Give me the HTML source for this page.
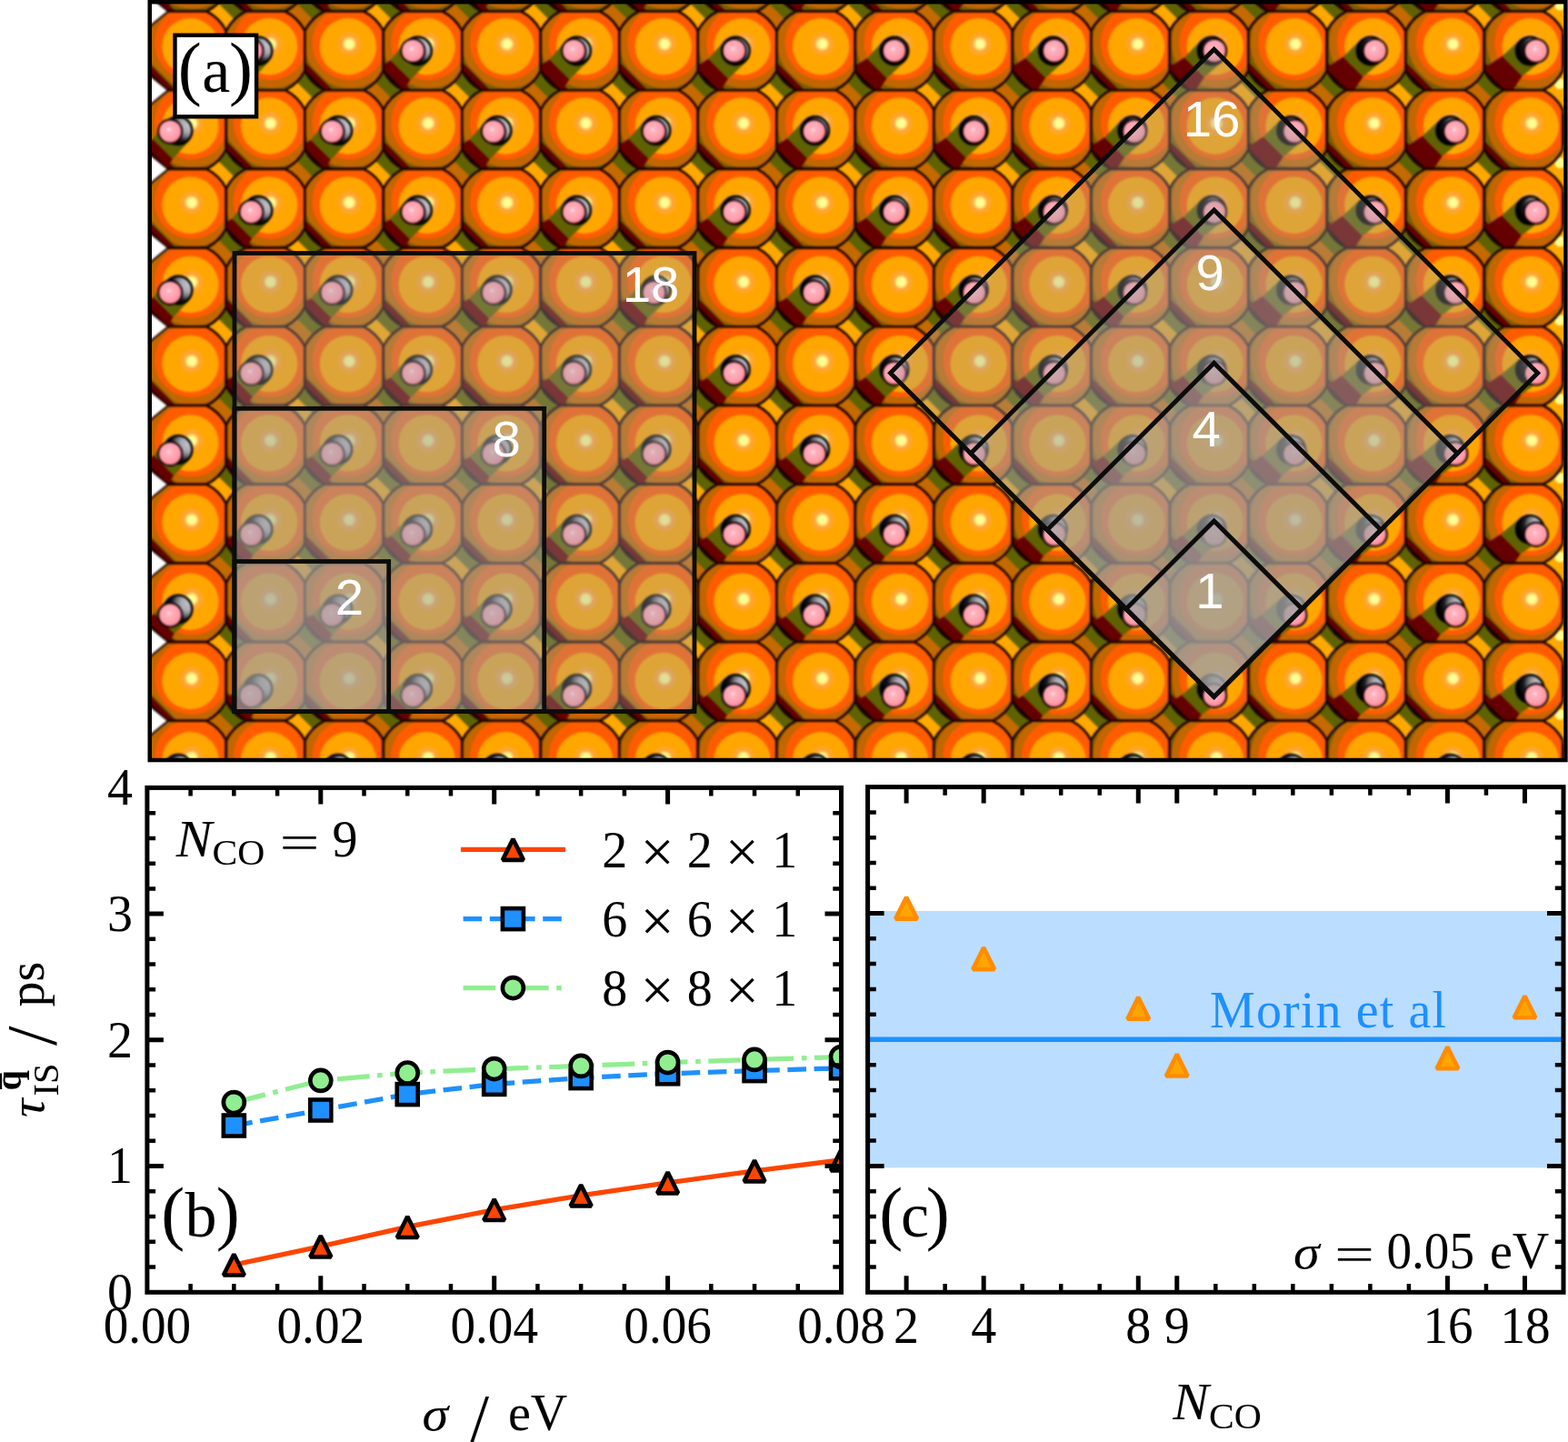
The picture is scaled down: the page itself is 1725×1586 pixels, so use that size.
<!DOCTYPE html>
<html lang="en"><head><meta charset="utf-8"><title>Figure</title>
<style>
html,body{margin:0;padding:0;background:#fff;}
body{width:1725px;height:1586px;overflow:hidden;}
svg{display:block;}
.se{font-family:"Liberation Serif","DejaVu Serif",serif;}
.sa{font-family:"Liberation Sans","DejaVu Sans",sans-serif;}
</style></head><body>
<svg width="1725" height="1586" viewBox="0 0 1725 1586">
<defs>
<path id="cs" d="M-43.25,-21.95L-43.25,21.95A48.5,48.5 0 0 0 -21.75,43.35L21.75,43.35A48.5,48.5 0 0 0 43.25,21.95L43.25,-21.95A48.5,48.5 0 0 0 21.75,-43.35L-21.75,-43.35A48.5,48.5 0 0 0 -43.25,-21.95Z"/>
<clipPath id="cc"><use href="#cs"/></clipPath>
<clipPath id="sh"><ellipse cx="26" cy="0" rx="40" ry="17"/></clipPath>
<clipPath id="pa"><rect x="167" y="4.4" width="1553" height="829.4"/></clipPath>
<clipPath id="pb"><rect x="161.9" y="866.4" width="763.6" height="554.9"/></clipPath>
<radialGradient id="gO" cx="0.45" cy="0.42" r="0.62"><stop offset="0" stop-color="#fff"/><stop offset="0.14" stop-color="#ffb4c0"/><stop offset="0.7" stop-color="#ff9aa8"/><stop offset="1" stop-color="#e8607a"/></radialGradient>
<radialGradient id="gC" cx="0.85" cy="0.3" r="0.78"><stop offset="0" stop-color="#c2c2ca"/><stop offset="0.35" stop-color="#a8a8b0"/><stop offset="0.55" stop-color="#707076"/><stop offset="0.74" stop-color="#1a1a1e"/><stop offset="1" stop-color="#000"/></radialGradient>
<radialGradient id="gH"><stop offset="0" stop-color="#ffffa0"/><stop offset="0.5" stop-color="#ffff8c"/><stop offset="0.75" stop-color="#ffd070"/><stop offset="1" stop-color="#ffb050" stop-opacity="0"/></radialGradient>
<filter id="bl" x="0" y="0" width="100%" height="100%" filterUnits="userSpaceOnUse" color-interpolation-filters="sRGB"><feGaussianBlur stdDeviation="1.0"/></filter>
</defs>
<rect width="1725" height="1586" fill="#fff"/>
<g clip-path="url(#pa)">
<g filter="url(#bl)">
<rect x="160" y="0" width="1565" height="840" fill="#1c0a00"/>
<g>
<rect x="136.3" y="-13.5" width="52" height="52" fill="#fff"/>
<rect x="136.3" y="73.2" width="52" height="52" fill="#fff"/>
<rect x="136.3" y="159.9" width="52" height="52" fill="#fff"/>
<rect x="136.3" y="246.6" width="52" height="52" fill="#fff"/>
<rect x="136.3" y="333.3" width="52" height="52" fill="#fff"/>
<rect x="136.3" y="420" width="52" height="52" fill="#fff"/>
<rect x="136.3" y="506.7" width="52" height="52" fill="#fff"/>
<rect x="136.3" y="593.4" width="52" height="52" fill="#fff"/>
<rect x="136.3" y="680.1" width="52" height="52" fill="#fff"/>
<rect x="136.3" y="766.8" width="52" height="52" fill="#fff"/>
<g transform="translate(248.8,12.5)"><rect x="-26" y="-26" width="52" height="52" fill="#ffa800"/><path d="M-25.7,-26L26,-26L26,25.7Z" fill="#5f6200"/></g>
<g transform="translate(248.8,99.2)"><rect x="-26" y="-26" width="52" height="52" fill="#c46a00"/><path d="M-25.7,-26L26,-26L26,25.7Z" fill="#5f6200"/></g>
<g transform="translate(248.8,185.9)"><rect x="-26" y="-26" width="52" height="52" fill="#ffa800"/><path d="M-25.7,-26L26,-26L26,25.7Z" fill="#5f6200"/></g>
<g transform="translate(248.8,272.6)"><rect x="-26" y="-26" width="52" height="52" fill="#c46a00"/><path d="M-25.7,-26L26,-26L26,25.7Z" fill="#5f6200"/></g>
<g transform="translate(248.8,359.3)"><rect x="-26" y="-26" width="52" height="52" fill="#ffa800"/><path d="M-25.7,-26L26,-26L26,25.7Z" fill="#5f6200"/></g>
<g transform="translate(248.8,446)"><rect x="-26" y="-26" width="52" height="52" fill="#c46a00"/><path d="M-25.7,-26L26,-26L26,25.7Z" fill="#5f6200"/></g>
<g transform="translate(248.8,532.7)"><rect x="-26" y="-26" width="52" height="52" fill="#ffa800"/><path d="M-25.7,-26L26,-26L26,25.7Z" fill="#5f6200"/></g>
<g transform="translate(248.8,619.4)"><rect x="-26" y="-26" width="52" height="52" fill="#c46a00"/><path d="M-25.7,-26L26,-26L26,25.7Z" fill="#5f6200"/></g>
<g transform="translate(248.8,706.1)"><rect x="-26" y="-26" width="52" height="52" fill="#ffa800"/><path d="M-25.7,-26L26,-26L26,25.7Z" fill="#5f6200"/></g>
<g transform="translate(248.8,792.8)"><rect x="-26" y="-26" width="52" height="52" fill="#c46a00"/><path d="M-25.7,-26L26,-26L26,25.7Z" fill="#5f6200"/></g>
<g transform="translate(335.3,12.5)"><rect x="-26" y="-26" width="52" height="52" fill="#c46a00"/><path d="M-25.7,-26L26,-26L26,25.7Z" fill="#5f6200"/></g>
<g transform="translate(335.3,99.2)"><rect x="-26" y="-26" width="52" height="52" fill="#ffa800"/><path d="M-25.7,-26L26,-26L26,25.7Z" fill="#5f6200"/></g>
<g transform="translate(335.3,185.9)"><rect x="-26" y="-26" width="52" height="52" fill="#c46a00"/><path d="M-25.7,-26L26,-26L26,25.7Z" fill="#5f6200"/></g>
<g transform="translate(335.3,272.6)"><rect x="-26" y="-26" width="52" height="52" fill="#ffa800"/><path d="M-25.7,-26L26,-26L26,25.7Z" fill="#5f6200"/></g>
<g transform="translate(335.3,359.3)"><rect x="-26" y="-26" width="52" height="52" fill="#c46a00"/><path d="M-25.7,-26L26,-26L26,25.7Z" fill="#5f6200"/></g>
<g transform="translate(335.3,446)"><rect x="-26" y="-26" width="52" height="52" fill="#ffa800"/><path d="M-25.7,-26L26,-26L26,25.7Z" fill="#5f6200"/></g>
<g transform="translate(335.3,532.7)"><rect x="-26" y="-26" width="52" height="52" fill="#c46a00"/><path d="M-25.7,-26L26,-26L26,25.7Z" fill="#5f6200"/></g>
<g transform="translate(335.3,619.4)"><rect x="-26" y="-26" width="52" height="52" fill="#ffa800"/><path d="M-25.7,-26L26,-26L26,25.7Z" fill="#5f6200"/></g>
<g transform="translate(335.3,706.1)"><rect x="-26" y="-26" width="52" height="52" fill="#c46a00"/><path d="M-25.7,-26L26,-26L26,25.7Z" fill="#5f6200"/></g>
<g transform="translate(335.3,792.8)"><rect x="-26" y="-26" width="52" height="52" fill="#ffa800"/><path d="M-25.7,-26L26,-26L26,25.7Z" fill="#5f6200"/></g>
<g transform="translate(421.8,12.5)"><rect x="-26" y="-26" width="52" height="52" fill="#ffa800"/><path d="M-25.7,-26L26,-26L26,25.7Z" fill="#5f6200"/></g>
<g transform="translate(421.8,99.2)"><rect x="-26" y="-26" width="52" height="52" fill="#c46a00"/><path d="M-25.7,-26L26,-26L26,25.7Z" fill="#5f6200"/></g>
<g transform="translate(421.8,185.9)"><rect x="-26" y="-26" width="52" height="52" fill="#ffa800"/><path d="M-25.7,-26L26,-26L26,25.7Z" fill="#5f6200"/></g>
<g transform="translate(421.8,272.6)"><rect x="-26" y="-26" width="52" height="52" fill="#c46a00"/><path d="M-25.7,-26L26,-26L26,25.7Z" fill="#5f6200"/></g>
<g transform="translate(421.8,359.3)"><rect x="-26" y="-26" width="52" height="52" fill="#ffa800"/><path d="M-25.7,-26L26,-26L26,25.7Z" fill="#5f6200"/></g>
<g transform="translate(421.8,446)"><rect x="-26" y="-26" width="52" height="52" fill="#c46a00"/><path d="M-25.7,-26L26,-26L26,25.7Z" fill="#5f6200"/></g>
<g transform="translate(421.8,532.7)"><rect x="-26" y="-26" width="52" height="52" fill="#ffa800"/><path d="M-25.7,-26L26,-26L26,25.7Z" fill="#5f6200"/></g>
<g transform="translate(421.8,619.4)"><rect x="-26" y="-26" width="52" height="52" fill="#c46a00"/><path d="M-25.7,-26L26,-26L26,25.7Z" fill="#5f6200"/></g>
<g transform="translate(421.8,706.1)"><rect x="-26" y="-26" width="52" height="52" fill="#ffa800"/><path d="M-25.7,-26L26,-26L26,25.7Z" fill="#5f6200"/></g>
<g transform="translate(421.8,792.8)"><rect x="-26" y="-26" width="52" height="52" fill="#c46a00"/><path d="M-25.7,-26L26,-26L26,25.7Z" fill="#5f6200"/></g>
<g transform="translate(508.3,12.5)"><rect x="-26" y="-26" width="52" height="52" fill="#c46a00"/><path d="M-25.7,-26L26,-26L26,25.7Z" fill="#5f6200"/></g>
<g transform="translate(508.3,99.2)"><rect x="-26" y="-26" width="52" height="52" fill="#ffa800"/><path d="M-25.7,-26L26,-26L26,25.7Z" fill="#5f6200"/></g>
<g transform="translate(508.3,185.9)"><rect x="-26" y="-26" width="52" height="52" fill="#c46a00"/><path d="M-25.7,-26L26,-26L26,25.7Z" fill="#5f6200"/></g>
<g transform="translate(508.3,272.6)"><rect x="-26" y="-26" width="52" height="52" fill="#ffa800"/><path d="M-25.7,-26L26,-26L26,25.7Z" fill="#5f6200"/></g>
<g transform="translate(508.3,359.3)"><rect x="-26" y="-26" width="52" height="52" fill="#c46a00"/><path d="M-25.7,-26L26,-26L26,25.7Z" fill="#5f6200"/></g>
<g transform="translate(508.3,446)"><rect x="-26" y="-26" width="52" height="52" fill="#ffa800"/><path d="M-25.7,-26L26,-26L26,25.7Z" fill="#5f6200"/></g>
<g transform="translate(508.3,532.7)"><rect x="-26" y="-26" width="52" height="52" fill="#c46a00"/><path d="M-25.7,-26L26,-26L26,25.7Z" fill="#5f6200"/></g>
<g transform="translate(508.3,619.4)"><rect x="-26" y="-26" width="52" height="52" fill="#ffa800"/><path d="M-25.7,-26L26,-26L26,25.7Z" fill="#5f6200"/></g>
<g transform="translate(508.3,706.1)"><rect x="-26" y="-26" width="52" height="52" fill="#c46a00"/><path d="M-25.7,-26L26,-26L26,25.7Z" fill="#5f6200"/></g>
<g transform="translate(508.3,792.8)"><rect x="-26" y="-26" width="52" height="52" fill="#ffa800"/><path d="M-25.7,-26L26,-26L26,25.7Z" fill="#5f6200"/></g>
<g transform="translate(594.8,12.5)"><rect x="-26" y="-26" width="52" height="52" fill="#ffa800"/><path d="M-25.7,-26L26,-26L26,25.7Z" fill="#5f6200"/></g>
<g transform="translate(594.8,99.2)"><rect x="-26" y="-26" width="52" height="52" fill="#c46a00"/><path d="M-25.7,-26L26,-26L26,25.7Z" fill="#5f6200"/></g>
<g transform="translate(594.8,185.9)"><rect x="-26" y="-26" width="52" height="52" fill="#ffa800"/><path d="M-25.7,-26L26,-26L26,25.7Z" fill="#5f6200"/></g>
<g transform="translate(594.8,272.6)"><rect x="-26" y="-26" width="52" height="52" fill="#c46a00"/><path d="M-25.7,-26L26,-26L26,25.7Z" fill="#5f6200"/></g>
<g transform="translate(594.8,359.3)"><rect x="-26" y="-26" width="52" height="52" fill="#ffa800"/><path d="M-25.7,-26L26,-26L26,25.7Z" fill="#5f6200"/></g>
<g transform="translate(594.8,446)"><rect x="-26" y="-26" width="52" height="52" fill="#c46a00"/><path d="M-25.7,-26L26,-26L26,25.7Z" fill="#5f6200"/></g>
<g transform="translate(594.8,532.7)"><rect x="-26" y="-26" width="52" height="52" fill="#ffa800"/><path d="M-25.7,-26L26,-26L26,25.7Z" fill="#5f6200"/></g>
<g transform="translate(594.8,619.4)"><rect x="-26" y="-26" width="52" height="52" fill="#c46a00"/><path d="M-25.7,-26L26,-26L26,25.7Z" fill="#5f6200"/></g>
<g transform="translate(594.8,706.1)"><rect x="-26" y="-26" width="52" height="52" fill="#ffa800"/><path d="M-25.7,-26L26,-26L26,25.7Z" fill="#5f6200"/></g>
<g transform="translate(594.8,792.8)"><rect x="-26" y="-26" width="52" height="52" fill="#c46a00"/><path d="M-25.7,-26L26,-26L26,25.7Z" fill="#5f6200"/></g>
<g transform="translate(681.3,12.5)"><rect x="-26" y="-26" width="52" height="52" fill="#c46a00"/><path d="M-25.7,-26L26,-26L26,25.7Z" fill="#5f6200"/></g>
<g transform="translate(681.3,99.2)"><rect x="-26" y="-26" width="52" height="52" fill="#ffa800"/><path d="M-25.7,-26L26,-26L26,25.7Z" fill="#5f6200"/></g>
<g transform="translate(681.3,185.9)"><rect x="-26" y="-26" width="52" height="52" fill="#c46a00"/><path d="M-25.7,-26L26,-26L26,25.7Z" fill="#5f6200"/></g>
<g transform="translate(681.3,272.6)"><rect x="-26" y="-26" width="52" height="52" fill="#ffa800"/><path d="M-25.7,-26L26,-26L26,25.7Z" fill="#5f6200"/></g>
<g transform="translate(681.3,359.3)"><rect x="-26" y="-26" width="52" height="52" fill="#c46a00"/><path d="M-25.7,-26L26,-26L26,25.7Z" fill="#5f6200"/></g>
<g transform="translate(681.3,446)"><rect x="-26" y="-26" width="52" height="52" fill="#ffa800"/><path d="M-25.7,-26L26,-26L26,25.7Z" fill="#5f6200"/></g>
<g transform="translate(681.3,532.7)"><rect x="-26" y="-26" width="52" height="52" fill="#c46a00"/><path d="M-25.7,-26L26,-26L26,25.7Z" fill="#5f6200"/></g>
<g transform="translate(681.3,619.4)"><rect x="-26" y="-26" width="52" height="52" fill="#ffa800"/><path d="M-25.7,-26L26,-26L26,25.7Z" fill="#5f6200"/></g>
<g transform="translate(681.3,706.1)"><rect x="-26" y="-26" width="52" height="52" fill="#c46a00"/><path d="M-25.7,-26L26,-26L26,25.7Z" fill="#5f6200"/></g>
<g transform="translate(681.3,792.8)"><rect x="-26" y="-26" width="52" height="52" fill="#ffa800"/><path d="M-25.7,-26L26,-26L26,25.7Z" fill="#5f6200"/></g>
<g transform="translate(767.8,12.5)"><rect x="-26" y="-26" width="52" height="52" fill="#ffa800"/><path d="M-25.7,-26L26,-26L26,25.7Z" fill="#5f6200"/></g>
<g transform="translate(767.8,99.2)"><rect x="-26" y="-26" width="52" height="52" fill="#c46a00"/><path d="M-25.7,-26L26,-26L26,25.7Z" fill="#5f6200"/></g>
<g transform="translate(767.8,185.9)"><rect x="-26" y="-26" width="52" height="52" fill="#ffa800"/><path d="M-25.7,-26L26,-26L26,25.7Z" fill="#5f6200"/></g>
<g transform="translate(767.8,272.6)"><rect x="-26" y="-26" width="52" height="52" fill="#c46a00"/><path d="M-25.7,-26L26,-26L26,25.7Z" fill="#5f6200"/></g>
<g transform="translate(767.8,359.3)"><rect x="-26" y="-26" width="52" height="52" fill="#ffa800"/><path d="M-25.7,-26L26,-26L26,25.7Z" fill="#5f6200"/></g>
<g transform="translate(767.8,446)"><rect x="-26" y="-26" width="52" height="52" fill="#c46a00"/><path d="M-25.7,-26L26,-26L26,25.7Z" fill="#5f6200"/></g>
<g transform="translate(767.8,532.7)"><rect x="-26" y="-26" width="52" height="52" fill="#ffa800"/><path d="M-25.7,-26L26,-26L26,25.7Z" fill="#5f6200"/></g>
<g transform="translate(767.8,619.4)"><rect x="-26" y="-26" width="52" height="52" fill="#c46a00"/><path d="M-25.7,-26L26,-26L26,25.7Z" fill="#5f6200"/></g>
<g transform="translate(767.8,706.1)"><rect x="-26" y="-26" width="52" height="52" fill="#ffa800"/><path d="M-25.7,-26L26,-26L26,25.7Z" fill="#5f6200"/></g>
<g transform="translate(767.8,792.8)"><rect x="-26" y="-26" width="52" height="52" fill="#c46a00"/><path d="M-25.7,-26L26,-26L26,25.7Z" fill="#5f6200"/></g>
<g transform="translate(854.3,12.5)"><rect x="-26" y="-26" width="52" height="52" fill="#c46a00"/><path d="M-25.7,-26L26,-26L26,25.7Z" fill="#5f6200"/></g>
<g transform="translate(854.3,99.2)"><rect x="-26" y="-26" width="52" height="52" fill="#ffa800"/><path d="M-25.7,-26L26,-26L26,25.7Z" fill="#5f6200"/></g>
<g transform="translate(854.3,185.9)"><rect x="-26" y="-26" width="52" height="52" fill="#c46a00"/><path d="M-25.7,-26L26,-26L26,25.7Z" fill="#5f6200"/></g>
<g transform="translate(854.3,272.6)"><rect x="-26" y="-26" width="52" height="52" fill="#ffa800"/><path d="M-25.7,-26L26,-26L26,25.7Z" fill="#5f6200"/></g>
<g transform="translate(854.3,359.3)"><rect x="-26" y="-26" width="52" height="52" fill="#c46a00"/><path d="M-25.7,-26L26,-26L26,25.7Z" fill="#5f6200"/></g>
<g transform="translate(854.3,446)"><rect x="-26" y="-26" width="52" height="52" fill="#ffa800"/><path d="M-25.7,-26L26,-26L26,25.7Z" fill="#5f6200"/></g>
<g transform="translate(854.3,532.7)"><rect x="-26" y="-26" width="52" height="52" fill="#c46a00"/><path d="M-25.7,-26L26,-26L26,25.7Z" fill="#5f6200"/></g>
<g transform="translate(854.3,619.4)"><rect x="-26" y="-26" width="52" height="52" fill="#ffa800"/><path d="M-25.7,-26L26,-26L26,25.7Z" fill="#5f6200"/></g>
<g transform="translate(854.3,706.1)"><rect x="-26" y="-26" width="52" height="52" fill="#c46a00"/><path d="M-25.7,-26L26,-26L26,25.7Z" fill="#5f6200"/></g>
<g transform="translate(854.3,792.8)"><rect x="-26" y="-26" width="52" height="52" fill="#ffa800"/><path d="M-25.7,-26L26,-26L26,25.7Z" fill="#5f6200"/></g>
<g transform="translate(940.8,12.5)"><rect x="-26" y="-26" width="52" height="52" fill="#ffa800"/><path d="M-25.7,-26L26,-26L26,25.7Z" fill="#5f6200"/></g>
<g transform="translate(940.8,99.2)"><rect x="-26" y="-26" width="52" height="52" fill="#c46a00"/><path d="M-25.7,-26L26,-26L26,25.7Z" fill="#5f6200"/></g>
<g transform="translate(940.8,185.9)"><rect x="-26" y="-26" width="52" height="52" fill="#ffa800"/><path d="M-25.7,-26L26,-26L26,25.7Z" fill="#5f6200"/></g>
<g transform="translate(940.8,272.6)"><rect x="-26" y="-26" width="52" height="52" fill="#c46a00"/><path d="M-25.7,-26L26,-26L26,25.7Z" fill="#5f6200"/></g>
<g transform="translate(940.8,359.3)"><rect x="-26" y="-26" width="52" height="52" fill="#ffa800"/><path d="M-25.7,-26L26,-26L26,25.7Z" fill="#5f6200"/></g>
<g transform="translate(940.8,446)"><rect x="-26" y="-26" width="52" height="52" fill="#c46a00"/><path d="M-25.7,-26L26,-26L26,25.7Z" fill="#5f6200"/></g>
<g transform="translate(940.8,532.7)"><rect x="-26" y="-26" width="52" height="52" fill="#ffa800"/><path d="M-25.7,-26L26,-26L26,25.7Z" fill="#5f6200"/></g>
<g transform="translate(940.8,619.4)"><rect x="-26" y="-26" width="52" height="52" fill="#c46a00"/><path d="M-25.7,-26L26,-26L26,25.7Z" fill="#5f6200"/></g>
<g transform="translate(940.8,706.1)"><rect x="-26" y="-26" width="52" height="52" fill="#ffa800"/><path d="M-25.7,-26L26,-26L26,25.7Z" fill="#5f6200"/></g>
<g transform="translate(940.8,792.8)"><rect x="-26" y="-26" width="52" height="52" fill="#c46a00"/><path d="M-25.7,-26L26,-26L26,25.7Z" fill="#5f6200"/></g>
<g transform="translate(1027.3,12.5)"><rect x="-26" y="-26" width="52" height="52" fill="#c46a00"/><path d="M-25.7,-26L26,-26L26,25.7Z" fill="#5f6200"/></g>
<g transform="translate(1027.3,99.2)"><rect x="-26" y="-26" width="52" height="52" fill="#ffa800"/><path d="M-25.7,-26L26,-26L26,25.7Z" fill="#5f6200"/></g>
<g transform="translate(1027.3,185.9)"><rect x="-26" y="-26" width="52" height="52" fill="#c46a00"/><path d="M-25.7,-26L26,-26L26,25.7Z" fill="#5f6200"/></g>
<g transform="translate(1027.3,272.6)"><rect x="-26" y="-26" width="52" height="52" fill="#ffa800"/><path d="M-25.7,-26L26,-26L26,25.7Z" fill="#5f6200"/></g>
<g transform="translate(1027.3,359.3)"><rect x="-26" y="-26" width="52" height="52" fill="#c46a00"/><path d="M-25.7,-26L26,-26L26,25.7Z" fill="#5f6200"/></g>
<g transform="translate(1027.3,446)"><rect x="-26" y="-26" width="52" height="52" fill="#ffa800"/><path d="M-25.7,-26L26,-26L26,25.7Z" fill="#5f6200"/></g>
<g transform="translate(1027.3,532.7)"><rect x="-26" y="-26" width="52" height="52" fill="#c46a00"/><path d="M-25.7,-26L26,-26L26,25.7Z" fill="#5f6200"/></g>
<g transform="translate(1027.3,619.4)"><rect x="-26" y="-26" width="52" height="52" fill="#ffa800"/><path d="M-25.7,-26L26,-26L26,25.7Z" fill="#5f6200"/></g>
<g transform="translate(1027.3,706.1)"><rect x="-26" y="-26" width="52" height="52" fill="#c46a00"/><path d="M-25.7,-26L26,-26L26,25.7Z" fill="#5f6200"/></g>
<g transform="translate(1027.3,792.8)"><rect x="-26" y="-26" width="52" height="52" fill="#ffa800"/><path d="M-25.7,-26L26,-26L26,25.7Z" fill="#5f6200"/></g>
<g transform="translate(1113.8,12.5)"><rect x="-26" y="-26" width="52" height="52" fill="#ffa800"/><path d="M-25.7,-26L26,-26L26,25.7Z" fill="#5f6200"/></g>
<g transform="translate(1113.8,99.2)"><rect x="-26" y="-26" width="52" height="52" fill="#c46a00"/><path d="M-25.7,-26L26,-26L26,25.7Z" fill="#5f6200"/></g>
<g transform="translate(1113.8,185.9)"><rect x="-26" y="-26" width="52" height="52" fill="#ffa800"/><path d="M-25.7,-26L26,-26L26,25.7Z" fill="#5f6200"/></g>
<g transform="translate(1113.8,272.6)"><rect x="-26" y="-26" width="52" height="52" fill="#c46a00"/><path d="M-25.7,-26L26,-26L26,25.7Z" fill="#5f6200"/></g>
<g transform="translate(1113.8,359.3)"><rect x="-26" y="-26" width="52" height="52" fill="#ffa800"/><path d="M-25.7,-26L26,-26L26,25.7Z" fill="#5f6200"/></g>
<g transform="translate(1113.8,446)"><rect x="-26" y="-26" width="52" height="52" fill="#c46a00"/><path d="M-25.7,-26L26,-26L26,25.7Z" fill="#5f6200"/></g>
<g transform="translate(1113.8,532.7)"><rect x="-26" y="-26" width="52" height="52" fill="#ffa800"/><path d="M-25.7,-26L26,-26L26,25.7Z" fill="#5f6200"/></g>
<g transform="translate(1113.8,619.4)"><rect x="-26" y="-26" width="52" height="52" fill="#c46a00"/><path d="M-25.7,-26L26,-26L26,25.7Z" fill="#5f6200"/></g>
<g transform="translate(1113.8,706.1)"><rect x="-26" y="-26" width="52" height="52" fill="#ffa800"/><path d="M-25.7,-26L26,-26L26,25.7Z" fill="#5f6200"/></g>
<g transform="translate(1113.8,792.8)"><rect x="-26" y="-26" width="52" height="52" fill="#c46a00"/><path d="M-25.7,-26L26,-26L26,25.7Z" fill="#5f6200"/></g>
<g transform="translate(1200.3,12.5)"><rect x="-26" y="-26" width="52" height="52" fill="#c46a00"/><path d="M-25.7,-26L26,-26L26,25.7Z" fill="#5f6200"/></g>
<g transform="translate(1200.3,99.2)"><rect x="-26" y="-26" width="52" height="52" fill="#ffa800"/><path d="M-25.7,-26L26,-26L26,25.7Z" fill="#5f6200"/></g>
<g transform="translate(1200.3,185.9)"><rect x="-26" y="-26" width="52" height="52" fill="#c46a00"/><path d="M-25.7,-26L26,-26L26,25.7Z" fill="#5f6200"/></g>
<g transform="translate(1200.3,272.6)"><rect x="-26" y="-26" width="52" height="52" fill="#ffa800"/><path d="M-25.7,-26L26,-26L26,25.7Z" fill="#5f6200"/></g>
<g transform="translate(1200.3,359.3)"><rect x="-26" y="-26" width="52" height="52" fill="#c46a00"/><path d="M-25.7,-26L26,-26L26,25.7Z" fill="#5f6200"/></g>
<g transform="translate(1200.3,446)"><rect x="-26" y="-26" width="52" height="52" fill="#ffa800"/><path d="M-25.7,-26L26,-26L26,25.7Z" fill="#5f6200"/></g>
<g transform="translate(1200.3,532.7)"><rect x="-26" y="-26" width="52" height="52" fill="#c46a00"/><path d="M-25.7,-26L26,-26L26,25.7Z" fill="#5f6200"/></g>
<g transform="translate(1200.3,619.4)"><rect x="-26" y="-26" width="52" height="52" fill="#ffa800"/><path d="M-25.7,-26L26,-26L26,25.7Z" fill="#5f6200"/></g>
<g transform="translate(1200.3,706.1)"><rect x="-26" y="-26" width="52" height="52" fill="#c46a00"/><path d="M-25.7,-26L26,-26L26,25.7Z" fill="#5f6200"/></g>
<g transform="translate(1200.3,792.8)"><rect x="-26" y="-26" width="52" height="52" fill="#ffa800"/><path d="M-25.7,-26L26,-26L26,25.7Z" fill="#5f6200"/></g>
<g transform="translate(1286.8,12.5)"><rect x="-26" y="-26" width="52" height="52" fill="#ffa800"/><path d="M-25.7,-26L26,-26L26,25.7Z" fill="#5f6200"/></g>
<g transform="translate(1286.8,99.2)"><rect x="-26" y="-26" width="52" height="52" fill="#c46a00"/><path d="M-25.7,-26L26,-26L26,25.7Z" fill="#5f6200"/></g>
<g transform="translate(1286.8,185.9)"><rect x="-26" y="-26" width="52" height="52" fill="#ffa800"/><path d="M-25.7,-26L26,-26L26,25.7Z" fill="#5f6200"/></g>
<g transform="translate(1286.8,272.6)"><rect x="-26" y="-26" width="52" height="52" fill="#c46a00"/><path d="M-25.7,-26L26,-26L26,25.7Z" fill="#5f6200"/></g>
<g transform="translate(1286.8,359.3)"><rect x="-26" y="-26" width="52" height="52" fill="#ffa800"/><path d="M-25.7,-26L26,-26L26,25.7Z" fill="#5f6200"/></g>
<g transform="translate(1286.8,446)"><rect x="-26" y="-26" width="52" height="52" fill="#c46a00"/><path d="M-25.7,-26L26,-26L26,25.7Z" fill="#5f6200"/></g>
<g transform="translate(1286.8,532.7)"><rect x="-26" y="-26" width="52" height="52" fill="#ffa800"/><path d="M-25.7,-26L26,-26L26,25.7Z" fill="#5f6200"/></g>
<g transform="translate(1286.8,619.4)"><rect x="-26" y="-26" width="52" height="52" fill="#c46a00"/><path d="M-25.7,-26L26,-26L26,25.7Z" fill="#5f6200"/></g>
<g transform="translate(1286.8,706.1)"><rect x="-26" y="-26" width="52" height="52" fill="#ffa800"/><path d="M-25.7,-26L26,-26L26,25.7Z" fill="#5f6200"/></g>
<g transform="translate(1286.8,792.8)"><rect x="-26" y="-26" width="52" height="52" fill="#c46a00"/><path d="M-25.7,-26L26,-26L26,25.7Z" fill="#5f6200"/></g>
<g transform="translate(1373.3,12.5)"><rect x="-26" y="-26" width="52" height="52" fill="#c46a00"/><path d="M-25.7,-26L26,-26L26,25.7Z" fill="#5f6200"/></g>
<g transform="translate(1373.3,99.2)"><rect x="-26" y="-26" width="52" height="52" fill="#ffa800"/><path d="M-25.7,-26L26,-26L26,25.7Z" fill="#5f6200"/></g>
<g transform="translate(1373.3,185.9)"><rect x="-26" y="-26" width="52" height="52" fill="#c46a00"/><path d="M-25.7,-26L26,-26L26,25.7Z" fill="#5f6200"/></g>
<g transform="translate(1373.3,272.6)"><rect x="-26" y="-26" width="52" height="52" fill="#ffa800"/><path d="M-25.7,-26L26,-26L26,25.7Z" fill="#5f6200"/></g>
<g transform="translate(1373.3,359.3)"><rect x="-26" y="-26" width="52" height="52" fill="#c46a00"/><path d="M-25.7,-26L26,-26L26,25.7Z" fill="#5f6200"/></g>
<g transform="translate(1373.3,446)"><rect x="-26" y="-26" width="52" height="52" fill="#ffa800"/><path d="M-25.7,-26L26,-26L26,25.7Z" fill="#5f6200"/></g>
<g transform="translate(1373.3,532.7)"><rect x="-26" y="-26" width="52" height="52" fill="#c46a00"/><path d="M-25.7,-26L26,-26L26,25.7Z" fill="#5f6200"/></g>
<g transform="translate(1373.3,619.4)"><rect x="-26" y="-26" width="52" height="52" fill="#ffa800"/><path d="M-25.7,-26L26,-26L26,25.7Z" fill="#5f6200"/></g>
<g transform="translate(1373.3,706.1)"><rect x="-26" y="-26" width="52" height="52" fill="#c46a00"/><path d="M-25.7,-26L26,-26L26,25.7Z" fill="#5f6200"/></g>
<g transform="translate(1373.3,792.8)"><rect x="-26" y="-26" width="52" height="52" fill="#ffa800"/><path d="M-25.7,-26L26,-26L26,25.7Z" fill="#5f6200"/></g>
<g transform="translate(1459.8,12.5)"><rect x="-26" y="-26" width="52" height="52" fill="#ffa800"/><path d="M-25.7,-26L26,-26L26,25.7Z" fill="#5f6200"/></g>
<g transform="translate(1459.8,99.2)"><rect x="-26" y="-26" width="52" height="52" fill="#c46a00"/><path d="M-25.7,-26L26,-26L26,25.7Z" fill="#5f6200"/></g>
<g transform="translate(1459.8,185.9)"><rect x="-26" y="-26" width="52" height="52" fill="#ffa800"/><path d="M-25.7,-26L26,-26L26,25.7Z" fill="#5f6200"/></g>
<g transform="translate(1459.8,272.6)"><rect x="-26" y="-26" width="52" height="52" fill="#c46a00"/><path d="M-25.7,-26L26,-26L26,25.7Z" fill="#5f6200"/></g>
<g transform="translate(1459.8,359.3)"><rect x="-26" y="-26" width="52" height="52" fill="#ffa800"/><path d="M-25.7,-26L26,-26L26,25.7Z" fill="#5f6200"/></g>
<g transform="translate(1459.8,446)"><rect x="-26" y="-26" width="52" height="52" fill="#c46a00"/><path d="M-25.7,-26L26,-26L26,25.7Z" fill="#5f6200"/></g>
<g transform="translate(1459.8,532.7)"><rect x="-26" y="-26" width="52" height="52" fill="#ffa800"/><path d="M-25.7,-26L26,-26L26,25.7Z" fill="#5f6200"/></g>
<g transform="translate(1459.8,619.4)"><rect x="-26" y="-26" width="52" height="52" fill="#c46a00"/><path d="M-25.7,-26L26,-26L26,25.7Z" fill="#5f6200"/></g>
<g transform="translate(1459.8,706.1)"><rect x="-26" y="-26" width="52" height="52" fill="#ffa800"/><path d="M-25.7,-26L26,-26L26,25.7Z" fill="#5f6200"/></g>
<g transform="translate(1459.8,792.8)"><rect x="-26" y="-26" width="52" height="52" fill="#c46a00"/><path d="M-25.7,-26L26,-26L26,25.7Z" fill="#5f6200"/></g>
<g transform="translate(1546.3,12.5)"><rect x="-26" y="-26" width="52" height="52" fill="#c46a00"/><path d="M-25.7,-26L26,-26L26,25.7Z" fill="#5f6200"/></g>
<g transform="translate(1546.3,99.2)"><rect x="-26" y="-26" width="52" height="52" fill="#ffa800"/><path d="M-25.7,-26L26,-26L26,25.7Z" fill="#5f6200"/></g>
<g transform="translate(1546.3,185.9)"><rect x="-26" y="-26" width="52" height="52" fill="#c46a00"/><path d="M-25.7,-26L26,-26L26,25.7Z" fill="#5f6200"/></g>
<g transform="translate(1546.3,272.6)"><rect x="-26" y="-26" width="52" height="52" fill="#ffa800"/><path d="M-25.7,-26L26,-26L26,25.7Z" fill="#5f6200"/></g>
<g transform="translate(1546.3,359.3)"><rect x="-26" y="-26" width="52" height="52" fill="#c46a00"/><path d="M-25.7,-26L26,-26L26,25.7Z" fill="#5f6200"/></g>
<g transform="translate(1546.3,446)"><rect x="-26" y="-26" width="52" height="52" fill="#ffa800"/><path d="M-25.7,-26L26,-26L26,25.7Z" fill="#5f6200"/></g>
<g transform="translate(1546.3,532.7)"><rect x="-26" y="-26" width="52" height="52" fill="#c46a00"/><path d="M-25.7,-26L26,-26L26,25.7Z" fill="#5f6200"/></g>
<g transform="translate(1546.3,619.4)"><rect x="-26" y="-26" width="52" height="52" fill="#ffa800"/><path d="M-25.7,-26L26,-26L26,25.7Z" fill="#5f6200"/></g>
<g transform="translate(1546.3,706.1)"><rect x="-26" y="-26" width="52" height="52" fill="#c46a00"/><path d="M-25.7,-26L26,-26L26,25.7Z" fill="#5f6200"/></g>
<g transform="translate(1546.3,792.8)"><rect x="-26" y="-26" width="52" height="52" fill="#ffa800"/><path d="M-25.7,-26L26,-26L26,25.7Z" fill="#5f6200"/></g>
<g transform="translate(1632.8,12.5)"><rect x="-26" y="-26" width="52" height="52" fill="#ffa800"/><path d="M-25.7,-26L26,-26L26,25.7Z" fill="#5f6200"/></g>
<g transform="translate(1632.8,99.2)"><rect x="-26" y="-26" width="52" height="52" fill="#c46a00"/><path d="M-25.7,-26L26,-26L26,25.7Z" fill="#5f6200"/></g>
<g transform="translate(1632.8,185.9)"><rect x="-26" y="-26" width="52" height="52" fill="#ffa800"/><path d="M-25.7,-26L26,-26L26,25.7Z" fill="#5f6200"/></g>
<g transform="translate(1632.8,272.6)"><rect x="-26" y="-26" width="52" height="52" fill="#c46a00"/><path d="M-25.7,-26L26,-26L26,25.7Z" fill="#5f6200"/></g>
<g transform="translate(1632.8,359.3)"><rect x="-26" y="-26" width="52" height="52" fill="#ffa800"/><path d="M-25.7,-26L26,-26L26,25.7Z" fill="#5f6200"/></g>
<g transform="translate(1632.8,446)"><rect x="-26" y="-26" width="52" height="52" fill="#c46a00"/><path d="M-25.7,-26L26,-26L26,25.7Z" fill="#5f6200"/></g>
<g transform="translate(1632.8,532.7)"><rect x="-26" y="-26" width="52" height="52" fill="#ffa800"/><path d="M-25.7,-26L26,-26L26,25.7Z" fill="#5f6200"/></g>
<g transform="translate(1632.8,619.4)"><rect x="-26" y="-26" width="52" height="52" fill="#c46a00"/><path d="M-25.7,-26L26,-26L26,25.7Z" fill="#5f6200"/></g>
<g transform="translate(1632.8,706.1)"><rect x="-26" y="-26" width="52" height="52" fill="#ffa800"/><path d="M-25.7,-26L26,-26L26,25.7Z" fill="#5f6200"/></g>
<g transform="translate(1632.8,792.8)"><rect x="-26" y="-26" width="52" height="52" fill="#c46a00"/><path d="M-25.7,-26L26,-26L26,25.7Z" fill="#5f6200"/></g>
<g transform="translate(1719.3,12.5)"><rect x="-26" y="-26" width="52" height="52" fill="#ffa800"/><circle cx="-3" cy="-7" r="6" fill="#ffff8c"/></g>
<g transform="translate(1719.3,99.2)"><rect x="-26" y="-26" width="52" height="52" fill="#ffa800"/><circle cx="-3" cy="-7" r="6" fill="#ffff8c"/></g>
<g transform="translate(1719.3,185.9)"><rect x="-26" y="-26" width="52" height="52" fill="#ffa800"/><circle cx="-3" cy="-7" r="6" fill="#ffff8c"/></g>
<g transform="translate(1719.3,272.6)"><rect x="-26" y="-26" width="52" height="52" fill="#ffa800"/><circle cx="-3" cy="-7" r="6" fill="#ffff8c"/></g>
<g transform="translate(1719.3,359.3)"><rect x="-26" y="-26" width="52" height="52" fill="#ffa800"/><circle cx="-3" cy="-7" r="6" fill="#ffff8c"/></g>
<g transform="translate(1719.3,446)"><rect x="-26" y="-26" width="52" height="52" fill="#ffa800"/><circle cx="-3" cy="-7" r="6" fill="#ffff8c"/></g>
<g transform="translate(1719.3,532.7)"><rect x="-26" y="-26" width="52" height="52" fill="#ffa800"/><circle cx="-3" cy="-7" r="6" fill="#ffff8c"/></g>
<g transform="translate(1719.3,619.4)"><rect x="-26" y="-26" width="52" height="52" fill="#ffa800"/><circle cx="-3" cy="-7" r="6" fill="#ffff8c"/></g>
<g transform="translate(1719.3,706.1)"><rect x="-26" y="-26" width="52" height="52" fill="#ffa800"/><circle cx="-3" cy="-7" r="6" fill="#ffff8c"/></g>
<g transform="translate(1719.3,792.8)"><rect x="-26" y="-26" width="52" height="52" fill="#ffa800"/><circle cx="-3" cy="-7" r="6" fill="#ffff8c"/></g>
</g>
<g transform="translate(205.55,-30.85)"><g clip-path="url(#cc)"><use href="#cs" fill="#c26600"/><circle cx="5.5" cy="-9.17" r="41" fill="#ff5c00"/><circle cx="3.9" cy="-5.12" r="31.2" fill="#ffa600"/><circle cx="5.3" cy="-8.02" r="12.7" fill="#ffa454" opacity="0.55"/><circle cx="5.3" cy="-8.02" r="8.6" fill="url(#gH)"/><circle cx="6" cy="-9.67" r="53.2" stroke="#7a5e00" stroke-width="6" fill="none"/><rect x="37.6" y="-40" width="30" height="80" fill="#6e6200" transform="rotate(135)"/><g transform="rotate(135)"><path d="M6.04,-9.19L34,-11.05L34,19.95L6.04,24.01Z" fill="#5f6200"/><path d="M34,-11.05L76,-19.55L76,28.45L34,19.95Z" fill="#640000"/></g><g transform="rotate(135)"><rect x="39.4" y="-40" width="30" height="80" fill="#640000"/><rect x="45.2" y="-40" width="30" height="80" fill="#140200"/></g></g><use href="#cs" fill="none" stroke="#1a0300" stroke-width="2.6"/></g>
<g transform="translate(292.05,-30.85)"><g clip-path="url(#cc)"><use href="#cs" fill="#c26600"/><circle cx="5.73" cy="-9.17" r="41" fill="#ff5c00"/><circle cx="4.13" cy="-5.12" r="31.2" fill="#ffa600"/><circle cx="5.53" cy="-8.02" r="12.7" fill="#ffa454" opacity="0.55"/><circle cx="5.53" cy="-8.02" r="8.6" fill="url(#gH)"/><circle cx="6.23" cy="-9.67" r="53.2" stroke="#7a5e00" stroke-width="6" fill="none"/><rect x="37.6" y="-40" width="30" height="80" fill="#6e6200" transform="rotate(135)"/><g transform="rotate(135)"><rect x="39.4" y="-40" width="30" height="80" fill="#640000"/><rect x="45.2" y="-40" width="30" height="80" fill="#140200"/></g></g><use href="#cs" fill="none" stroke="#1a0300" stroke-width="2.6"/></g>
<g transform="translate(378.55,-30.85)"><g clip-path="url(#cc)"><use href="#cs" fill="#c26600"/><circle cx="5.95" cy="-9.17" r="41" fill="#ff5c00"/><circle cx="4.35" cy="-5.12" r="31.2" fill="#ffa600"/><circle cx="5.75" cy="-8.02" r="12.7" fill="#ffa454" opacity="0.55"/><circle cx="5.75" cy="-8.02" r="8.6" fill="url(#gH)"/><circle cx="6.45" cy="-9.67" r="53.2" stroke="#7a5e00" stroke-width="6" fill="none"/><rect x="37.6" y="-40" width="30" height="80" fill="#6e6200" transform="rotate(135)"/><g transform="rotate(135)"><path d="M4.11,-11.12L32.65,-12.21L32.65,18.79L4.11,22.08Z" fill="#5f6200"/><path d="M32.65,-12.21L74.65,-20.71L74.65,27.29L32.65,18.79Z" fill="#640000"/></g><g transform="rotate(135)"><rect x="39.4" y="-40" width="30" height="80" fill="#640000"/><rect x="45.2" y="-40" width="30" height="80" fill="#140200"/></g></g><use href="#cs" fill="none" stroke="#1a0300" stroke-width="2.6"/></g>
<g transform="translate(465.05,-30.85)"><g clip-path="url(#cc)"><use href="#cs" fill="#c26600"/><circle cx="6.18" cy="-9.17" r="41" fill="#ff5c00"/><circle cx="4.58" cy="-5.12" r="31.2" fill="#ffa600"/><circle cx="5.98" cy="-8.02" r="12.7" fill="#ffa454" opacity="0.55"/><circle cx="5.98" cy="-8.02" r="8.6" fill="url(#gH)"/><circle cx="6.68" cy="-9.67" r="53.2" stroke="#7a5e00" stroke-width="6" fill="none"/><rect x="37.6" y="-40" width="30" height="80" fill="#6e6200" transform="rotate(135)"/><g transform="rotate(135)"><rect x="39.4" y="-40" width="30" height="80" fill="#640000"/><rect x="45.2" y="-40" width="30" height="80" fill="#140200"/></g></g><use href="#cs" fill="none" stroke="#1a0300" stroke-width="2.6"/></g>
<g transform="translate(551.55,-30.85)"><g clip-path="url(#cc)"><use href="#cs" fill="#c26600"/><circle cx="6.4" cy="-9.17" r="41" fill="#ff5c00"/><circle cx="4.8" cy="-5.12" r="31.2" fill="#ffa600"/><circle cx="6.2" cy="-8.02" r="12.7" fill="#ffa454" opacity="0.55"/><circle cx="6.2" cy="-8.02" r="8.6" fill="url(#gH)"/><circle cx="6.9" cy="-9.67" r="53.2" stroke="#7a5e00" stroke-width="6" fill="none"/><rect x="37.6" y="-40" width="30" height="80" fill="#6e6200" transform="rotate(135)"/><g transform="rotate(135)"><path d="M2.51,-12.72L30.56,-13.17L30.56,17.83L2.51,20.48Z" fill="#5f6200"/><path d="M30.56,-13.17L72.56,-21.67L72.56,26.33L30.56,17.83Z" fill="#640000"/></g><g transform="rotate(135)"><rect x="39.4" y="-40" width="30" height="80" fill="#640000"/><rect x="45.2" y="-40" width="30" height="80" fill="#140200"/></g></g><use href="#cs" fill="none" stroke="#1a0300" stroke-width="2.6"/></g>
<g transform="translate(638.05,-30.85)"><g clip-path="url(#cc)"><use href="#cs" fill="#c26600"/><circle cx="6.63" cy="-9.17" r="41" fill="#ff5c00"/><circle cx="5.03" cy="-5.12" r="31.2" fill="#ffa600"/><circle cx="6.43" cy="-8.02" r="12.7" fill="#ffa454" opacity="0.55"/><circle cx="6.43" cy="-8.02" r="8.6" fill="url(#gH)"/><circle cx="7.13" cy="-9.67" r="53.2" stroke="#7a5e00" stroke-width="6" fill="none"/><rect x="37.6" y="-40" width="30" height="80" fill="#6e6200" transform="rotate(135)"/><g transform="rotate(135)"><rect x="39.4" y="-40" width="30" height="80" fill="#640000"/><rect x="45.2" y="-40" width="30" height="80" fill="#140200"/></g></g><use href="#cs" fill="none" stroke="#1a0300" stroke-width="2.6"/></g>
<g transform="translate(724.55,-30.85)"><g clip-path="url(#cc)"><use href="#cs" fill="#c26600"/><circle cx="6.85" cy="-9.17" r="41" fill="#ff5c00"/><circle cx="5.25" cy="-5.12" r="31.2" fill="#ffa600"/><circle cx="6.65" cy="-8.02" r="12.7" fill="#ffa454" opacity="0.55"/><circle cx="6.65" cy="-8.02" r="8.6" fill="url(#gH)"/><circle cx="7.35" cy="-9.67" r="53.2" stroke="#7a5e00" stroke-width="6" fill="none"/><rect x="37.6" y="-40" width="30" height="80" fill="#6e6200" transform="rotate(135)"/><g transform="rotate(135)"><path d="M1.15,-14.08L28.8,-13.99L28.8,17.01L1.15,19.12Z" fill="#5f6200"/><path d="M28.8,-13.99L70.8,-22.49L70.8,25.51L28.8,17.01Z" fill="#640000"/></g><g transform="rotate(135)"><rect x="39.4" y="-40" width="30" height="80" fill="#640000"/><rect x="45.2" y="-40" width="30" height="80" fill="#140200"/></g></g><use href="#cs" fill="none" stroke="#1a0300" stroke-width="2.6"/></g>
<g transform="translate(811.05,-30.85)"><g clip-path="url(#cc)"><use href="#cs" fill="#c26600"/><circle cx="7.08" cy="-9.17" r="41" fill="#ff5c00"/><circle cx="5.48" cy="-5.12" r="31.2" fill="#ffa600"/><circle cx="6.88" cy="-8.02" r="12.7" fill="#ffa454" opacity="0.55"/><circle cx="6.88" cy="-8.02" r="8.6" fill="url(#gH)"/><circle cx="7.58" cy="-9.67" r="53.2" stroke="#7a5e00" stroke-width="6" fill="none"/><rect x="37.6" y="-40" width="30" height="80" fill="#6e6200" transform="rotate(135)"/><g transform="rotate(135)"><rect x="39.4" y="-40" width="30" height="80" fill="#640000"/><rect x="45.2" y="-40" width="30" height="80" fill="#140200"/></g></g><use href="#cs" fill="none" stroke="#1a0300" stroke-width="2.6"/></g>
<g transform="translate(897.55,-30.85)"><g clip-path="url(#cc)"><use href="#cs" fill="#c26600"/><circle cx="7.3" cy="-9.17" r="41" fill="#ff5c00"/><circle cx="5.7" cy="-5.12" r="31.2" fill="#ffa600"/><circle cx="7.1" cy="-8.02" r="12.7" fill="#ffa454" opacity="0.55"/><circle cx="7.1" cy="-8.02" r="8.6" fill="url(#gH)"/><circle cx="7.8" cy="-9.67" r="53.2" stroke="#7a5e00" stroke-width="6" fill="none"/><rect x="37.6" y="-40" width="30" height="80" fill="#6e6200" transform="rotate(135)"/><g transform="rotate(135)"><path d="M-0.05,-15.28L27.23,-14.71L27.23,16.29L-0.05,17.92Z" fill="#5f6200"/><path d="M27.23,-14.71L69.23,-23.21L69.23,24.79L27.23,16.29Z" fill="#640000"/></g><g transform="rotate(135)"><rect x="39.4" y="-40" width="30" height="80" fill="#640000"/><rect x="45.2" y="-40" width="30" height="80" fill="#140200"/></g></g><use href="#cs" fill="none" stroke="#1a0300" stroke-width="2.6"/></g>
<g transform="translate(984.05,-30.85)"><g clip-path="url(#cc)"><use href="#cs" fill="#c26600"/><circle cx="7.53" cy="-9.17" r="41" fill="#ff5c00"/><circle cx="5.93" cy="-5.12" r="31.2" fill="#ffa600"/><circle cx="7.33" cy="-8.02" r="12.7" fill="#ffa454" opacity="0.55"/><circle cx="7.33" cy="-8.02" r="8.6" fill="url(#gH)"/><circle cx="8.03" cy="-9.67" r="53.2" stroke="#7a5e00" stroke-width="6" fill="none"/><rect x="37.6" y="-40" width="30" height="80" fill="#6e6200" transform="rotate(135)"/><g transform="rotate(135)"><rect x="39.4" y="-40" width="30" height="80" fill="#640000"/><rect x="45.2" y="-40" width="30" height="80" fill="#140200"/></g></g><use href="#cs" fill="none" stroke="#1a0300" stroke-width="2.6"/></g>
<g transform="translate(1070.55,-30.85)"><g clip-path="url(#cc)"><use href="#cs" fill="#c26600"/><circle cx="7.75" cy="-9.17" r="41" fill="#ff5c00"/><circle cx="6.15" cy="-5.12" r="31.2" fill="#ffa600"/><circle cx="7.55" cy="-8.02" r="12.7" fill="#ffa454" opacity="0.55"/><circle cx="7.55" cy="-8.02" r="8.6" fill="url(#gH)"/><circle cx="8.25" cy="-9.67" r="53.2" stroke="#7a5e00" stroke-width="6" fill="none"/><rect x="37.6" y="-40" width="30" height="80" fill="#6e6200" transform="rotate(135)"/><g transform="rotate(135)"><path d="M-1.18,-16.41L25.77,-15.39L25.77,15.61L-1.18,16.79Z" fill="#5f6200"/><path d="M25.77,-15.39L67.77,-23.89L67.77,24.11L25.77,15.61Z" fill="#640000"/></g><g transform="rotate(135)"><rect x="39.4" y="-40" width="30" height="80" fill="#640000"/><rect x="45.2" y="-40" width="30" height="80" fill="#140200"/></g></g><use href="#cs" fill="none" stroke="#1a0300" stroke-width="2.6"/></g>
<g transform="translate(1157.05,-30.85)"><g clip-path="url(#cc)"><use href="#cs" fill="#c26600"/><circle cx="7.98" cy="-9.17" r="41" fill="#ff5c00"/><circle cx="6.38" cy="-5.12" r="31.2" fill="#ffa600"/><circle cx="7.78" cy="-8.02" r="12.7" fill="#ffa454" opacity="0.55"/><circle cx="7.78" cy="-8.02" r="8.6" fill="url(#gH)"/><circle cx="8.48" cy="-9.67" r="53.2" stroke="#7a5e00" stroke-width="6" fill="none"/><rect x="37.6" y="-40" width="30" height="80" fill="#6e6200" transform="rotate(135)"/><g transform="rotate(135)"><rect x="39.4" y="-40" width="30" height="80" fill="#640000"/><rect x="45.2" y="-40" width="30" height="80" fill="#140200"/></g></g><use href="#cs" fill="none" stroke="#1a0300" stroke-width="2.6"/></g>
<g transform="translate(1243.55,-30.85)"><g clip-path="url(#cc)"><use href="#cs" fill="#c26600"/><circle cx="8.2" cy="-9.17" r="41" fill="#ff5c00"/><circle cx="6.6" cy="-5.12" r="31.2" fill="#ffa600"/><circle cx="8" cy="-8.02" r="12.7" fill="#ffa454" opacity="0.55"/><circle cx="8" cy="-8.02" r="8.6" fill="url(#gH)"/><circle cx="8.7" cy="-9.67" r="53.2" stroke="#7a5e00" stroke-width="6" fill="none"/><rect x="37.6" y="-40" width="30" height="80" fill="#6e6200" transform="rotate(135)"/><g transform="rotate(135)"><path d="M-2.32,-17.55L24.28,-16.07L24.28,14.93L-2.32,15.65Z" fill="#5f6200"/><path d="M24.28,-16.07L66.28,-24.57L66.28,23.43L24.28,14.93Z" fill="#640000"/></g><g transform="rotate(135)"><rect x="39.4" y="-40" width="30" height="80" fill="#640000"/><rect x="45.2" y="-40" width="30" height="80" fill="#140200"/></g></g><use href="#cs" fill="none" stroke="#1a0300" stroke-width="2.6"/></g>
<g transform="translate(1330.05,-30.85)"><g clip-path="url(#cc)"><use href="#cs" fill="#c26600"/><circle cx="8.43" cy="-9.17" r="41" fill="#ff5c00"/><circle cx="6.83" cy="-5.12" r="31.2" fill="#ffa600"/><circle cx="8.23" cy="-8.02" r="12.7" fill="#ffa454" opacity="0.55"/><circle cx="8.23" cy="-8.02" r="8.6" fill="url(#gH)"/><circle cx="8.93" cy="-9.67" r="53.2" stroke="#7a5e00" stroke-width="6" fill="none"/><rect x="37.6" y="-40" width="30" height="80" fill="#6e6200" transform="rotate(135)"/><g transform="rotate(135)"><rect x="39.4" y="-40" width="30" height="80" fill="#640000"/><rect x="45.2" y="-40" width="30" height="80" fill="#140200"/></g></g><use href="#cs" fill="none" stroke="#1a0300" stroke-width="2.6"/></g>
<g transform="translate(1416.55,-30.85)"><g clip-path="url(#cc)"><use href="#cs" fill="#c26600"/><circle cx="8.65" cy="-9.17" r="41" fill="#ff5c00"/><circle cx="7.05" cy="-5.12" r="31.2" fill="#ffa600"/><circle cx="8.45" cy="-8.02" r="12.7" fill="#ffa454" opacity="0.55"/><circle cx="8.45" cy="-8.02" r="8.6" fill="url(#gH)"/><circle cx="9.15" cy="-9.67" r="53.2" stroke="#7a5e00" stroke-width="6" fill="none"/><rect x="37.6" y="-40" width="30" height="80" fill="#6e6200" transform="rotate(135)"/><g transform="rotate(135)"><path d="M-3.56,-18.79L22.67,-16.81L22.67,14.19L-3.56,14.41Z" fill="#5f6200"/><path d="M22.67,-16.81L64.67,-25.31L64.67,22.69L22.67,14.19Z" fill="#640000"/></g><g transform="rotate(135)"><rect x="39.4" y="-40" width="30" height="80" fill="#640000"/><rect x="45.2" y="-40" width="30" height="80" fill="#140200"/></g></g><use href="#cs" fill="none" stroke="#1a0300" stroke-width="2.6"/></g>
<g transform="translate(1503.05,-30.85)"><g clip-path="url(#cc)"><use href="#cs" fill="#c26600"/><circle cx="8.88" cy="-9.17" r="41" fill="#ff5c00"/><circle cx="7.28" cy="-5.12" r="31.2" fill="#ffa600"/><circle cx="8.68" cy="-8.02" r="12.7" fill="#ffa454" opacity="0.55"/><circle cx="8.68" cy="-8.02" r="8.6" fill="url(#gH)"/><circle cx="9.38" cy="-9.67" r="53.2" stroke="#7a5e00" stroke-width="6" fill="none"/><rect x="37.6" y="-40" width="30" height="80" fill="#6e6200" transform="rotate(135)"/><g transform="rotate(135)"><rect x="39.4" y="-40" width="30" height="80" fill="#640000"/><rect x="45.2" y="-40" width="30" height="80" fill="#140200"/></g></g><use href="#cs" fill="none" stroke="#1a0300" stroke-width="2.6"/></g>
<g transform="translate(1589.55,-30.85)"><g clip-path="url(#cc)"><use href="#cs" fill="#c26600"/><circle cx="9.1" cy="-9.17" r="41" fill="#ff5c00"/><circle cx="7.5" cy="-5.12" r="31.2" fill="#ffa600"/><circle cx="8.9" cy="-8.02" r="12.7" fill="#ffa454" opacity="0.55"/><circle cx="8.9" cy="-8.02" r="8.6" fill="url(#gH)"/><circle cx="9.6" cy="-9.67" r="53.2" stroke="#7a5e00" stroke-width="6" fill="none"/><rect x="37.6" y="-40" width="30" height="80" fill="#6e6200" transform="rotate(135)"/><g transform="rotate(135)"><path d="M-4.99,-20.22L20.82,-17.67L20.82,13.33L-4.99,12.98Z" fill="#5f6200"/><path d="M20.82,-17.67L62.82,-26.17L62.82,21.83L20.82,13.33Z" fill="#640000"/></g><g transform="rotate(135)"><rect x="39.4" y="-40" width="30" height="80" fill="#640000"/><rect x="45.2" y="-40" width="30" height="80" fill="#140200"/></g></g><use href="#cs" fill="none" stroke="#1a0300" stroke-width="2.6"/></g>
<g transform="translate(1676.05,-30.85)"><g clip-path="url(#cc)"><use href="#cs" fill="#c26600"/><circle cx="9.33" cy="-9.17" r="41" fill="#ff5c00"/><circle cx="7.73" cy="-5.12" r="31.2" fill="#ffa600"/><circle cx="9.13" cy="-8.02" r="12.7" fill="#ffa454" opacity="0.55"/><circle cx="9.13" cy="-8.02" r="8.6" fill="url(#gH)"/><circle cx="9.83" cy="-9.67" r="53.2" stroke="#7a5e00" stroke-width="6" fill="none"/><rect x="37.6" y="-40" width="30" height="80" fill="#6e6200" transform="rotate(135)"/><g transform="rotate(135)"><rect x="39.4" y="-40" width="30" height="80" fill="#640000"/><rect x="45.2" y="-40" width="30" height="80" fill="#140200"/></g></g><use href="#cs" fill="none" stroke="#1a0300" stroke-width="2.6"/></g>
<g transform="translate(205.55,55.85)"><g clip-path="url(#cc)"><use href="#cs" fill="#c26600"/><circle cx="5.5" cy="-8.65" r="41" fill="#ff5c00"/><circle cx="3.9" cy="-4.6" r="31.2" fill="#ffa600"/><circle cx="5.3" cy="-7.5" r="12.7" fill="#ffa454" opacity="0.55"/><circle cx="5.3" cy="-7.5" r="8.6" fill="url(#gH)"/><circle cx="6" cy="-9.15" r="53.2" stroke="#7a5e00" stroke-width="6" fill="none"/><rect x="37.6" y="-40" width="30" height="80" fill="#6e6200" transform="rotate(135)"/><g transform="rotate(135)"><rect x="39.4" y="-40" width="30" height="80" fill="#640000"/><rect x="45.2" y="-40" width="30" height="80" fill="#140200"/></g></g><use href="#cs" fill="none" stroke="#1a0300" stroke-width="2.6"/></g>
<g transform="translate(292.05,55.85)"><g clip-path="url(#cc)"><use href="#cs" fill="#c26600"/><circle cx="5.73" cy="-8.65" r="41" fill="#ff5c00"/><circle cx="4.13" cy="-4.6" r="31.2" fill="#ffa600"/><circle cx="5.53" cy="-7.5" r="12.7" fill="#ffa454" opacity="0.55"/><circle cx="5.53" cy="-7.5" r="8.6" fill="url(#gH)"/><circle cx="6.23" cy="-9.15" r="53.2" stroke="#7a5e00" stroke-width="6" fill="none"/><rect x="37.6" y="-40" width="30" height="80" fill="#6e6200" transform="rotate(135)"/><g transform="rotate(135)"><path d="M5.75,-10.91L34,-12.09L34,18.91L5.75,22.29Z" fill="#5f6200"/><path d="M34,-12.09L76,-20.59L76,27.41L34,18.91Z" fill="#640000"/></g><g transform="rotate(135)"><rect x="39.4" y="-40" width="30" height="80" fill="#640000"/><rect x="45.2" y="-40" width="30" height="80" fill="#140200"/></g></g><use href="#cs" fill="none" stroke="#1a0300" stroke-width="2.6"/></g>
<g transform="translate(378.55,55.85)"><g clip-path="url(#cc)"><use href="#cs" fill="#c26600"/><circle cx="5.95" cy="-8.65" r="41" fill="#ff5c00"/><circle cx="4.35" cy="-4.6" r="31.2" fill="#ffa600"/><circle cx="5.75" cy="-7.5" r="12.7" fill="#ffa454" opacity="0.55"/><circle cx="5.75" cy="-7.5" r="8.6" fill="url(#gH)"/><circle cx="6.45" cy="-9.15" r="53.2" stroke="#7a5e00" stroke-width="6" fill="none"/><rect x="37.6" y="-40" width="30" height="80" fill="#6e6200" transform="rotate(135)"/><g transform="rotate(135)"><rect x="39.4" y="-40" width="30" height="80" fill="#640000"/><rect x="45.2" y="-40" width="30" height="80" fill="#140200"/></g></g><use href="#cs" fill="none" stroke="#1a0300" stroke-width="2.6"/></g>
<g transform="translate(465.05,55.85)"><g clip-path="url(#cc)"><use href="#cs" fill="#c26600"/><circle cx="6.18" cy="-8.65" r="41" fill="#ff5c00"/><circle cx="4.58" cy="-4.6" r="31.2" fill="#ffa600"/><circle cx="5.98" cy="-7.5" r="12.7" fill="#ffa454" opacity="0.55"/><circle cx="5.98" cy="-7.5" r="8.6" fill="url(#gH)"/><circle cx="6.68" cy="-9.15" r="53.2" stroke="#7a5e00" stroke-width="6" fill="none"/><rect x="37.6" y="-40" width="30" height="80" fill="#6e6200" transform="rotate(135)"/><g transform="rotate(135)"><path d="M3.99,-12.67L32.49,-13.14L32.49,17.86L3.99,20.53Z" fill="#5f6200"/><path d="M32.49,-13.14L74.49,-21.64L74.49,26.36L32.49,17.86Z" fill="#640000"/></g><g transform="rotate(135)"><rect x="39.4" y="-40" width="30" height="80" fill="#640000"/><rect x="45.2" y="-40" width="30" height="80" fill="#140200"/></g></g><use href="#cs" fill="none" stroke="#1a0300" stroke-width="2.6"/></g>
<g transform="translate(551.55,55.85)"><g clip-path="url(#cc)"><use href="#cs" fill="#c26600"/><circle cx="6.4" cy="-8.65" r="41" fill="#ff5c00"/><circle cx="4.8" cy="-4.6" r="31.2" fill="#ffa600"/><circle cx="6.2" cy="-7.5" r="12.7" fill="#ffa454" opacity="0.55"/><circle cx="6.2" cy="-7.5" r="8.6" fill="url(#gH)"/><circle cx="6.9" cy="-9.15" r="53.2" stroke="#7a5e00" stroke-width="6" fill="none"/><rect x="37.6" y="-40" width="30" height="80" fill="#6e6200" transform="rotate(135)"/><g transform="rotate(135)"><rect x="39.4" y="-40" width="30" height="80" fill="#640000"/><rect x="45.2" y="-40" width="30" height="80" fill="#140200"/></g></g><use href="#cs" fill="none" stroke="#1a0300" stroke-width="2.6"/></g>
<g transform="translate(638.05,55.85)"><g clip-path="url(#cc)"><use href="#cs" fill="#c26600"/><circle cx="6.63" cy="-8.65" r="41" fill="#ff5c00"/><circle cx="5.03" cy="-4.6" r="31.2" fill="#ffa600"/><circle cx="6.43" cy="-7.5" r="12.7" fill="#ffa454" opacity="0.55"/><circle cx="6.43" cy="-7.5" r="8.6" fill="url(#gH)"/><circle cx="7.13" cy="-9.15" r="53.2" stroke="#7a5e00" stroke-width="6" fill="none"/><rect x="37.6" y="-40" width="30" height="80" fill="#6e6200" transform="rotate(135)"/><g transform="rotate(135)"><path d="M2.52,-14.14L30.58,-14.02L30.58,16.98L2.52,19.06Z" fill="#5f6200"/><path d="M30.58,-14.02L72.58,-22.52L72.58,25.48L30.58,16.98Z" fill="#640000"/></g><g transform="rotate(135)"><rect x="39.4" y="-40" width="30" height="80" fill="#640000"/><rect x="45.2" y="-40" width="30" height="80" fill="#140200"/></g></g><use href="#cs" fill="none" stroke="#1a0300" stroke-width="2.6"/></g>
<g transform="translate(724.55,55.85)"><g clip-path="url(#cc)"><use href="#cs" fill="#c26600"/><circle cx="6.85" cy="-8.65" r="41" fill="#ff5c00"/><circle cx="5.25" cy="-4.6" r="31.2" fill="#ffa600"/><circle cx="6.65" cy="-7.5" r="12.7" fill="#ffa454" opacity="0.55"/><circle cx="6.65" cy="-7.5" r="8.6" fill="url(#gH)"/><circle cx="7.35" cy="-9.15" r="53.2" stroke="#7a5e00" stroke-width="6" fill="none"/><rect x="37.6" y="-40" width="30" height="80" fill="#6e6200" transform="rotate(135)"/><g transform="rotate(135)"><rect x="39.4" y="-40" width="30" height="80" fill="#640000"/><rect x="45.2" y="-40" width="30" height="80" fill="#140200"/></g></g><use href="#cs" fill="none" stroke="#1a0300" stroke-width="2.6"/></g>
<g transform="translate(811.05,55.85)"><g clip-path="url(#cc)"><use href="#cs" fill="#c26600"/><circle cx="7.08" cy="-8.65" r="41" fill="#ff5c00"/><circle cx="5.48" cy="-4.6" r="31.2" fill="#ffa600"/><circle cx="6.88" cy="-7.5" r="12.7" fill="#ffa454" opacity="0.55"/><circle cx="6.88" cy="-7.5" r="8.6" fill="url(#gH)"/><circle cx="7.58" cy="-9.15" r="53.2" stroke="#7a5e00" stroke-width="6" fill="none"/><rect x="37.6" y="-40" width="30" height="80" fill="#6e6200" transform="rotate(135)"/><g transform="rotate(135)"><path d="M1.25,-15.41L28.93,-14.79L28.93,16.21L1.25,17.79Z" fill="#5f6200"/><path d="M28.93,-14.79L70.93,-23.29L70.93,24.71L28.93,16.21Z" fill="#640000"/></g><g transform="rotate(135)"><rect x="39.4" y="-40" width="30" height="80" fill="#640000"/><rect x="45.2" y="-40" width="30" height="80" fill="#140200"/></g></g><use href="#cs" fill="none" stroke="#1a0300" stroke-width="2.6"/></g>
<g transform="translate(897.55,55.85)"><g clip-path="url(#cc)"><use href="#cs" fill="#c26600"/><circle cx="7.3" cy="-8.65" r="41" fill="#ff5c00"/><circle cx="5.7" cy="-4.6" r="31.2" fill="#ffa600"/><circle cx="7.1" cy="-7.5" r="12.7" fill="#ffa454" opacity="0.55"/><circle cx="7.1" cy="-7.5" r="8.6" fill="url(#gH)"/><circle cx="7.8" cy="-9.15" r="53.2" stroke="#7a5e00" stroke-width="6" fill="none"/><rect x="37.6" y="-40" width="30" height="80" fill="#6e6200" transform="rotate(135)"/><g transform="rotate(135)"><rect x="39.4" y="-40" width="30" height="80" fill="#640000"/><rect x="45.2" y="-40" width="30" height="80" fill="#140200"/></g></g><use href="#cs" fill="none" stroke="#1a0300" stroke-width="2.6"/></g>
<g transform="translate(984.05,55.85)"><g clip-path="url(#cc)"><use href="#cs" fill="#c26600"/><circle cx="7.53" cy="-8.65" r="41" fill="#ff5c00"/><circle cx="5.93" cy="-4.6" r="31.2" fill="#ffa600"/><circle cx="7.33" cy="-7.5" r="12.7" fill="#ffa454" opacity="0.55"/><circle cx="7.33" cy="-7.5" r="8.6" fill="url(#gH)"/><circle cx="8.03" cy="-9.15" r="53.2" stroke="#7a5e00" stroke-width="6" fill="none"/><rect x="37.6" y="-40" width="30" height="80" fill="#6e6200" transform="rotate(135)"/><g transform="rotate(135)"><path d="M0.1,-16.57L27.43,-15.48L27.43,15.52L0.1,16.63Z" fill="#5f6200"/><path d="M27.43,-15.48L69.43,-23.98L69.43,24.02L27.43,15.52Z" fill="#640000"/></g><g transform="rotate(135)"><rect x="39.4" y="-40" width="30" height="80" fill="#640000"/><rect x="45.2" y="-40" width="30" height="80" fill="#140200"/></g></g><use href="#cs" fill="none" stroke="#1a0300" stroke-width="2.6"/></g>
<g transform="translate(1070.55,55.85)"><g clip-path="url(#cc)"><use href="#cs" fill="#c26600"/><circle cx="7.75" cy="-8.65" r="41" fill="#ff5c00"/><circle cx="6.15" cy="-4.6" r="31.2" fill="#ffa600"/><circle cx="7.55" cy="-7.5" r="12.7" fill="#ffa454" opacity="0.55"/><circle cx="7.55" cy="-7.5" r="8.6" fill="url(#gH)"/><circle cx="8.25" cy="-9.15" r="53.2" stroke="#7a5e00" stroke-width="6" fill="none"/><rect x="37.6" y="-40" width="30" height="80" fill="#6e6200" transform="rotate(135)"/><g transform="rotate(135)"><rect x="39.4" y="-40" width="30" height="80" fill="#640000"/><rect x="45.2" y="-40" width="30" height="80" fill="#140200"/></g></g><use href="#cs" fill="none" stroke="#1a0300" stroke-width="2.6"/></g>
<g transform="translate(1157.05,55.85)"><g clip-path="url(#cc)"><use href="#cs" fill="#c26600"/><circle cx="7.98" cy="-8.65" r="41" fill="#ff5c00"/><circle cx="6.38" cy="-4.6" r="31.2" fill="#ffa600"/><circle cx="7.78" cy="-7.5" r="12.7" fill="#ffa454" opacity="0.55"/><circle cx="7.78" cy="-7.5" r="8.6" fill="url(#gH)"/><circle cx="8.48" cy="-9.15" r="53.2" stroke="#7a5e00" stroke-width="6" fill="none"/><rect x="37.6" y="-40" width="30" height="80" fill="#6e6200" transform="rotate(135)"/><g transform="rotate(135)"><path d="M-1.03,-17.69L25.97,-16.15L25.97,14.85L-1.03,15.51Z" fill="#5f6200"/><path d="M25.97,-16.15L67.97,-24.65L67.97,23.35L25.97,14.85Z" fill="#640000"/></g><g transform="rotate(135)"><rect x="39.4" y="-40" width="30" height="80" fill="#640000"/><rect x="45.2" y="-40" width="30" height="80" fill="#140200"/></g></g><use href="#cs" fill="none" stroke="#1a0300" stroke-width="2.6"/></g>
<g transform="translate(1243.55,55.85)"><g clip-path="url(#cc)"><use href="#cs" fill="#c26600"/><circle cx="8.2" cy="-8.65" r="41" fill="#ff5c00"/><circle cx="6.6" cy="-4.6" r="31.2" fill="#ffa600"/><circle cx="8" cy="-7.5" r="12.7" fill="#ffa454" opacity="0.55"/><circle cx="8" cy="-7.5" r="8.6" fill="url(#gH)"/><circle cx="8.7" cy="-9.15" r="53.2" stroke="#7a5e00" stroke-width="6" fill="none"/><rect x="37.6" y="-40" width="30" height="80" fill="#6e6200" transform="rotate(135)"/><g transform="rotate(135)"><rect x="39.4" y="-40" width="30" height="80" fill="#640000"/><rect x="45.2" y="-40" width="30" height="80" fill="#140200"/></g></g><use href="#cs" fill="none" stroke="#1a0300" stroke-width="2.6"/></g>
<g transform="translate(1330.05,55.85)"><g clip-path="url(#cc)"><use href="#cs" fill="#c26600"/><circle cx="8.43" cy="-8.65" r="41" fill="#ff5c00"/><circle cx="6.83" cy="-4.6" r="31.2" fill="#ffa600"/><circle cx="8.23" cy="-7.5" r="12.7" fill="#ffa454" opacity="0.55"/><circle cx="8.23" cy="-7.5" r="8.6" fill="url(#gH)"/><circle cx="8.93" cy="-9.15" r="53.2" stroke="#7a5e00" stroke-width="6" fill="none"/><rect x="37.6" y="-40" width="30" height="80" fill="#6e6200" transform="rotate(135)"/><g transform="rotate(135)"><path d="M-2.21,-18.87L24.43,-16.86L24.43,14.14L-2.21,14.33Z" fill="#5f6200"/><path d="M24.43,-16.86L66.43,-25.36L66.43,22.64L24.43,14.14Z" fill="#640000"/></g><g transform="rotate(135)"><rect x="39.4" y="-40" width="30" height="80" fill="#640000"/><rect x="45.2" y="-40" width="30" height="80" fill="#140200"/></g></g><use href="#cs" fill="none" stroke="#1a0300" stroke-width="2.6"/></g>
<g transform="translate(1416.55,55.85)"><g clip-path="url(#cc)"><use href="#cs" fill="#c26600"/><circle cx="8.65" cy="-8.65" r="41" fill="#ff5c00"/><circle cx="7.05" cy="-4.6" r="31.2" fill="#ffa600"/><circle cx="8.45" cy="-7.5" r="12.7" fill="#ffa454" opacity="0.55"/><circle cx="8.45" cy="-7.5" r="8.6" fill="url(#gH)"/><circle cx="9.15" cy="-9.15" r="53.2" stroke="#7a5e00" stroke-width="6" fill="none"/><rect x="37.6" y="-40" width="30" height="80" fill="#6e6200" transform="rotate(135)"/><g transform="rotate(135)"><rect x="39.4" y="-40" width="30" height="80" fill="#640000"/><rect x="45.2" y="-40" width="30" height="80" fill="#140200"/></g></g><use href="#cs" fill="none" stroke="#1a0300" stroke-width="2.6"/></g>
<g transform="translate(1503.05,55.85)"><g clip-path="url(#cc)"><use href="#cs" fill="#c26600"/><circle cx="8.88" cy="-8.65" r="41" fill="#ff5c00"/><circle cx="7.28" cy="-4.6" r="31.2" fill="#ffa600"/><circle cx="8.68" cy="-7.5" r="12.7" fill="#ffa454" opacity="0.55"/><circle cx="8.68" cy="-7.5" r="8.6" fill="url(#gH)"/><circle cx="9.38" cy="-9.15" r="53.2" stroke="#7a5e00" stroke-width="6" fill="none"/><rect x="37.6" y="-40" width="30" height="80" fill="#6e6200" transform="rotate(135)"/><g transform="rotate(135)"><path d="M-3.53,-20.19L22.71,-17.66L22.71,13.34L-3.53,13.01Z" fill="#5f6200"/><path d="M22.71,-17.66L64.71,-26.16L64.71,21.84L22.71,13.34Z" fill="#640000"/></g><g transform="rotate(135)"><rect x="39.4" y="-40" width="30" height="80" fill="#640000"/><rect x="45.2" y="-40" width="30" height="80" fill="#140200"/></g></g><use href="#cs" fill="none" stroke="#1a0300" stroke-width="2.6"/></g>
<g transform="translate(1589.55,55.85)"><g clip-path="url(#cc)"><use href="#cs" fill="#c26600"/><circle cx="9.1" cy="-8.65" r="41" fill="#ff5c00"/><circle cx="7.5" cy="-4.6" r="31.2" fill="#ffa600"/><circle cx="8.9" cy="-7.5" r="12.7" fill="#ffa454" opacity="0.55"/><circle cx="8.9" cy="-7.5" r="8.6" fill="url(#gH)"/><circle cx="9.6" cy="-9.15" r="53.2" stroke="#7a5e00" stroke-width="6" fill="none"/><rect x="37.6" y="-40" width="30" height="80" fill="#6e6200" transform="rotate(135)"/><g transform="rotate(135)"><rect x="39.4" y="-40" width="30" height="80" fill="#640000"/><rect x="45.2" y="-40" width="30" height="80" fill="#140200"/></g></g><use href="#cs" fill="none" stroke="#1a0300" stroke-width="2.6"/></g>
<g transform="translate(1676.05,55.85)"><g clip-path="url(#cc)"><use href="#cs" fill="#c26600"/><circle cx="9.33" cy="-8.65" r="41" fill="#ff5c00"/><circle cx="7.73" cy="-4.6" r="31.2" fill="#ffa600"/><circle cx="9.13" cy="-7.5" r="12.7" fill="#ffa454" opacity="0.55"/><circle cx="9.13" cy="-7.5" r="8.6" fill="url(#gH)"/><circle cx="9.83" cy="-9.15" r="53.2" stroke="#7a5e00" stroke-width="6" fill="none"/><rect x="37.6" y="-40" width="30" height="80" fill="#6e6200" transform="rotate(135)"/><g transform="rotate(135)"><path d="M-5.08,-21.74L20.7,-18.58L20.7,12.42L-5.08,11.46Z" fill="#5f6200"/><path d="M20.7,-18.58L62.7,-27.08L62.7,20.92L20.7,12.42Z" fill="#640000"/></g><g transform="rotate(135)"><rect x="39.4" y="-40" width="30" height="80" fill="#640000"/><rect x="45.2" y="-40" width="30" height="80" fill="#140200"/></g></g><use href="#cs" fill="none" stroke="#1a0300" stroke-width="2.6"/></g>
<g transform="translate(205.55,142.55)"><g clip-path="url(#cc)"><use href="#cs" fill="#c26600"/><circle cx="5.5" cy="-8.13" r="41" fill="#ff5c00"/><circle cx="3.9" cy="-4.08" r="31.2" fill="#ffa600"/><circle cx="5.3" cy="-6.98" r="12.7" fill="#ffa454" opacity="0.55"/><circle cx="5.3" cy="-6.98" r="8.6" fill="url(#gH)"/><circle cx="6" cy="-8.63" r="53.2" stroke="#7a5e00" stroke-width="6" fill="none"/><rect x="37.6" y="-40" width="30" height="80" fill="#6e6200" transform="rotate(135)"/><g transform="rotate(135)"><path d="M7.48,-10.62L34,-11.91L34,19.09L7.48,22.58Z" fill="#5f6200"/><path d="M34,-11.91L76,-20.41L76,27.59L34,19.09Z" fill="#640000"/></g><g transform="rotate(135)"><rect x="39.4" y="-40" width="30" height="80" fill="#640000"/><rect x="45.2" y="-40" width="30" height="80" fill="#140200"/></g></g><use href="#cs" fill="none" stroke="#1a0300" stroke-width="2.6"/></g>
<g transform="translate(292.05,142.55)"><g clip-path="url(#cc)"><use href="#cs" fill="#c26600"/><circle cx="5.73" cy="-8.13" r="41" fill="#ff5c00"/><circle cx="4.13" cy="-4.08" r="31.2" fill="#ffa600"/><circle cx="5.53" cy="-6.98" r="12.7" fill="#ffa454" opacity="0.55"/><circle cx="5.53" cy="-6.98" r="8.6" fill="url(#gH)"/><circle cx="6.23" cy="-8.63" r="53.2" stroke="#7a5e00" stroke-width="6" fill="none"/><rect x="37.6" y="-40" width="30" height="80" fill="#6e6200" transform="rotate(135)"/><g transform="rotate(135)"><rect x="39.4" y="-40" width="30" height="80" fill="#640000"/><rect x="45.2" y="-40" width="30" height="80" fill="#140200"/></g></g><use href="#cs" fill="none" stroke="#1a0300" stroke-width="2.6"/></g>
<g transform="translate(378.55,142.55)"><g clip-path="url(#cc)"><use href="#cs" fill="#c26600"/><circle cx="5.95" cy="-8.13" r="41" fill="#ff5c00"/><circle cx="4.35" cy="-4.08" r="31.2" fill="#ffa600"/><circle cx="5.75" cy="-6.98" r="12.7" fill="#ffa454" opacity="0.55"/><circle cx="5.75" cy="-6.98" r="8.6" fill="url(#gH)"/><circle cx="6.45" cy="-8.63" r="53.2" stroke="#7a5e00" stroke-width="6" fill="none"/><rect x="37.6" y="-40" width="30" height="80" fill="#6e6200" transform="rotate(135)"/><g transform="rotate(135)"><path d="M5.55,-12.55L34,-13.07L34,17.93L5.55,20.65Z" fill="#5f6200"/><path d="M34,-13.07L76,-21.57L76,26.43L34,17.93Z" fill="#640000"/></g><g transform="rotate(135)"><rect x="39.4" y="-40" width="30" height="80" fill="#640000"/><rect x="45.2" y="-40" width="30" height="80" fill="#140200"/></g></g><use href="#cs" fill="none" stroke="#1a0300" stroke-width="2.6"/></g>
<g transform="translate(465.05,142.55)"><g clip-path="url(#cc)"><use href="#cs" fill="#c26600"/><circle cx="6.18" cy="-8.13" r="41" fill="#ff5c00"/><circle cx="4.58" cy="-4.08" r="31.2" fill="#ffa600"/><circle cx="5.98" cy="-6.98" r="12.7" fill="#ffa454" opacity="0.55"/><circle cx="5.98" cy="-6.98" r="8.6" fill="url(#gH)"/><circle cx="6.68" cy="-8.63" r="53.2" stroke="#7a5e00" stroke-width="6" fill="none"/><rect x="37.6" y="-40" width="30" height="80" fill="#6e6200" transform="rotate(135)"/><g transform="rotate(135)"><rect x="39.4" y="-40" width="30" height="80" fill="#640000"/><rect x="45.2" y="-40" width="30" height="80" fill="#140200"/></g></g><use href="#cs" fill="none" stroke="#1a0300" stroke-width="2.6"/></g>
<g transform="translate(551.55,142.55)"><g clip-path="url(#cc)"><use href="#cs" fill="#c26600"/><circle cx="6.4" cy="-8.13" r="41" fill="#ff5c00"/><circle cx="4.8" cy="-4.08" r="31.2" fill="#ffa600"/><circle cx="6.2" cy="-6.98" r="12.7" fill="#ffa454" opacity="0.55"/><circle cx="6.2" cy="-6.98" r="8.6" fill="url(#gH)"/><circle cx="6.9" cy="-8.63" r="53.2" stroke="#7a5e00" stroke-width="6" fill="none"/><rect x="37.6" y="-40" width="30" height="80" fill="#6e6200" transform="rotate(135)"/><g transform="rotate(135)"><path d="M3.94,-14.15L32.43,-14.03L32.43,16.97L3.94,19.05Z" fill="#5f6200"/><path d="M32.43,-14.03L74.43,-22.53L74.43,25.47L32.43,16.97Z" fill="#640000"/></g><g transform="rotate(135)"><rect x="39.4" y="-40" width="30" height="80" fill="#640000"/><rect x="45.2" y="-40" width="30" height="80" fill="#140200"/></g></g><use href="#cs" fill="none" stroke="#1a0300" stroke-width="2.6"/></g>
<g transform="translate(638.05,142.55)"><g clip-path="url(#cc)"><use href="#cs" fill="#c26600"/><circle cx="6.63" cy="-8.13" r="41" fill="#ff5c00"/><circle cx="5.03" cy="-4.08" r="31.2" fill="#ffa600"/><circle cx="6.43" cy="-6.98" r="12.7" fill="#ffa454" opacity="0.55"/><circle cx="6.43" cy="-6.98" r="8.6" fill="url(#gH)"/><circle cx="7.13" cy="-8.63" r="53.2" stroke="#7a5e00" stroke-width="6" fill="none"/><rect x="37.6" y="-40" width="30" height="80" fill="#6e6200" transform="rotate(135)"/><g transform="rotate(135)"><rect x="39.4" y="-40" width="30" height="80" fill="#640000"/><rect x="45.2" y="-40" width="30" height="80" fill="#140200"/></g></g><use href="#cs" fill="none" stroke="#1a0300" stroke-width="2.6"/></g>
<g transform="translate(724.55,142.55)"><g clip-path="url(#cc)"><use href="#cs" fill="#c26600"/><circle cx="6.85" cy="-8.13" r="41" fill="#ff5c00"/><circle cx="5.25" cy="-4.08" r="31.2" fill="#ffa600"/><circle cx="6.65" cy="-6.98" r="12.7" fill="#ffa454" opacity="0.55"/><circle cx="6.65" cy="-6.98" r="8.6" fill="url(#gH)"/><circle cx="7.35" cy="-8.63" r="53.2" stroke="#7a5e00" stroke-width="6" fill="none"/><rect x="37.6" y="-40" width="30" height="80" fill="#6e6200" transform="rotate(135)"/><g transform="rotate(135)"><path d="M2.59,-15.51L30.66,-14.85L30.66,16.15L2.59,17.69Z" fill="#5f6200"/><path d="M30.66,-14.85L72.66,-23.35L72.66,24.65L30.66,16.15Z" fill="#640000"/></g><g transform="rotate(135)"><rect x="39.4" y="-40" width="30" height="80" fill="#640000"/><rect x="45.2" y="-40" width="30" height="80" fill="#140200"/></g></g><use href="#cs" fill="none" stroke="#1a0300" stroke-width="2.6"/></g>
<g transform="translate(811.05,142.55)"><g clip-path="url(#cc)"><use href="#cs" fill="#c26600"/><circle cx="7.08" cy="-8.13" r="41" fill="#ff5c00"/><circle cx="5.48" cy="-4.08" r="31.2" fill="#ffa600"/><circle cx="6.88" cy="-6.98" r="12.7" fill="#ffa454" opacity="0.55"/><circle cx="6.88" cy="-6.98" r="8.6" fill="url(#gH)"/><circle cx="7.58" cy="-8.63" r="53.2" stroke="#7a5e00" stroke-width="6" fill="none"/><rect x="37.6" y="-40" width="30" height="80" fill="#6e6200" transform="rotate(135)"/><g transform="rotate(135)"><rect x="39.4" y="-40" width="30" height="80" fill="#640000"/><rect x="45.2" y="-40" width="30" height="80" fill="#140200"/></g></g><use href="#cs" fill="none" stroke="#1a0300" stroke-width="2.6"/></g>
<g transform="translate(897.55,142.55)"><g clip-path="url(#cc)"><use href="#cs" fill="#c26600"/><circle cx="7.3" cy="-8.13" r="41" fill="#ff5c00"/><circle cx="5.7" cy="-4.08" r="31.2" fill="#ffa600"/><circle cx="7.1" cy="-6.98" r="12.7" fill="#ffa454" opacity="0.55"/><circle cx="7.1" cy="-6.98" r="8.6" fill="url(#gH)"/><circle cx="7.8" cy="-8.63" r="53.2" stroke="#7a5e00" stroke-width="6" fill="none"/><rect x="37.6" y="-40" width="30" height="80" fill="#6e6200" transform="rotate(135)"/><g transform="rotate(135)"><path d="M1.38,-16.71L29.1,-15.57L29.1,15.43L1.38,16.49Z" fill="#5f6200"/><path d="M29.1,-15.57L71.1,-24.07L71.1,23.93L29.1,15.43Z" fill="#640000"/></g><g transform="rotate(135)"><rect x="39.4" y="-40" width="30" height="80" fill="#640000"/><rect x="45.2" y="-40" width="30" height="80" fill="#140200"/></g></g><use href="#cs" fill="none" stroke="#1a0300" stroke-width="2.6"/></g>
<g transform="translate(984.05,142.55)"><g clip-path="url(#cc)"><use href="#cs" fill="#c26600"/><circle cx="7.53" cy="-8.13" r="41" fill="#ff5c00"/><circle cx="5.93" cy="-4.08" r="31.2" fill="#ffa600"/><circle cx="7.33" cy="-6.98" r="12.7" fill="#ffa454" opacity="0.55"/><circle cx="7.33" cy="-6.98" r="8.6" fill="url(#gH)"/><circle cx="8.03" cy="-8.63" r="53.2" stroke="#7a5e00" stroke-width="6" fill="none"/><rect x="37.6" y="-40" width="30" height="80" fill="#6e6200" transform="rotate(135)"/><g transform="rotate(135)"><rect x="39.4" y="-40" width="30" height="80" fill="#640000"/><rect x="45.2" y="-40" width="30" height="80" fill="#140200"/></g></g><use href="#cs" fill="none" stroke="#1a0300" stroke-width="2.6"/></g>
<g transform="translate(1070.55,142.55)"><g clip-path="url(#cc)"><use href="#cs" fill="#c26600"/><circle cx="7.75" cy="-8.13" r="41" fill="#ff5c00"/><circle cx="6.15" cy="-4.08" r="31.2" fill="#ffa600"/><circle cx="7.55" cy="-6.98" r="12.7" fill="#ffa454" opacity="0.55"/><circle cx="7.55" cy="-6.98" r="8.6" fill="url(#gH)"/><circle cx="8.25" cy="-8.63" r="53.2" stroke="#7a5e00" stroke-width="6" fill="none"/><rect x="37.6" y="-40" width="30" height="80" fill="#6e6200" transform="rotate(135)"/><g transform="rotate(135)"><path d="M0.26,-17.84L27.63,-16.25L27.63,14.75L0.26,15.36Z" fill="#5f6200"/><path d="M27.63,-16.25L69.63,-24.75L69.63,23.25L27.63,14.75Z" fill="#640000"/></g><g transform="rotate(135)"><rect x="39.4" y="-40" width="30" height="80" fill="#640000"/><rect x="45.2" y="-40" width="30" height="80" fill="#140200"/></g></g><use href="#cs" fill="none" stroke="#1a0300" stroke-width="2.6"/></g>
<g transform="translate(1157.05,142.55)"><g clip-path="url(#cc)"><use href="#cs" fill="#c26600"/><circle cx="7.98" cy="-8.13" r="41" fill="#ff5c00"/><circle cx="6.38" cy="-4.08" r="31.2" fill="#ffa600"/><circle cx="7.78" cy="-6.98" r="12.7" fill="#ffa454" opacity="0.55"/><circle cx="7.78" cy="-6.98" r="8.6" fill="url(#gH)"/><circle cx="8.48" cy="-8.63" r="53.2" stroke="#7a5e00" stroke-width="6" fill="none"/><rect x="37.6" y="-40" width="30" height="80" fill="#6e6200" transform="rotate(135)"/><g transform="rotate(135)"><rect x="39.4" y="-40" width="30" height="80" fill="#640000"/><rect x="45.2" y="-40" width="30" height="80" fill="#140200"/></g></g><use href="#cs" fill="none" stroke="#1a0300" stroke-width="2.6"/></g>
<g transform="translate(1243.55,142.55)"><g clip-path="url(#cc)"><use href="#cs" fill="#c26600"/><circle cx="8.2" cy="-8.13" r="41" fill="#ff5c00"/><circle cx="6.6" cy="-4.08" r="31.2" fill="#ffa600"/><circle cx="8" cy="-6.98" r="12.7" fill="#ffa454" opacity="0.55"/><circle cx="8" cy="-6.98" r="8.6" fill="url(#gH)"/><circle cx="8.7" cy="-8.63" r="53.2" stroke="#7a5e00" stroke-width="6" fill="none"/><rect x="37.6" y="-40" width="30" height="80" fill="#6e6200" transform="rotate(135)"/><g transform="rotate(135)"><path d="M-0.89,-18.98L26.15,-16.93L26.15,14.07L-0.89,14.22Z" fill="#5f6200"/><path d="M26.15,-16.93L68.15,-25.43L68.15,22.57L26.15,14.07Z" fill="#640000"/></g><g transform="rotate(135)"><rect x="39.4" y="-40" width="30" height="80" fill="#640000"/><rect x="45.2" y="-40" width="30" height="80" fill="#140200"/></g></g><use href="#cs" fill="none" stroke="#1a0300" stroke-width="2.6"/></g>
<g transform="translate(1330.05,142.55)"><g clip-path="url(#cc)"><use href="#cs" fill="#c26600"/><circle cx="8.43" cy="-8.13" r="41" fill="#ff5c00"/><circle cx="6.83" cy="-4.08" r="31.2" fill="#ffa600"/><circle cx="8.23" cy="-6.98" r="12.7" fill="#ffa454" opacity="0.55"/><circle cx="8.23" cy="-6.98" r="8.6" fill="url(#gH)"/><circle cx="8.93" cy="-8.63" r="53.2" stroke="#7a5e00" stroke-width="6" fill="none"/><rect x="37.6" y="-40" width="30" height="80" fill="#6e6200" transform="rotate(135)"/><g transform="rotate(135)"><rect x="39.4" y="-40" width="30" height="80" fill="#640000"/><rect x="45.2" y="-40" width="30" height="80" fill="#140200"/></g></g><use href="#cs" fill="none" stroke="#1a0300" stroke-width="2.6"/></g>
<g transform="translate(1416.55,142.55)"><g clip-path="url(#cc)"><use href="#cs" fill="#c26600"/><circle cx="8.65" cy="-8.13" r="41" fill="#ff5c00"/><circle cx="7.05" cy="-4.08" r="31.2" fill="#ffa600"/><circle cx="8.45" cy="-6.98" r="12.7" fill="#ffa454" opacity="0.55"/><circle cx="8.45" cy="-6.98" r="8.6" fill="url(#gH)"/><circle cx="9.15" cy="-8.63" r="53.2" stroke="#7a5e00" stroke-width="6" fill="none"/><rect x="37.6" y="-40" width="30" height="80" fill="#6e6200" transform="rotate(135)"/><g transform="rotate(135)"><path d="M-2.13,-20.23L24.53,-17.68L24.53,13.32L-2.13,12.97Z" fill="#5f6200"/><path d="M24.53,-17.68L66.53,-26.18L66.53,21.82L24.53,13.32Z" fill="#640000"/></g><g transform="rotate(135)"><rect x="39.4" y="-40" width="30" height="80" fill="#640000"/><rect x="45.2" y="-40" width="30" height="80" fill="#140200"/></g></g><use href="#cs" fill="none" stroke="#1a0300" stroke-width="2.6"/></g>
<g transform="translate(1503.05,142.55)"><g clip-path="url(#cc)"><use href="#cs" fill="#c26600"/><circle cx="8.88" cy="-8.13" r="41" fill="#ff5c00"/><circle cx="7.28" cy="-4.08" r="31.2" fill="#ffa600"/><circle cx="8.68" cy="-6.98" r="12.7" fill="#ffa454" opacity="0.55"/><circle cx="8.68" cy="-6.98" r="8.6" fill="url(#gH)"/><circle cx="9.38" cy="-8.63" r="53.2" stroke="#7a5e00" stroke-width="6" fill="none"/><rect x="37.6" y="-40" width="30" height="80" fill="#6e6200" transform="rotate(135)"/><g transform="rotate(135)"><rect x="39.4" y="-40" width="30" height="80" fill="#640000"/><rect x="45.2" y="-40" width="30" height="80" fill="#140200"/></g></g><use href="#cs" fill="none" stroke="#1a0300" stroke-width="2.6"/></g>
<g transform="translate(1589.55,142.55)"><g clip-path="url(#cc)"><use href="#cs" fill="#c26600"/><circle cx="9.1" cy="-8.13" r="41" fill="#ff5c00"/><circle cx="7.5" cy="-4.08" r="31.2" fill="#ffa600"/><circle cx="8.9" cy="-6.98" r="12.7" fill="#ffa454" opacity="0.55"/><circle cx="8.9" cy="-6.98" r="8.6" fill="url(#gH)"/><circle cx="9.6" cy="-8.63" r="53.2" stroke="#7a5e00" stroke-width="6" fill="none"/><rect x="37.6" y="-40" width="30" height="80" fill="#6e6200" transform="rotate(135)"/><g transform="rotate(135)"><path d="M-3.55,-21.65L22.68,-18.53L22.68,12.47L-3.55,11.55Z" fill="#5f6200"/><path d="M22.68,-18.53L64.68,-27.03L64.68,20.97L22.68,12.47Z" fill="#640000"/></g><g transform="rotate(135)"><rect x="39.4" y="-40" width="30" height="80" fill="#640000"/><rect x="45.2" y="-40" width="30" height="80" fill="#140200"/></g></g><use href="#cs" fill="none" stroke="#1a0300" stroke-width="2.6"/></g>
<g transform="translate(1676.05,142.55)"><g clip-path="url(#cc)"><use href="#cs" fill="#c26600"/><circle cx="9.33" cy="-8.13" r="41" fill="#ff5c00"/><circle cx="7.73" cy="-4.08" r="31.2" fill="#ffa600"/><circle cx="9.13" cy="-6.98" r="12.7" fill="#ffa454" opacity="0.55"/><circle cx="9.13" cy="-6.98" r="8.6" fill="url(#gH)"/><circle cx="9.83" cy="-8.63" r="53.2" stroke="#7a5e00" stroke-width="6" fill="none"/><rect x="37.6" y="-40" width="30" height="80" fill="#6e6200" transform="rotate(135)"/><g transform="rotate(135)"><rect x="39.4" y="-40" width="30" height="80" fill="#640000"/><rect x="45.2" y="-40" width="30" height="80" fill="#140200"/></g></g><use href="#cs" fill="none" stroke="#1a0300" stroke-width="2.6"/></g>
<g transform="translate(205.55,229.25)"><g clip-path="url(#cc)"><use href="#cs" fill="#c26600"/><circle cx="5.5" cy="-7.61" r="41" fill="#ff5c00"/><circle cx="3.9" cy="-3.56" r="31.2" fill="#ffa600"/><circle cx="5.3" cy="-6.46" r="12.7" fill="#ffa454" opacity="0.55"/><circle cx="5.3" cy="-6.46" r="8.6" fill="url(#gH)"/><circle cx="6" cy="-8.11" r="53.2" stroke="#7a5e00" stroke-width="6" fill="none"/><rect x="37.6" y="-40" width="30" height="80" fill="#6e6200" transform="rotate(135)"/><g transform="rotate(135)"><rect x="39.4" y="-40" width="30" height="80" fill="#640000"/><rect x="45.2" y="-40" width="30" height="80" fill="#140200"/></g></g><use href="#cs" fill="none" stroke="#1a0300" stroke-width="2.6"/></g>
<g transform="translate(292.05,229.25)"><g clip-path="url(#cc)"><use href="#cs" fill="#c26600"/><circle cx="5.73" cy="-7.61" r="41" fill="#ff5c00"/><circle cx="4.13" cy="-3.56" r="31.2" fill="#ffa600"/><circle cx="5.53" cy="-6.46" r="12.7" fill="#ffa454" opacity="0.55"/><circle cx="5.53" cy="-6.46" r="8.6" fill="url(#gH)"/><circle cx="6.23" cy="-8.11" r="53.2" stroke="#7a5e00" stroke-width="6" fill="none"/><rect x="37.6" y="-40" width="30" height="80" fill="#6e6200" transform="rotate(135)"/><g transform="rotate(135)"><path d="M7.18,-12.35L34,-12.95L34,18.05L7.18,20.85Z" fill="#5f6200"/><path d="M34,-12.95L76,-21.45L76,26.55L34,18.05Z" fill="#640000"/></g><g transform="rotate(135)"><rect x="39.4" y="-40" width="30" height="80" fill="#640000"/><rect x="45.2" y="-40" width="30" height="80" fill="#140200"/></g></g><use href="#cs" fill="none" stroke="#1a0300" stroke-width="2.6"/></g>
<g transform="translate(378.55,229.25)"><g clip-path="url(#cc)"><use href="#cs" fill="#c26600"/><circle cx="5.95" cy="-7.61" r="41" fill="#ff5c00"/><circle cx="4.35" cy="-3.56" r="31.2" fill="#ffa600"/><circle cx="5.75" cy="-6.46" r="12.7" fill="#ffa454" opacity="0.55"/><circle cx="5.75" cy="-6.46" r="8.6" fill="url(#gH)"/><circle cx="6.45" cy="-8.11" r="53.2" stroke="#7a5e00" stroke-width="6" fill="none"/><rect x="37.6" y="-40" width="30" height="80" fill="#6e6200" transform="rotate(135)"/><g transform="rotate(135)"><rect x="39.4" y="-40" width="30" height="80" fill="#640000"/><rect x="45.2" y="-40" width="30" height="80" fill="#140200"/></g></g><use href="#cs" fill="none" stroke="#1a0300" stroke-width="2.6"/></g>
<g transform="translate(465.05,229.25)"><g clip-path="url(#cc)"><use href="#cs" fill="#c26600"/><circle cx="6.18" cy="-7.61" r="41" fill="#ff5c00"/><circle cx="4.58" cy="-3.56" r="31.2" fill="#ffa600"/><circle cx="5.98" cy="-6.46" r="12.7" fill="#ffa454" opacity="0.55"/><circle cx="5.98" cy="-6.46" r="8.6" fill="url(#gH)"/><circle cx="6.68" cy="-8.11" r="53.2" stroke="#7a5e00" stroke-width="6" fill="none"/><rect x="37.6" y="-40" width="30" height="80" fill="#6e6200" transform="rotate(135)"/><g transform="rotate(135)"><path d="M5.43,-14.11L34,-14L34,17L5.43,19.09Z" fill="#5f6200"/><path d="M34,-14L76,-22.5L76,25.5L34,17Z" fill="#640000"/></g><g transform="rotate(135)"><rect x="39.4" y="-40" width="30" height="80" fill="#640000"/><rect x="45.2" y="-40" width="30" height="80" fill="#140200"/></g></g><use href="#cs" fill="none" stroke="#1a0300" stroke-width="2.6"/></g>
<g transform="translate(551.55,229.25)"><g clip-path="url(#cc)"><use href="#cs" fill="#c26600"/><circle cx="6.4" cy="-7.61" r="41" fill="#ff5c00"/><circle cx="4.8" cy="-3.56" r="31.2" fill="#ffa600"/><circle cx="6.2" cy="-6.46" r="12.7" fill="#ffa454" opacity="0.55"/><circle cx="6.2" cy="-6.46" r="8.6" fill="url(#gH)"/><circle cx="6.9" cy="-8.11" r="53.2" stroke="#7a5e00" stroke-width="6" fill="none"/><rect x="37.6" y="-40" width="30" height="80" fill="#6e6200" transform="rotate(135)"/><g transform="rotate(135)"><rect x="39.4" y="-40" width="30" height="80" fill="#640000"/><rect x="45.2" y="-40" width="30" height="80" fill="#140200"/></g></g><use href="#cs" fill="none" stroke="#1a0300" stroke-width="2.6"/></g>
<g transform="translate(638.05,229.25)"><g clip-path="url(#cc)"><use href="#cs" fill="#c26600"/><circle cx="6.63" cy="-7.61" r="41" fill="#ff5c00"/><circle cx="5.03" cy="-3.56" r="31.2" fill="#ffa600"/><circle cx="6.43" cy="-6.46" r="12.7" fill="#ffa454" opacity="0.55"/><circle cx="6.43" cy="-6.46" r="8.6" fill="url(#gH)"/><circle cx="7.13" cy="-8.11" r="53.2" stroke="#7a5e00" stroke-width="6" fill="none"/><rect x="37.6" y="-40" width="30" height="80" fill="#6e6200" transform="rotate(135)"/><g transform="rotate(135)"><path d="M3.96,-15.58L32.44,-14.89L32.44,16.11L3.96,17.62Z" fill="#5f6200"/><path d="M32.44,-14.89L74.44,-23.39L74.44,24.61L32.44,16.11Z" fill="#640000"/></g><g transform="rotate(135)"><rect x="39.4" y="-40" width="30" height="80" fill="#640000"/><rect x="45.2" y="-40" width="30" height="80" fill="#140200"/></g></g><use href="#cs" fill="none" stroke="#1a0300" stroke-width="2.6"/></g>
<g transform="translate(724.55,229.25)"><g clip-path="url(#cc)"><use href="#cs" fill="#c26600"/><circle cx="6.85" cy="-7.61" r="41" fill="#ff5c00"/><circle cx="5.25" cy="-3.56" r="31.2" fill="#ffa600"/><circle cx="6.65" cy="-6.46" r="12.7" fill="#ffa454" opacity="0.55"/><circle cx="6.65" cy="-6.46" r="8.6" fill="url(#gH)"/><circle cx="7.35" cy="-8.11" r="53.2" stroke="#7a5e00" stroke-width="6" fill="none"/><rect x="37.6" y="-40" width="30" height="80" fill="#6e6200" transform="rotate(135)"/><g transform="rotate(135)"><rect x="39.4" y="-40" width="30" height="80" fill="#640000"/><rect x="45.2" y="-40" width="30" height="80" fill="#140200"/></g></g><use href="#cs" fill="none" stroke="#1a0300" stroke-width="2.6"/></g>
<g transform="translate(811.05,229.25)"><g clip-path="url(#cc)"><use href="#cs" fill="#c26600"/><circle cx="7.08" cy="-7.61" r="41" fill="#ff5c00"/><circle cx="5.48" cy="-3.56" r="31.2" fill="#ffa600"/><circle cx="6.88" cy="-6.46" r="12.7" fill="#ffa454" opacity="0.55"/><circle cx="6.88" cy="-6.46" r="8.6" fill="url(#gH)"/><circle cx="7.58" cy="-8.11" r="53.2" stroke="#7a5e00" stroke-width="6" fill="none"/><rect x="37.6" y="-40" width="30" height="80" fill="#6e6200" transform="rotate(135)"/><g transform="rotate(135)"><path d="M2.69,-16.85L30.79,-15.65L30.79,15.35L2.69,16.35Z" fill="#5f6200"/><path d="M30.79,-15.65L72.79,-24.15L72.79,23.85L30.79,15.35Z" fill="#640000"/></g><g transform="rotate(135)"><rect x="39.4" y="-40" width="30" height="80" fill="#640000"/><rect x="45.2" y="-40" width="30" height="80" fill="#140200"/></g></g><use href="#cs" fill="none" stroke="#1a0300" stroke-width="2.6"/></g>
<g transform="translate(897.55,229.25)"><g clip-path="url(#cc)"><use href="#cs" fill="#c26600"/><circle cx="7.3" cy="-7.61" r="41" fill="#ff5c00"/><circle cx="5.7" cy="-3.56" r="31.2" fill="#ffa600"/><circle cx="7.1" cy="-6.46" r="12.7" fill="#ffa454" opacity="0.55"/><circle cx="7.1" cy="-6.46" r="8.6" fill="url(#gH)"/><circle cx="7.8" cy="-8.11" r="53.2" stroke="#7a5e00" stroke-width="6" fill="none"/><rect x="37.6" y="-40" width="30" height="80" fill="#6e6200" transform="rotate(135)"/><g transform="rotate(135)"><rect x="39.4" y="-40" width="30" height="80" fill="#640000"/><rect x="45.2" y="-40" width="30" height="80" fill="#140200"/></g></g><use href="#cs" fill="none" stroke="#1a0300" stroke-width="2.6"/></g>
<g transform="translate(984.05,229.25)"><g clip-path="url(#cc)"><use href="#cs" fill="#c26600"/><circle cx="7.53" cy="-7.61" r="41" fill="#ff5c00"/><circle cx="5.93" cy="-3.56" r="31.2" fill="#ffa600"/><circle cx="7.33" cy="-6.46" r="12.7" fill="#ffa454" opacity="0.55"/><circle cx="7.33" cy="-6.46" r="8.6" fill="url(#gH)"/><circle cx="8.03" cy="-8.11" r="53.2" stroke="#7a5e00" stroke-width="6" fill="none"/><rect x="37.6" y="-40" width="30" height="80" fill="#6e6200" transform="rotate(135)"/><g transform="rotate(135)"><path d="M1.53,-18L29.29,-16.34L29.29,14.66L1.53,15.2Z" fill="#5f6200"/><path d="M29.29,-16.34L71.29,-24.84L71.29,23.16L29.29,14.66Z" fill="#640000"/></g><g transform="rotate(135)"><rect x="39.4" y="-40" width="30" height="80" fill="#640000"/><rect x="45.2" y="-40" width="30" height="80" fill="#140200"/></g></g><use href="#cs" fill="none" stroke="#1a0300" stroke-width="2.6"/></g>
<g transform="translate(1070.55,229.25)"><g clip-path="url(#cc)"><use href="#cs" fill="#c26600"/><circle cx="7.75" cy="-7.61" r="41" fill="#ff5c00"/><circle cx="6.15" cy="-3.56" r="31.2" fill="#ffa600"/><circle cx="7.55" cy="-6.46" r="12.7" fill="#ffa454" opacity="0.55"/><circle cx="7.55" cy="-6.46" r="8.6" fill="url(#gH)"/><circle cx="8.25" cy="-8.11" r="53.2" stroke="#7a5e00" stroke-width="6" fill="none"/><rect x="37.6" y="-40" width="30" height="80" fill="#6e6200" transform="rotate(135)"/><g transform="rotate(135)"><rect x="39.4" y="-40" width="30" height="80" fill="#640000"/><rect x="45.2" y="-40" width="30" height="80" fill="#140200"/></g></g><use href="#cs" fill="none" stroke="#1a0300" stroke-width="2.6"/></g>
<g transform="translate(1157.05,229.25)"><g clip-path="url(#cc)"><use href="#cs" fill="#c26600"/><circle cx="7.98" cy="-7.61" r="41" fill="#ff5c00"/><circle cx="6.38" cy="-3.56" r="31.2" fill="#ffa600"/><circle cx="7.78" cy="-6.46" r="12.7" fill="#ffa454" opacity="0.55"/><circle cx="7.78" cy="-6.46" r="8.6" fill="url(#gH)"/><circle cx="8.48" cy="-8.11" r="53.2" stroke="#7a5e00" stroke-width="6" fill="none"/><rect x="37.6" y="-40" width="30" height="80" fill="#6e6200" transform="rotate(135)"/><g transform="rotate(135)"><path d="M0.41,-19.12L27.83,-17.01L27.83,13.99L0.41,14.08Z" fill="#5f6200"/><path d="M27.83,-17.01L69.83,-25.51L69.83,22.49L27.83,13.99Z" fill="#640000"/></g><g transform="rotate(135)"><rect x="39.4" y="-40" width="30" height="80" fill="#640000"/><rect x="45.2" y="-40" width="30" height="80" fill="#140200"/></g></g><use href="#cs" fill="none" stroke="#1a0300" stroke-width="2.6"/></g>
<g transform="translate(1243.55,229.25)"><g clip-path="url(#cc)"><use href="#cs" fill="#c26600"/><circle cx="8.2" cy="-7.61" r="41" fill="#ff5c00"/><circle cx="6.6" cy="-3.56" r="31.2" fill="#ffa600"/><circle cx="8" cy="-6.46" r="12.7" fill="#ffa454" opacity="0.55"/><circle cx="8" cy="-6.46" r="8.6" fill="url(#gH)"/><circle cx="8.7" cy="-8.11" r="53.2" stroke="#7a5e00" stroke-width="6" fill="none"/><rect x="37.6" y="-40" width="30" height="80" fill="#6e6200" transform="rotate(135)"/><g transform="rotate(135)"><rect x="39.4" y="-40" width="30" height="80" fill="#640000"/><rect x="45.2" y="-40" width="30" height="80" fill="#140200"/></g></g><use href="#cs" fill="none" stroke="#1a0300" stroke-width="2.6"/></g>
<g transform="translate(1330.05,229.25)"><g clip-path="url(#cc)"><use href="#cs" fill="#c26600"/><circle cx="8.43" cy="-7.61" r="41" fill="#ff5c00"/><circle cx="6.83" cy="-3.56" r="31.2" fill="#ffa600"/><circle cx="8.23" cy="-6.46" r="12.7" fill="#ffa454" opacity="0.55"/><circle cx="8.23" cy="-6.46" r="8.6" fill="url(#gH)"/><circle cx="8.93" cy="-8.11" r="53.2" stroke="#7a5e00" stroke-width="6" fill="none"/><rect x="37.6" y="-40" width="30" height="80" fill="#6e6200" transform="rotate(135)"/><g transform="rotate(135)"><path d="M-0.77,-20.3L26.3,-17.72L26.3,13.28L-0.77,12.9Z" fill="#5f6200"/><path d="M26.3,-17.72L68.3,-26.22L68.3,21.78L26.3,13.28Z" fill="#640000"/></g><g transform="rotate(135)"><rect x="39.4" y="-40" width="30" height="80" fill="#640000"/><rect x="45.2" y="-40" width="30" height="80" fill="#140200"/></g></g><use href="#cs" fill="none" stroke="#1a0300" stroke-width="2.6"/></g>
<g transform="translate(1416.55,229.25)"><g clip-path="url(#cc)"><use href="#cs" fill="#c26600"/><circle cx="8.65" cy="-7.61" r="41" fill="#ff5c00"/><circle cx="7.05" cy="-3.56" r="31.2" fill="#ffa600"/><circle cx="8.45" cy="-6.46" r="12.7" fill="#ffa454" opacity="0.55"/><circle cx="8.45" cy="-6.46" r="8.6" fill="url(#gH)"/><circle cx="9.15" cy="-8.11" r="53.2" stroke="#7a5e00" stroke-width="6" fill="none"/><rect x="37.6" y="-40" width="30" height="80" fill="#6e6200" transform="rotate(135)"/><g transform="rotate(135)"><rect x="39.4" y="-40" width="30" height="80" fill="#640000"/><rect x="45.2" y="-40" width="30" height="80" fill="#140200"/></g></g><use href="#cs" fill="none" stroke="#1a0300" stroke-width="2.6"/></g>
<g transform="translate(1503.05,229.25)"><g clip-path="url(#cc)"><use href="#cs" fill="#c26600"/><circle cx="8.88" cy="-7.61" r="41" fill="#ff5c00"/><circle cx="7.28" cy="-3.56" r="31.2" fill="#ffa600"/><circle cx="8.68" cy="-6.46" r="12.7" fill="#ffa454" opacity="0.55"/><circle cx="8.68" cy="-6.46" r="8.6" fill="url(#gH)"/><circle cx="9.38" cy="-8.11" r="53.2" stroke="#7a5e00" stroke-width="6" fill="none"/><rect x="37.6" y="-40" width="30" height="80" fill="#6e6200" transform="rotate(135)"/><g transform="rotate(135)"><path d="M-2.09,-21.63L24.58,-18.52L24.58,12.48L-2.09,11.57Z" fill="#5f6200"/><path d="M24.58,-18.52L66.58,-27.02L66.58,20.98L24.58,12.48Z" fill="#640000"/></g><g transform="rotate(135)"><rect x="39.4" y="-40" width="30" height="80" fill="#640000"/><rect x="45.2" y="-40" width="30" height="80" fill="#140200"/></g></g><use href="#cs" fill="none" stroke="#1a0300" stroke-width="2.6"/></g>
<g transform="translate(1589.55,229.25)"><g clip-path="url(#cc)"><use href="#cs" fill="#c26600"/><circle cx="9.1" cy="-7.61" r="41" fill="#ff5c00"/><circle cx="7.5" cy="-3.56" r="31.2" fill="#ffa600"/><circle cx="8.9" cy="-6.46" r="12.7" fill="#ffa454" opacity="0.55"/><circle cx="8.9" cy="-6.46" r="8.6" fill="url(#gH)"/><circle cx="9.6" cy="-8.11" r="53.2" stroke="#7a5e00" stroke-width="6" fill="none"/><rect x="37.6" y="-40" width="30" height="80" fill="#6e6200" transform="rotate(135)"/><g transform="rotate(135)"><rect x="39.4" y="-40" width="30" height="80" fill="#640000"/><rect x="45.2" y="-40" width="30" height="80" fill="#140200"/></g></g><use href="#cs" fill="none" stroke="#1a0300" stroke-width="2.6"/></g>
<g transform="translate(1676.05,229.25)"><g clip-path="url(#cc)"><use href="#cs" fill="#c26600"/><circle cx="9.33" cy="-7.61" r="41" fill="#ff5c00"/><circle cx="7.73" cy="-3.56" r="31.2" fill="#ffa600"/><circle cx="9.13" cy="-6.46" r="12.7" fill="#ffa454" opacity="0.55"/><circle cx="9.13" cy="-6.46" r="8.6" fill="url(#gH)"/><circle cx="9.83" cy="-8.11" r="53.2" stroke="#7a5e00" stroke-width="6" fill="none"/><rect x="37.6" y="-40" width="30" height="80" fill="#6e6200" transform="rotate(135)"/><g transform="rotate(135)"><path d="M-3.64,-23.18L22.56,-19.45L22.56,11.55L-3.64,10.02Z" fill="#5f6200"/><path d="M22.56,-19.45L64.56,-27.95L64.56,20.05L22.56,11.55Z" fill="#640000"/></g><g transform="rotate(135)"><rect x="39.4" y="-40" width="30" height="80" fill="#640000"/><rect x="45.2" y="-40" width="30" height="80" fill="#140200"/></g></g><use href="#cs" fill="none" stroke="#1a0300" stroke-width="2.6"/></g>
<g transform="translate(205.55,315.95)"><g clip-path="url(#cc)"><use href="#cs" fill="#c26600"/><circle cx="5.5" cy="-7.09" r="41" fill="#ff5c00"/><circle cx="3.9" cy="-3.04" r="31.2" fill="#ffa600"/><circle cx="5.3" cy="-5.94" r="12.7" fill="#ffa454" opacity="0.55"/><circle cx="5.3" cy="-5.94" r="8.6" fill="url(#gH)"/><circle cx="6" cy="-7.59" r="53.2" stroke="#7a5e00" stroke-width="6" fill="none"/><rect x="37.6" y="-40" width="30" height="80" fill="#6e6200" transform="rotate(135)"/><g transform="rotate(135)"><path d="M8.91,-12.05L34,-12.77L34,18.23L8.91,21.15Z" fill="#5f6200"/><path d="M34,-12.77L76,-21.27L76,26.73L34,18.23Z" fill="#640000"/></g><g transform="rotate(135)"><rect x="39.4" y="-40" width="30" height="80" fill="#640000"/><rect x="45.2" y="-40" width="30" height="80" fill="#140200"/></g></g><use href="#cs" fill="none" stroke="#1a0300" stroke-width="2.6"/></g>
<g transform="translate(292.05,315.95)"><g clip-path="url(#cc)"><use href="#cs" fill="#c26600"/><circle cx="5.73" cy="-7.09" r="41" fill="#ff5c00"/><circle cx="4.13" cy="-3.04" r="31.2" fill="#ffa600"/><circle cx="5.53" cy="-5.94" r="12.7" fill="#ffa454" opacity="0.55"/><circle cx="5.53" cy="-5.94" r="8.6" fill="url(#gH)"/><circle cx="6.23" cy="-7.59" r="53.2" stroke="#7a5e00" stroke-width="6" fill="none"/><rect x="37.6" y="-40" width="30" height="80" fill="#6e6200" transform="rotate(135)"/><g transform="rotate(135)"><rect x="39.4" y="-40" width="30" height="80" fill="#640000"/><rect x="45.2" y="-40" width="30" height="80" fill="#140200"/></g></g><use href="#cs" fill="none" stroke="#1a0300" stroke-width="2.6"/></g>
<g transform="translate(378.55,315.95)"><g clip-path="url(#cc)"><use href="#cs" fill="#c26600"/><circle cx="5.95" cy="-7.09" r="41" fill="#ff5c00"/><circle cx="4.35" cy="-3.04" r="31.2" fill="#ffa600"/><circle cx="5.75" cy="-5.94" r="12.7" fill="#ffa454" opacity="0.55"/><circle cx="5.75" cy="-5.94" r="8.6" fill="url(#gH)"/><circle cx="6.45" cy="-7.59" r="53.2" stroke="#7a5e00" stroke-width="6" fill="none"/><rect x="37.6" y="-40" width="30" height="80" fill="#6e6200" transform="rotate(135)"/><g transform="rotate(135)"><path d="M6.98,-13.99L34,-13.93L34,17.07L6.98,19.21Z" fill="#5f6200"/><path d="M34,-13.93L76,-22.43L76,25.57L34,17.07Z" fill="#640000"/></g><g transform="rotate(135)"><rect x="39.4" y="-40" width="30" height="80" fill="#640000"/><rect x="45.2" y="-40" width="30" height="80" fill="#140200"/></g></g><use href="#cs" fill="none" stroke="#1a0300" stroke-width="2.6"/></g>
<g transform="translate(465.05,315.95)"><g clip-path="url(#cc)"><use href="#cs" fill="#c26600"/><circle cx="6.18" cy="-7.09" r="41" fill="#ff5c00"/><circle cx="4.58" cy="-3.04" r="31.2" fill="#ffa600"/><circle cx="5.98" cy="-5.94" r="12.7" fill="#ffa454" opacity="0.55"/><circle cx="5.98" cy="-5.94" r="8.6" fill="url(#gH)"/><circle cx="6.68" cy="-7.59" r="53.2" stroke="#7a5e00" stroke-width="6" fill="none"/><rect x="37.6" y="-40" width="30" height="80" fill="#6e6200" transform="rotate(135)"/><g transform="rotate(135)"><rect x="39.4" y="-40" width="30" height="80" fill="#640000"/><rect x="45.2" y="-40" width="30" height="80" fill="#140200"/></g></g><use href="#cs" fill="none" stroke="#1a0300" stroke-width="2.6"/></g>
<g transform="translate(551.55,315.95)"><g clip-path="url(#cc)"><use href="#cs" fill="#c26600"/><circle cx="6.4" cy="-7.09" r="41" fill="#ff5c00"/><circle cx="4.8" cy="-3.04" r="31.2" fill="#ffa600"/><circle cx="6.2" cy="-5.94" r="12.7" fill="#ffa454" opacity="0.55"/><circle cx="6.2" cy="-5.94" r="8.6" fill="url(#gH)"/><circle cx="6.9" cy="-7.59" r="53.2" stroke="#7a5e00" stroke-width="6" fill="none"/><rect x="37.6" y="-40" width="30" height="80" fill="#6e6200" transform="rotate(135)"/><g transform="rotate(135)"><path d="M5.38,-15.59L34,-14.89L34,16.11L5.38,17.61Z" fill="#5f6200"/><path d="M34,-14.89L76,-23.39L76,24.61L34,16.11Z" fill="#640000"/></g><g transform="rotate(135)"><rect x="39.4" y="-40" width="30" height="80" fill="#640000"/><rect x="45.2" y="-40" width="30" height="80" fill="#140200"/></g></g><use href="#cs" fill="none" stroke="#1a0300" stroke-width="2.6"/></g>
<g transform="translate(638.05,315.95)"><g clip-path="url(#cc)"><use href="#cs" fill="#c26600"/><circle cx="6.63" cy="-7.09" r="41" fill="#ff5c00"/><circle cx="5.03" cy="-3.04" r="31.2" fill="#ffa600"/><circle cx="6.43" cy="-5.94" r="12.7" fill="#ffa454" opacity="0.55"/><circle cx="6.43" cy="-5.94" r="8.6" fill="url(#gH)"/><circle cx="7.13" cy="-7.59" r="53.2" stroke="#7a5e00" stroke-width="6" fill="none"/><rect x="37.6" y="-40" width="30" height="80" fill="#6e6200" transform="rotate(135)"/><g transform="rotate(135)"><rect x="39.4" y="-40" width="30" height="80" fill="#640000"/><rect x="45.2" y="-40" width="30" height="80" fill="#140200"/></g></g><use href="#cs" fill="none" stroke="#1a0300" stroke-width="2.6"/></g>
<g transform="translate(724.55,315.95)"><g clip-path="url(#cc)"><use href="#cs" fill="#c26600"/><circle cx="6.85" cy="-7.09" r="41" fill="#ff5c00"/><circle cx="5.25" cy="-3.04" r="31.2" fill="#ffa600"/><circle cx="6.65" cy="-5.94" r="12.7" fill="#ffa454" opacity="0.55"/><circle cx="6.65" cy="-5.94" r="8.6" fill="url(#gH)"/><circle cx="7.35" cy="-7.59" r="53.2" stroke="#7a5e00" stroke-width="6" fill="none"/><rect x="37.6" y="-40" width="30" height="80" fill="#6e6200" transform="rotate(135)"/><g transform="rotate(135)"><path d="M4.02,-16.95L32.53,-15.71L32.53,15.29L4.02,16.25Z" fill="#5f6200"/><path d="M32.53,-15.71L74.53,-24.21L74.53,23.79L32.53,15.29Z" fill="#640000"/></g><g transform="rotate(135)"><rect x="39.4" y="-40" width="30" height="80" fill="#640000"/><rect x="45.2" y="-40" width="30" height="80" fill="#140200"/></g></g><use href="#cs" fill="none" stroke="#1a0300" stroke-width="2.6"/></g>
<g transform="translate(811.05,315.95)"><g clip-path="url(#cc)"><use href="#cs" fill="#c26600"/><circle cx="7.08" cy="-7.09" r="41" fill="#ff5c00"/><circle cx="5.48" cy="-3.04" r="31.2" fill="#ffa600"/><circle cx="6.88" cy="-5.94" r="12.7" fill="#ffa454" opacity="0.55"/><circle cx="6.88" cy="-5.94" r="8.6" fill="url(#gH)"/><circle cx="7.58" cy="-7.59" r="53.2" stroke="#7a5e00" stroke-width="6" fill="none"/><rect x="37.6" y="-40" width="30" height="80" fill="#6e6200" transform="rotate(135)"/><g transform="rotate(135)"><rect x="39.4" y="-40" width="30" height="80" fill="#640000"/><rect x="45.2" y="-40" width="30" height="80" fill="#140200"/></g></g><use href="#cs" fill="none" stroke="#1a0300" stroke-width="2.6"/></g>
<g transform="translate(897.55,315.95)"><g clip-path="url(#cc)"><use href="#cs" fill="#c26600"/><circle cx="7.3" cy="-7.09" r="41" fill="#ff5c00"/><circle cx="5.7" cy="-3.04" r="31.2" fill="#ffa600"/><circle cx="7.1" cy="-5.94" r="12.7" fill="#ffa454" opacity="0.55"/><circle cx="7.1" cy="-5.94" r="8.6" fill="url(#gH)"/><circle cx="7.8" cy="-7.59" r="53.2" stroke="#7a5e00" stroke-width="6" fill="none"/><rect x="37.6" y="-40" width="30" height="80" fill="#6e6200" transform="rotate(135)"/><g transform="rotate(135)"><path d="M2.82,-18.15L30.96,-16.43L30.96,14.57L2.82,15.05Z" fill="#5f6200"/><path d="M30.96,-16.43L72.96,-24.93L72.96,23.07L30.96,14.57Z" fill="#640000"/></g><g transform="rotate(135)"><rect x="39.4" y="-40" width="30" height="80" fill="#640000"/><rect x="45.2" y="-40" width="30" height="80" fill="#140200"/></g></g><use href="#cs" fill="none" stroke="#1a0300" stroke-width="2.6"/></g>
<g transform="translate(984.05,315.95)"><g clip-path="url(#cc)"><use href="#cs" fill="#c26600"/><circle cx="7.53" cy="-7.09" r="41" fill="#ff5c00"/><circle cx="5.93" cy="-3.04" r="31.2" fill="#ffa600"/><circle cx="7.33" cy="-5.94" r="12.7" fill="#ffa454" opacity="0.55"/><circle cx="7.33" cy="-5.94" r="8.6" fill="url(#gH)"/><circle cx="8.03" cy="-7.59" r="53.2" stroke="#7a5e00" stroke-width="6" fill="none"/><rect x="37.6" y="-40" width="30" height="80" fill="#6e6200" transform="rotate(135)"/><g transform="rotate(135)"><rect x="39.4" y="-40" width="30" height="80" fill="#640000"/><rect x="45.2" y="-40" width="30" height="80" fill="#140200"/></g></g><use href="#cs" fill="none" stroke="#1a0300" stroke-width="2.6"/></g>
<g transform="translate(1070.55,315.95)"><g clip-path="url(#cc)"><use href="#cs" fill="#c26600"/><circle cx="7.75" cy="-7.09" r="41" fill="#ff5c00"/><circle cx="6.15" cy="-3.04" r="31.2" fill="#ffa600"/><circle cx="7.55" cy="-5.94" r="12.7" fill="#ffa454" opacity="0.55"/><circle cx="7.55" cy="-5.94" r="8.6" fill="url(#gH)"/><circle cx="8.25" cy="-7.59" r="53.2" stroke="#7a5e00" stroke-width="6" fill="none"/><rect x="37.6" y="-40" width="30" height="80" fill="#6e6200" transform="rotate(135)"/><g transform="rotate(135)"><path d="M1.69,-19.28L29.5,-17.11L29.5,13.89L1.69,13.92Z" fill="#5f6200"/><path d="M29.5,-17.11L71.5,-25.61L71.5,22.39L29.5,13.89Z" fill="#640000"/></g><g transform="rotate(135)"><rect x="39.4" y="-40" width="30" height="80" fill="#640000"/><rect x="45.2" y="-40" width="30" height="80" fill="#140200"/></g></g><use href="#cs" fill="none" stroke="#1a0300" stroke-width="2.6"/></g>
<g transform="translate(1157.05,315.95)"><g clip-path="url(#cc)"><use href="#cs" fill="#c26600"/><circle cx="7.98" cy="-7.09" r="41" fill="#ff5c00"/><circle cx="6.38" cy="-3.04" r="31.2" fill="#ffa600"/><circle cx="7.78" cy="-5.94" r="12.7" fill="#ffa454" opacity="0.55"/><circle cx="7.78" cy="-5.94" r="8.6" fill="url(#gH)"/><circle cx="8.48" cy="-7.59" r="53.2" stroke="#7a5e00" stroke-width="6" fill="none"/><rect x="37.6" y="-40" width="30" height="80" fill="#6e6200" transform="rotate(135)"/><g transform="rotate(135)"><rect x="39.4" y="-40" width="30" height="80" fill="#640000"/><rect x="45.2" y="-40" width="30" height="80" fill="#140200"/></g></g><use href="#cs" fill="none" stroke="#1a0300" stroke-width="2.6"/></g>
<g transform="translate(1243.55,315.95)"><g clip-path="url(#cc)"><use href="#cs" fill="#c26600"/><circle cx="8.2" cy="-7.09" r="41" fill="#ff5c00"/><circle cx="6.6" cy="-3.04" r="31.2" fill="#ffa600"/><circle cx="8" cy="-5.94" r="12.7" fill="#ffa454" opacity="0.55"/><circle cx="8" cy="-5.94" r="8.6" fill="url(#gH)"/><circle cx="8.7" cy="-7.59" r="53.2" stroke="#7a5e00" stroke-width="6" fill="none"/><rect x="37.6" y="-40" width="30" height="80" fill="#6e6200" transform="rotate(135)"/><g transform="rotate(135)"><path d="M0.55,-20.42L28.01,-17.79L28.01,13.21L0.55,12.78Z" fill="#5f6200"/><path d="M28.01,-17.79L70.01,-26.29L70.01,21.71L28.01,13.21Z" fill="#640000"/></g><g transform="rotate(135)"><rect x="39.4" y="-40" width="30" height="80" fill="#640000"/><rect x="45.2" y="-40" width="30" height="80" fill="#140200"/></g></g><use href="#cs" fill="none" stroke="#1a0300" stroke-width="2.6"/></g>
<g transform="translate(1330.05,315.95)"><g clip-path="url(#cc)"><use href="#cs" fill="#c26600"/><circle cx="8.43" cy="-7.09" r="41" fill="#ff5c00"/><circle cx="6.83" cy="-3.04" r="31.2" fill="#ffa600"/><circle cx="8.23" cy="-5.94" r="12.7" fill="#ffa454" opacity="0.55"/><circle cx="8.23" cy="-5.94" r="8.6" fill="url(#gH)"/><circle cx="8.93" cy="-7.59" r="53.2" stroke="#7a5e00" stroke-width="6" fill="none"/><rect x="37.6" y="-40" width="30" height="80" fill="#6e6200" transform="rotate(135)"/><g transform="rotate(135)"><rect x="39.4" y="-40" width="30" height="80" fill="#640000"/><rect x="45.2" y="-40" width="30" height="80" fill="#140200"/></g></g><use href="#cs" fill="none" stroke="#1a0300" stroke-width="2.6"/></g>
<g transform="translate(1416.55,315.95)"><g clip-path="url(#cc)"><use href="#cs" fill="#c26600"/><circle cx="8.65" cy="-7.09" r="41" fill="#ff5c00"/><circle cx="7.05" cy="-3.04" r="31.2" fill="#ffa600"/><circle cx="8.45" cy="-5.94" r="12.7" fill="#ffa454" opacity="0.55"/><circle cx="8.45" cy="-5.94" r="8.6" fill="url(#gH)"/><circle cx="9.15" cy="-7.59" r="53.2" stroke="#7a5e00" stroke-width="6" fill="none"/><rect x="37.6" y="-40" width="30" height="80" fill="#6e6200" transform="rotate(135)"/><g transform="rotate(135)"><path d="M-0.69,-21.66L26.4,-18.54L26.4,12.46L-0.69,11.54Z" fill="#5f6200"/><path d="M26.4,-18.54L68.4,-27.04L68.4,20.96L26.4,12.46Z" fill="#640000"/></g><g transform="rotate(135)"><rect x="39.4" y="-40" width="30" height="80" fill="#640000"/><rect x="45.2" y="-40" width="30" height="80" fill="#140200"/></g></g><use href="#cs" fill="none" stroke="#1a0300" stroke-width="2.6"/></g>
<g transform="translate(1503.05,315.95)"><g clip-path="url(#cc)"><use href="#cs" fill="#c26600"/><circle cx="8.88" cy="-7.09" r="41" fill="#ff5c00"/><circle cx="7.28" cy="-3.04" r="31.2" fill="#ffa600"/><circle cx="8.68" cy="-5.94" r="12.7" fill="#ffa454" opacity="0.55"/><circle cx="8.68" cy="-5.94" r="8.6" fill="url(#gH)"/><circle cx="9.38" cy="-7.59" r="53.2" stroke="#7a5e00" stroke-width="6" fill="none"/><rect x="37.6" y="-40" width="30" height="80" fill="#6e6200" transform="rotate(135)"/><g transform="rotate(135)"><rect x="39.4" y="-40" width="30" height="80" fill="#640000"/><rect x="45.2" y="-40" width="30" height="80" fill="#140200"/></g></g><use href="#cs" fill="none" stroke="#1a0300" stroke-width="2.6"/></g>
<g transform="translate(1589.55,315.95)"><g clip-path="url(#cc)"><use href="#cs" fill="#c26600"/><circle cx="9.1" cy="-7.09" r="41" fill="#ff5c00"/><circle cx="7.5" cy="-3.04" r="31.2" fill="#ffa600"/><circle cx="8.9" cy="-5.94" r="12.7" fill="#ffa454" opacity="0.55"/><circle cx="8.9" cy="-5.94" r="8.6" fill="url(#gH)"/><circle cx="9.6" cy="-7.59" r="53.2" stroke="#7a5e00" stroke-width="6" fill="none"/><rect x="37.6" y="-40" width="30" height="80" fill="#6e6200" transform="rotate(135)"/><g transform="rotate(135)"><path d="M-2.12,-23.08L24.55,-19.39L24.55,11.61L-2.12,10.12Z" fill="#5f6200"/><path d="M24.55,-19.39L66.55,-27.89L66.55,20.11L24.55,11.61Z" fill="#640000"/></g><g transform="rotate(135)"><rect x="39.4" y="-40" width="30" height="80" fill="#640000"/><rect x="45.2" y="-40" width="30" height="80" fill="#140200"/></g></g><use href="#cs" fill="none" stroke="#1a0300" stroke-width="2.6"/></g>
<g transform="translate(1676.05,315.95)"><g clip-path="url(#cc)"><use href="#cs" fill="#c26600"/><circle cx="9.33" cy="-7.09" r="41" fill="#ff5c00"/><circle cx="7.73" cy="-3.04" r="31.2" fill="#ffa600"/><circle cx="9.13" cy="-5.94" r="12.7" fill="#ffa454" opacity="0.55"/><circle cx="9.13" cy="-5.94" r="8.6" fill="url(#gH)"/><circle cx="9.83" cy="-7.59" r="53.2" stroke="#7a5e00" stroke-width="6" fill="none"/><rect x="37.6" y="-40" width="30" height="80" fill="#6e6200" transform="rotate(135)"/><g transform="rotate(135)"><rect x="39.4" y="-40" width="30" height="80" fill="#640000"/><rect x="45.2" y="-40" width="30" height="80" fill="#140200"/></g></g><use href="#cs" fill="none" stroke="#1a0300" stroke-width="2.6"/></g>
<g transform="translate(205.55,402.65)"><g clip-path="url(#cc)"><use href="#cs" fill="#c26600"/><circle cx="5.5" cy="-6.57" r="41" fill="#ff5c00"/><circle cx="3.9" cy="-2.52" r="31.2" fill="#ffa600"/><circle cx="5.3" cy="-5.42" r="12.7" fill="#ffa454" opacity="0.55"/><circle cx="5.3" cy="-5.42" r="8.6" fill="url(#gH)"/><circle cx="6" cy="-7.07" r="53.2" stroke="#7a5e00" stroke-width="6" fill="none"/><rect x="37.6" y="-40" width="30" height="80" fill="#6e6200" transform="rotate(135)"/><g transform="rotate(135)"><rect x="39.4" y="-40" width="30" height="80" fill="#640000"/><rect x="45.2" y="-40" width="30" height="80" fill="#140200"/></g></g><use href="#cs" fill="none" stroke="#1a0300" stroke-width="2.6"/></g>
<g transform="translate(292.05,402.65)"><g clip-path="url(#cc)"><use href="#cs" fill="#c26600"/><circle cx="5.73" cy="-6.57" r="41" fill="#ff5c00"/><circle cx="4.13" cy="-2.52" r="31.2" fill="#ffa600"/><circle cx="5.53" cy="-5.42" r="12.7" fill="#ffa454" opacity="0.55"/><circle cx="5.53" cy="-5.42" r="8.6" fill="url(#gH)"/><circle cx="6.23" cy="-7.07" r="53.2" stroke="#7a5e00" stroke-width="6" fill="none"/><rect x="37.6" y="-40" width="30" height="80" fill="#6e6200" transform="rotate(135)"/><g transform="rotate(135)"><path d="M8.62,-13.78L34,-13.81L34,17.19L8.62,19.42Z" fill="#5f6200"/><path d="M34,-13.81L76,-22.31L76,25.69L34,17.19Z" fill="#640000"/></g><g transform="rotate(135)"><rect x="39.4" y="-40" width="30" height="80" fill="#640000"/><rect x="45.2" y="-40" width="30" height="80" fill="#140200"/></g></g><use href="#cs" fill="none" stroke="#1a0300" stroke-width="2.6"/></g>
<g transform="translate(378.55,402.65)"><g clip-path="url(#cc)"><use href="#cs" fill="#c26600"/><circle cx="5.95" cy="-6.57" r="41" fill="#ff5c00"/><circle cx="4.35" cy="-2.52" r="31.2" fill="#ffa600"/><circle cx="5.75" cy="-5.42" r="12.7" fill="#ffa454" opacity="0.55"/><circle cx="5.75" cy="-5.42" r="8.6" fill="url(#gH)"/><circle cx="6.45" cy="-7.07" r="53.2" stroke="#7a5e00" stroke-width="6" fill="none"/><rect x="37.6" y="-40" width="30" height="80" fill="#6e6200" transform="rotate(135)"/><g transform="rotate(135)"><rect x="39.4" y="-40" width="30" height="80" fill="#640000"/><rect x="45.2" y="-40" width="30" height="80" fill="#140200"/></g></g><use href="#cs" fill="none" stroke="#1a0300" stroke-width="2.6"/></g>
<g transform="translate(465.05,402.65)"><g clip-path="url(#cc)"><use href="#cs" fill="#c26600"/><circle cx="6.18" cy="-6.57" r="41" fill="#ff5c00"/><circle cx="4.58" cy="-2.52" r="31.2" fill="#ffa600"/><circle cx="5.98" cy="-5.42" r="12.7" fill="#ffa454" opacity="0.55"/><circle cx="5.98" cy="-5.42" r="8.6" fill="url(#gH)"/><circle cx="6.68" cy="-7.07" r="53.2" stroke="#7a5e00" stroke-width="6" fill="none"/><rect x="37.6" y="-40" width="30" height="80" fill="#6e6200" transform="rotate(135)"/><g transform="rotate(135)"><path d="M6.86,-15.54L34,-14.86L34,16.14L6.86,17.66Z" fill="#5f6200"/><path d="M34,-14.86L76,-23.36L76,24.64L34,16.14Z" fill="#640000"/></g><g transform="rotate(135)"><rect x="39.4" y="-40" width="30" height="80" fill="#640000"/><rect x="45.2" y="-40" width="30" height="80" fill="#140200"/></g></g><use href="#cs" fill="none" stroke="#1a0300" stroke-width="2.6"/></g>
<g transform="translate(551.55,402.65)"><g clip-path="url(#cc)"><use href="#cs" fill="#c26600"/><circle cx="6.4" cy="-6.57" r="41" fill="#ff5c00"/><circle cx="4.8" cy="-2.52" r="31.2" fill="#ffa600"/><circle cx="6.2" cy="-5.42" r="12.7" fill="#ffa454" opacity="0.55"/><circle cx="6.2" cy="-5.42" r="8.6" fill="url(#gH)"/><circle cx="6.9" cy="-7.07" r="53.2" stroke="#7a5e00" stroke-width="6" fill="none"/><rect x="37.6" y="-40" width="30" height="80" fill="#6e6200" transform="rotate(135)"/><g transform="rotate(135)"><rect x="39.4" y="-40" width="30" height="80" fill="#640000"/><rect x="45.2" y="-40" width="30" height="80" fill="#140200"/></g></g><use href="#cs" fill="none" stroke="#1a0300" stroke-width="2.6"/></g>
<g transform="translate(638.05,402.65)"><g clip-path="url(#cc)"><use href="#cs" fill="#c26600"/><circle cx="6.63" cy="-6.57" r="41" fill="#ff5c00"/><circle cx="5.03" cy="-2.52" r="31.2" fill="#ffa600"/><circle cx="6.43" cy="-5.42" r="12.7" fill="#ffa454" opacity="0.55"/><circle cx="6.43" cy="-5.42" r="8.6" fill="url(#gH)"/><circle cx="7.13" cy="-7.07" r="53.2" stroke="#7a5e00" stroke-width="6" fill="none"/><rect x="37.6" y="-40" width="30" height="80" fill="#6e6200" transform="rotate(135)"/><g transform="rotate(135)"><path d="M5.39,-17.01L34,-15.75L34,15.25L5.39,16.19Z" fill="#5f6200"/><path d="M34,-15.75L76,-24.25L76,23.75L34,15.25Z" fill="#640000"/></g><g transform="rotate(135)"><rect x="39.4" y="-40" width="30" height="80" fill="#640000"/><rect x="45.2" y="-40" width="30" height="80" fill="#140200"/></g></g><use href="#cs" fill="none" stroke="#1a0300" stroke-width="2.6"/></g>
<g transform="translate(724.55,402.65)"><g clip-path="url(#cc)"><use href="#cs" fill="#c26600"/><circle cx="6.85" cy="-6.57" r="41" fill="#ff5c00"/><circle cx="5.25" cy="-2.52" r="31.2" fill="#ffa600"/><circle cx="6.65" cy="-5.42" r="12.7" fill="#ffa454" opacity="0.55"/><circle cx="6.65" cy="-5.42" r="8.6" fill="url(#gH)"/><circle cx="7.35" cy="-7.07" r="53.2" stroke="#7a5e00" stroke-width="6" fill="none"/><rect x="37.6" y="-40" width="30" height="80" fill="#6e6200" transform="rotate(135)"/><g transform="rotate(135)"><rect x="39.4" y="-40" width="30" height="80" fill="#640000"/><rect x="45.2" y="-40" width="30" height="80" fill="#140200"/></g></g><use href="#cs" fill="none" stroke="#1a0300" stroke-width="2.6"/></g>
<g transform="translate(811.05,402.65)"><g clip-path="url(#cc)"><use href="#cs" fill="#c26600"/><circle cx="7.08" cy="-6.57" r="41" fill="#ff5c00"/><circle cx="5.48" cy="-2.52" r="31.2" fill="#ffa600"/><circle cx="6.88" cy="-5.42" r="12.7" fill="#ffa454" opacity="0.55"/><circle cx="6.88" cy="-5.42" r="8.6" fill="url(#gH)"/><circle cx="7.58" cy="-7.07" r="53.2" stroke="#7a5e00" stroke-width="6" fill="none"/><rect x="37.6" y="-40" width="30" height="80" fill="#6e6200" transform="rotate(135)"/><g transform="rotate(135)"><path d="M4.12,-18.28L32.66,-16.51L32.66,14.49L4.12,14.92Z" fill="#5f6200"/><path d="M32.66,-16.51L74.66,-25.01L74.66,22.99L32.66,14.49Z" fill="#640000"/></g><g transform="rotate(135)"><rect x="39.4" y="-40" width="30" height="80" fill="#640000"/><rect x="45.2" y="-40" width="30" height="80" fill="#140200"/></g></g><use href="#cs" fill="none" stroke="#1a0300" stroke-width="2.6"/></g>
<g transform="translate(897.55,402.65)"><g clip-path="url(#cc)"><use href="#cs" fill="#c26600"/><circle cx="7.3" cy="-6.57" r="41" fill="#ff5c00"/><circle cx="5.7" cy="-2.52" r="31.2" fill="#ffa600"/><circle cx="7.1" cy="-5.42" r="12.7" fill="#ffa454" opacity="0.55"/><circle cx="7.1" cy="-5.42" r="8.6" fill="url(#gH)"/><circle cx="7.8" cy="-7.07" r="53.2" stroke="#7a5e00" stroke-width="6" fill="none"/><rect x="37.6" y="-40" width="30" height="80" fill="#6e6200" transform="rotate(135)"/><g transform="rotate(135)"><rect x="39.4" y="-40" width="30" height="80" fill="#640000"/><rect x="45.2" y="-40" width="30" height="80" fill="#140200"/></g></g><use href="#cs" fill="none" stroke="#1a0300" stroke-width="2.6"/></g>
<g transform="translate(984.05,402.65)"><g clip-path="url(#cc)"><use href="#cs" fill="#c26600"/><circle cx="7.53" cy="-6.57" r="41" fill="#ff5c00"/><circle cx="5.93" cy="-2.52" r="31.2" fill="#ffa600"/><circle cx="7.33" cy="-5.42" r="12.7" fill="#ffa454" opacity="0.55"/><circle cx="7.33" cy="-5.42" r="8.6" fill="url(#gH)"/><circle cx="8.03" cy="-7.07" r="53.2" stroke="#7a5e00" stroke-width="6" fill="none"/><rect x="37.6" y="-40" width="30" height="80" fill="#6e6200" transform="rotate(135)"/><g transform="rotate(135)"><path d="M2.97,-19.43L31.16,-17.2L31.16,13.8L2.97,13.77Z" fill="#5f6200"/><path d="M31.16,-17.2L73.16,-25.7L73.16,22.3L31.16,13.8Z" fill="#640000"/></g><g transform="rotate(135)"><rect x="39.4" y="-40" width="30" height="80" fill="#640000"/><rect x="45.2" y="-40" width="30" height="80" fill="#140200"/></g></g><use href="#cs" fill="none" stroke="#1a0300" stroke-width="2.6"/></g>
<g transform="translate(1070.55,402.65)"><g clip-path="url(#cc)"><use href="#cs" fill="#c26600"/><circle cx="7.75" cy="-6.57" r="41" fill="#ff5c00"/><circle cx="6.15" cy="-2.52" r="31.2" fill="#ffa600"/><circle cx="7.55" cy="-5.42" r="12.7" fill="#ffa454" opacity="0.55"/><circle cx="7.55" cy="-5.42" r="8.6" fill="url(#gH)"/><circle cx="8.25" cy="-7.07" r="53.2" stroke="#7a5e00" stroke-width="6" fill="none"/><rect x="37.6" y="-40" width="30" height="80" fill="#6e6200" transform="rotate(135)"/><g transform="rotate(135)"><rect x="39.4" y="-40" width="30" height="80" fill="#640000"/><rect x="45.2" y="-40" width="30" height="80" fill="#140200"/></g></g><use href="#cs" fill="none" stroke="#1a0300" stroke-width="2.6"/></g>
<g transform="translate(1157.05,402.65)"><g clip-path="url(#cc)"><use href="#cs" fill="#c26600"/><circle cx="7.98" cy="-6.57" r="41" fill="#ff5c00"/><circle cx="6.38" cy="-2.52" r="31.2" fill="#ffa600"/><circle cx="7.78" cy="-5.42" r="12.7" fill="#ffa454" opacity="0.55"/><circle cx="7.78" cy="-5.42" r="8.6" fill="url(#gH)"/><circle cx="8.48" cy="-7.07" r="53.2" stroke="#7a5e00" stroke-width="6" fill="none"/><rect x="37.6" y="-40" width="30" height="80" fill="#6e6200" transform="rotate(135)"/><g transform="rotate(135)"><path d="M1.84,-20.56L29.7,-17.88L29.7,13.12L1.84,12.64Z" fill="#5f6200"/><path d="M29.7,-17.88L71.7,-26.38L71.7,21.62L29.7,13.12Z" fill="#640000"/></g><g transform="rotate(135)"><rect x="39.4" y="-40" width="30" height="80" fill="#640000"/><rect x="45.2" y="-40" width="30" height="80" fill="#140200"/></g></g><use href="#cs" fill="none" stroke="#1a0300" stroke-width="2.6"/></g>
<g transform="translate(1243.55,402.65)"><g clip-path="url(#cc)"><use href="#cs" fill="#c26600"/><circle cx="8.2" cy="-6.57" r="41" fill="#ff5c00"/><circle cx="6.6" cy="-2.52" r="31.2" fill="#ffa600"/><circle cx="8" cy="-5.42" r="12.7" fill="#ffa454" opacity="0.55"/><circle cx="8" cy="-5.42" r="8.6" fill="url(#gH)"/><circle cx="8.7" cy="-7.07" r="53.2" stroke="#7a5e00" stroke-width="6" fill="none"/><rect x="37.6" y="-40" width="30" height="80" fill="#6e6200" transform="rotate(135)"/><g transform="rotate(135)"><rect x="39.4" y="-40" width="30" height="80" fill="#640000"/><rect x="45.2" y="-40" width="30" height="80" fill="#140200"/></g></g><use href="#cs" fill="none" stroke="#1a0300" stroke-width="2.6"/></g>
<g transform="translate(1330.05,402.65)"><g clip-path="url(#cc)"><use href="#cs" fill="#c26600"/><circle cx="8.43" cy="-6.57" r="41" fill="#ff5c00"/><circle cx="6.83" cy="-2.52" r="31.2" fill="#ffa600"/><circle cx="8.23" cy="-5.42" r="12.7" fill="#ffa454" opacity="0.55"/><circle cx="8.23" cy="-5.42" r="8.6" fill="url(#gH)"/><circle cx="8.93" cy="-7.07" r="53.2" stroke="#7a5e00" stroke-width="6" fill="none"/><rect x="37.6" y="-40" width="30" height="80" fill="#6e6200" transform="rotate(135)"/><g transform="rotate(135)"><path d="M0.66,-21.74L28.16,-18.58L28.16,12.42L0.66,11.46Z" fill="#5f6200"/><path d="M28.16,-18.58L70.16,-27.08L70.16,20.92L28.16,12.42Z" fill="#640000"/></g><g transform="rotate(135)"><rect x="39.4" y="-40" width="30" height="80" fill="#640000"/><rect x="45.2" y="-40" width="30" height="80" fill="#140200"/></g></g><use href="#cs" fill="none" stroke="#1a0300" stroke-width="2.6"/></g>
<g transform="translate(1416.55,402.65)"><g clip-path="url(#cc)"><use href="#cs" fill="#c26600"/><circle cx="8.65" cy="-6.57" r="41" fill="#ff5c00"/><circle cx="7.05" cy="-2.52" r="31.2" fill="#ffa600"/><circle cx="8.45" cy="-5.42" r="12.7" fill="#ffa454" opacity="0.55"/><circle cx="8.45" cy="-5.42" r="8.6" fill="url(#gH)"/><circle cx="9.15" cy="-7.07" r="53.2" stroke="#7a5e00" stroke-width="6" fill="none"/><rect x="37.6" y="-40" width="30" height="80" fill="#6e6200" transform="rotate(135)"/><g transform="rotate(135)"><rect x="39.4" y="-40" width="30" height="80" fill="#640000"/><rect x="45.2" y="-40" width="30" height="80" fill="#140200"/></g></g><use href="#cs" fill="none" stroke="#1a0300" stroke-width="2.6"/></g>
<g transform="translate(1503.05,402.65)"><g clip-path="url(#cc)"><use href="#cs" fill="#c26600"/><circle cx="8.88" cy="-6.57" r="41" fill="#ff5c00"/><circle cx="7.28" cy="-2.52" r="31.2" fill="#ffa600"/><circle cx="8.68" cy="-5.42" r="12.7" fill="#ffa454" opacity="0.55"/><circle cx="8.68" cy="-5.42" r="8.6" fill="url(#gH)"/><circle cx="9.38" cy="-7.07" r="53.2" stroke="#7a5e00" stroke-width="6" fill="none"/><rect x="37.6" y="-40" width="30" height="80" fill="#6e6200" transform="rotate(135)"/><g transform="rotate(135)"><path d="M-0.66,-23.06L26.44,-19.38L26.44,11.62L-0.66,10.14Z" fill="#5f6200"/><path d="M26.44,-19.38L68.44,-27.88L68.44,20.12L26.44,11.62Z" fill="#640000"/></g><g transform="rotate(135)"><rect x="39.4" y="-40" width="30" height="80" fill="#640000"/><rect x="45.2" y="-40" width="30" height="80" fill="#140200"/></g></g><use href="#cs" fill="none" stroke="#1a0300" stroke-width="2.6"/></g>
<g transform="translate(1589.55,402.65)"><g clip-path="url(#cc)"><use href="#cs" fill="#c26600"/><circle cx="9.1" cy="-6.57" r="41" fill="#ff5c00"/><circle cx="7.5" cy="-2.52" r="31.2" fill="#ffa600"/><circle cx="8.9" cy="-5.42" r="12.7" fill="#ffa454" opacity="0.55"/><circle cx="8.9" cy="-5.42" r="8.6" fill="url(#gH)"/><circle cx="9.6" cy="-7.07" r="53.2" stroke="#7a5e00" stroke-width="6" fill="none"/><rect x="37.6" y="-40" width="30" height="80" fill="#6e6200" transform="rotate(135)"/><g transform="rotate(135)"><rect x="39.4" y="-40" width="30" height="80" fill="#640000"/><rect x="45.2" y="-40" width="30" height="80" fill="#140200"/></g></g><use href="#cs" fill="none" stroke="#1a0300" stroke-width="2.6"/></g>
<g transform="translate(1676.05,402.65)"><g clip-path="url(#cc)"><use href="#cs" fill="#c26600"/><circle cx="9.33" cy="-6.57" r="41" fill="#ff5c00"/><circle cx="7.73" cy="-2.52" r="31.2" fill="#ffa600"/><circle cx="9.13" cy="-5.42" r="12.7" fill="#ffa454" opacity="0.55"/><circle cx="9.13" cy="-5.42" r="8.6" fill="url(#gH)"/><circle cx="9.83" cy="-7.07" r="53.2" stroke="#7a5e00" stroke-width="6" fill="none"/><rect x="37.6" y="-40" width="30" height="80" fill="#6e6200" transform="rotate(135)"/><g transform="rotate(135)"><path d="M-2.21,-24.61L24.43,-20.31L24.43,10.69L-2.21,8.59Z" fill="#5f6200"/><path d="M24.43,-20.31L66.43,-28.81L66.43,19.19L24.43,10.69Z" fill="#640000"/></g><g transform="rotate(135)"><rect x="39.4" y="-40" width="30" height="80" fill="#640000"/><rect x="45.2" y="-40" width="30" height="80" fill="#140200"/></g></g><use href="#cs" fill="none" stroke="#1a0300" stroke-width="2.6"/></g>
<g transform="translate(205.55,489.35)"><g clip-path="url(#cc)"><use href="#cs" fill="#c26600"/><circle cx="5.5" cy="-6.05" r="41" fill="#ff5c00"/><circle cx="3.9" cy="-2" r="31.2" fill="#ffa600"/><circle cx="5.3" cy="-4.9" r="12.7" fill="#ffa454" opacity="0.55"/><circle cx="5.3" cy="-4.9" r="8.6" fill="url(#gH)"/><circle cx="6" cy="-6.55" r="53.2" stroke="#7a5e00" stroke-width="6" fill="none"/><rect x="37.6" y="-40" width="30" height="80" fill="#6e6200" transform="rotate(135)"/><g transform="rotate(135)"><path d="M10.35,-13.49L34,-13.63L34,17.37L10.35,19.71Z" fill="#5f6200"/><path d="M34,-13.63L76,-22.13L76,25.87L34,17.37Z" fill="#640000"/></g><g transform="rotate(135)"><rect x="39.4" y="-40" width="30" height="80" fill="#640000"/><rect x="45.2" y="-40" width="30" height="80" fill="#140200"/></g></g><use href="#cs" fill="none" stroke="#1a0300" stroke-width="2.6"/></g>
<g transform="translate(292.05,489.35)"><g clip-path="url(#cc)"><use href="#cs" fill="#c26600"/><circle cx="5.73" cy="-6.05" r="41" fill="#ff5c00"/><circle cx="4.13" cy="-2" r="31.2" fill="#ffa600"/><circle cx="5.53" cy="-4.9" r="12.7" fill="#ffa454" opacity="0.55"/><circle cx="5.53" cy="-4.9" r="8.6" fill="url(#gH)"/><circle cx="6.23" cy="-6.55" r="53.2" stroke="#7a5e00" stroke-width="6" fill="none"/><rect x="37.6" y="-40" width="30" height="80" fill="#6e6200" transform="rotate(135)"/><g transform="rotate(135)"><rect x="39.4" y="-40" width="30" height="80" fill="#640000"/><rect x="45.2" y="-40" width="30" height="80" fill="#140200"/></g></g><use href="#cs" fill="none" stroke="#1a0300" stroke-width="2.6"/></g>
<g transform="translate(378.55,489.35)"><g clip-path="url(#cc)"><use href="#cs" fill="#c26600"/><circle cx="5.95" cy="-6.05" r="41" fill="#ff5c00"/><circle cx="4.35" cy="-2" r="31.2" fill="#ffa600"/><circle cx="5.75" cy="-4.9" r="12.7" fill="#ffa454" opacity="0.55"/><circle cx="5.75" cy="-4.9" r="8.6" fill="url(#gH)"/><circle cx="6.45" cy="-6.55" r="53.2" stroke="#7a5e00" stroke-width="6" fill="none"/><rect x="37.6" y="-40" width="30" height="80" fill="#6e6200" transform="rotate(135)"/><g transform="rotate(135)"><path d="M8.42,-15.42L34,-14.79L34,16.21L8.42,17.78Z" fill="#5f6200"/><path d="M34,-14.79L76,-23.29L76,24.71L34,16.21Z" fill="#640000"/></g><g transform="rotate(135)"><rect x="39.4" y="-40" width="30" height="80" fill="#640000"/><rect x="45.2" y="-40" width="30" height="80" fill="#140200"/></g></g><use href="#cs" fill="none" stroke="#1a0300" stroke-width="2.6"/></g>
<g transform="translate(465.05,489.35)"><g clip-path="url(#cc)"><use href="#cs" fill="#c26600"/><circle cx="6.18" cy="-6.05" r="41" fill="#ff5c00"/><circle cx="4.58" cy="-2" r="31.2" fill="#ffa600"/><circle cx="5.98" cy="-4.9" r="12.7" fill="#ffa454" opacity="0.55"/><circle cx="5.98" cy="-4.9" r="8.6" fill="url(#gH)"/><circle cx="6.68" cy="-6.55" r="53.2" stroke="#7a5e00" stroke-width="6" fill="none"/><rect x="37.6" y="-40" width="30" height="80" fill="#6e6200" transform="rotate(135)"/><g transform="rotate(135)"><rect x="39.4" y="-40" width="30" height="80" fill="#640000"/><rect x="45.2" y="-40" width="30" height="80" fill="#140200"/></g></g><use href="#cs" fill="none" stroke="#1a0300" stroke-width="2.6"/></g>
<g transform="translate(551.55,489.35)"><g clip-path="url(#cc)"><use href="#cs" fill="#c26600"/><circle cx="6.4" cy="-6.05" r="41" fill="#ff5c00"/><circle cx="4.8" cy="-2" r="31.2" fill="#ffa600"/><circle cx="6.2" cy="-4.9" r="12.7" fill="#ffa454" opacity="0.55"/><circle cx="6.2" cy="-4.9" r="8.6" fill="url(#gH)"/><circle cx="6.9" cy="-6.55" r="53.2" stroke="#7a5e00" stroke-width="6" fill="none"/><rect x="37.6" y="-40" width="30" height="80" fill="#6e6200" transform="rotate(135)"/><g transform="rotate(135)"><path d="M6.81,-17.02L34,-15.75L34,15.25L6.81,16.18Z" fill="#5f6200"/><path d="M34,-15.75L76,-24.25L76,23.75L34,15.25Z" fill="#640000"/></g><g transform="rotate(135)"><rect x="39.4" y="-40" width="30" height="80" fill="#640000"/><rect x="45.2" y="-40" width="30" height="80" fill="#140200"/></g></g><use href="#cs" fill="none" stroke="#1a0300" stroke-width="2.6"/></g>
<g transform="translate(638.05,489.35)"><g clip-path="url(#cc)"><use href="#cs" fill="#c26600"/><circle cx="6.63" cy="-6.05" r="41" fill="#ff5c00"/><circle cx="5.03" cy="-2" r="31.2" fill="#ffa600"/><circle cx="6.43" cy="-4.9" r="12.7" fill="#ffa454" opacity="0.55"/><circle cx="6.43" cy="-4.9" r="8.6" fill="url(#gH)"/><circle cx="7.13" cy="-6.55" r="53.2" stroke="#7a5e00" stroke-width="6" fill="none"/><rect x="37.6" y="-40" width="30" height="80" fill="#6e6200" transform="rotate(135)"/><g transform="rotate(135)"><rect x="39.4" y="-40" width="30" height="80" fill="#640000"/><rect x="45.2" y="-40" width="30" height="80" fill="#140200"/></g></g><use href="#cs" fill="none" stroke="#1a0300" stroke-width="2.6"/></g>
<g transform="translate(724.55,489.35)"><g clip-path="url(#cc)"><use href="#cs" fill="#c26600"/><circle cx="6.85" cy="-6.05" r="41" fill="#ff5c00"/><circle cx="5.25" cy="-2" r="31.2" fill="#ffa600"/><circle cx="6.65" cy="-4.9" r="12.7" fill="#ffa454" opacity="0.55"/><circle cx="6.65" cy="-4.9" r="8.6" fill="url(#gH)"/><circle cx="7.35" cy="-6.55" r="53.2" stroke="#7a5e00" stroke-width="6" fill="none"/><rect x="37.6" y="-40" width="30" height="80" fill="#6e6200" transform="rotate(135)"/><g transform="rotate(135)"><path d="M5.45,-18.38L34,-16.57L34,14.43L5.45,14.82Z" fill="#5f6200"/><path d="M34,-16.57L76,-25.07L76,22.93L34,14.43Z" fill="#640000"/></g><g transform="rotate(135)"><rect x="39.4" y="-40" width="30" height="80" fill="#640000"/><rect x="45.2" y="-40" width="30" height="80" fill="#140200"/></g></g><use href="#cs" fill="none" stroke="#1a0300" stroke-width="2.6"/></g>
<g transform="translate(811.05,489.35)"><g clip-path="url(#cc)"><use href="#cs" fill="#c26600"/><circle cx="7.08" cy="-6.05" r="41" fill="#ff5c00"/><circle cx="5.48" cy="-2" r="31.2" fill="#ffa600"/><circle cx="6.88" cy="-4.9" r="12.7" fill="#ffa454" opacity="0.55"/><circle cx="6.88" cy="-4.9" r="8.6" fill="url(#gH)"/><circle cx="7.58" cy="-6.55" r="53.2" stroke="#7a5e00" stroke-width="6" fill="none"/><rect x="37.6" y="-40" width="30" height="80" fill="#6e6200" transform="rotate(135)"/><g transform="rotate(135)"><rect x="39.4" y="-40" width="30" height="80" fill="#640000"/><rect x="45.2" y="-40" width="30" height="80" fill="#140200"/></g></g><use href="#cs" fill="none" stroke="#1a0300" stroke-width="2.6"/></g>
<g transform="translate(897.55,489.35)"><g clip-path="url(#cc)"><use href="#cs" fill="#c26600"/><circle cx="7.3" cy="-6.05" r="41" fill="#ff5c00"/><circle cx="5.7" cy="-2" r="31.2" fill="#ffa600"/><circle cx="7.1" cy="-4.9" r="12.7" fill="#ffa454" opacity="0.55"/><circle cx="7.1" cy="-4.9" r="8.6" fill="url(#gH)"/><circle cx="7.8" cy="-6.55" r="53.2" stroke="#7a5e00" stroke-width="6" fill="none"/><rect x="37.6" y="-40" width="30" height="80" fill="#6e6200" transform="rotate(135)"/><g transform="rotate(135)"><path d="M4.25,-19.58L32.83,-17.29L32.83,13.71L4.25,13.62Z" fill="#5f6200"/><path d="M32.83,-17.29L74.83,-25.79L74.83,22.21L32.83,13.71Z" fill="#640000"/></g><g transform="rotate(135)"><rect x="39.4" y="-40" width="30" height="80" fill="#640000"/><rect x="45.2" y="-40" width="30" height="80" fill="#140200"/></g></g><use href="#cs" fill="none" stroke="#1a0300" stroke-width="2.6"/></g>
<g transform="translate(984.05,489.35)"><g clip-path="url(#cc)"><use href="#cs" fill="#c26600"/><circle cx="7.53" cy="-6.05" r="41" fill="#ff5c00"/><circle cx="5.93" cy="-2" r="31.2" fill="#ffa600"/><circle cx="7.33" cy="-4.9" r="12.7" fill="#ffa454" opacity="0.55"/><circle cx="7.33" cy="-4.9" r="8.6" fill="url(#gH)"/><circle cx="8.03" cy="-6.55" r="53.2" stroke="#7a5e00" stroke-width="6" fill="none"/><rect x="37.6" y="-40" width="30" height="80" fill="#6e6200" transform="rotate(135)"/><g transform="rotate(135)"><rect x="39.4" y="-40" width="30" height="80" fill="#640000"/><rect x="45.2" y="-40" width="30" height="80" fill="#140200"/></g></g><use href="#cs" fill="none" stroke="#1a0300" stroke-width="2.6"/></g>
<g transform="translate(1070.55,489.35)"><g clip-path="url(#cc)"><use href="#cs" fill="#c26600"/><circle cx="7.75" cy="-6.05" r="41" fill="#ff5c00"/><circle cx="6.15" cy="-2" r="31.2" fill="#ffa600"/><circle cx="7.55" cy="-4.9" r="12.7" fill="#ffa454" opacity="0.55"/><circle cx="7.55" cy="-4.9" r="8.6" fill="url(#gH)"/><circle cx="8.25" cy="-6.55" r="53.2" stroke="#7a5e00" stroke-width="6" fill="none"/><rect x="37.6" y="-40" width="30" height="80" fill="#6e6200" transform="rotate(135)"/><g transform="rotate(135)"><path d="M3.12,-20.71L31.36,-17.97L31.36,13.03L3.12,12.49Z" fill="#5f6200"/><path d="M31.36,-17.97L73.36,-26.47L73.36,21.53L31.36,13.03Z" fill="#640000"/></g><g transform="rotate(135)"><rect x="39.4" y="-40" width="30" height="80" fill="#640000"/><rect x="45.2" y="-40" width="30" height="80" fill="#140200"/></g></g><use href="#cs" fill="none" stroke="#1a0300" stroke-width="2.6"/></g>
<g transform="translate(1157.05,489.35)"><g clip-path="url(#cc)"><use href="#cs" fill="#c26600"/><circle cx="7.98" cy="-6.05" r="41" fill="#ff5c00"/><circle cx="6.38" cy="-2" r="31.2" fill="#ffa600"/><circle cx="7.78" cy="-4.9" r="12.7" fill="#ffa454" opacity="0.55"/><circle cx="7.78" cy="-4.9" r="8.6" fill="url(#gH)"/><circle cx="8.48" cy="-6.55" r="53.2" stroke="#7a5e00" stroke-width="6" fill="none"/><rect x="37.6" y="-40" width="30" height="80" fill="#6e6200" transform="rotate(135)"/><g transform="rotate(135)"><rect x="39.4" y="-40" width="30" height="80" fill="#640000"/><rect x="45.2" y="-40" width="30" height="80" fill="#140200"/></g></g><use href="#cs" fill="none" stroke="#1a0300" stroke-width="2.6"/></g>
<g transform="translate(1243.55,489.35)"><g clip-path="url(#cc)"><use href="#cs" fill="#c26600"/><circle cx="8.2" cy="-6.05" r="41" fill="#ff5c00"/><circle cx="6.6" cy="-2" r="31.2" fill="#ffa600"/><circle cx="8" cy="-4.9" r="12.7" fill="#ffa454" opacity="0.55"/><circle cx="8" cy="-4.9" r="8.6" fill="url(#gH)"/><circle cx="8.7" cy="-6.55" r="53.2" stroke="#7a5e00" stroke-width="6" fill="none"/><rect x="37.6" y="-40" width="30" height="80" fill="#6e6200" transform="rotate(135)"/><g transform="rotate(135)"><path d="M1.98,-21.85L29.88,-18.65L29.88,12.35L1.98,11.35Z" fill="#5f6200"/><path d="M29.88,-18.65L71.88,-27.15L71.88,20.85L29.88,12.35Z" fill="#640000"/></g><g transform="rotate(135)"><rect x="39.4" y="-40" width="30" height="80" fill="#640000"/><rect x="45.2" y="-40" width="30" height="80" fill="#140200"/></g></g><use href="#cs" fill="none" stroke="#1a0300" stroke-width="2.6"/></g>
<g transform="translate(1330.05,489.35)"><g clip-path="url(#cc)"><use href="#cs" fill="#c26600"/><circle cx="8.43" cy="-6.05" r="41" fill="#ff5c00"/><circle cx="6.83" cy="-2" r="31.2" fill="#ffa600"/><circle cx="8.23" cy="-4.9" r="12.7" fill="#ffa454" opacity="0.55"/><circle cx="8.23" cy="-4.9" r="8.6" fill="url(#gH)"/><circle cx="8.93" cy="-6.55" r="53.2" stroke="#7a5e00" stroke-width="6" fill="none"/><rect x="37.6" y="-40" width="30" height="80" fill="#6e6200" transform="rotate(135)"/><g transform="rotate(135)"><rect x="39.4" y="-40" width="30" height="80" fill="#640000"/><rect x="45.2" y="-40" width="30" height="80" fill="#140200"/></g></g><use href="#cs" fill="none" stroke="#1a0300" stroke-width="2.6"/></g>
<g transform="translate(1416.55,489.35)"><g clip-path="url(#cc)"><use href="#cs" fill="#c26600"/><circle cx="8.65" cy="-6.05" r="41" fill="#ff5c00"/><circle cx="7.05" cy="-2" r="31.2" fill="#ffa600"/><circle cx="8.45" cy="-4.9" r="12.7" fill="#ffa454" opacity="0.55"/><circle cx="8.45" cy="-4.9" r="8.6" fill="url(#gH)"/><circle cx="9.15" cy="-6.55" r="53.2" stroke="#7a5e00" stroke-width="6" fill="none"/><rect x="37.6" y="-40" width="30" height="80" fill="#6e6200" transform="rotate(135)"/><g transform="rotate(135)"><path d="M0.74,-23.09L28.26,-19.4L28.26,11.6L0.74,10.11Z" fill="#5f6200"/><path d="M28.26,-19.4L70.26,-27.9L70.26,20.1L28.26,11.6Z" fill="#640000"/></g><g transform="rotate(135)"><rect x="39.4" y="-40" width="30" height="80" fill="#640000"/><rect x="45.2" y="-40" width="30" height="80" fill="#140200"/></g></g><use href="#cs" fill="none" stroke="#1a0300" stroke-width="2.6"/></g>
<g transform="translate(1503.05,489.35)"><g clip-path="url(#cc)"><use href="#cs" fill="#c26600"/><circle cx="8.88" cy="-6.05" r="41" fill="#ff5c00"/><circle cx="7.28" cy="-2" r="31.2" fill="#ffa600"/><circle cx="8.68" cy="-4.9" r="12.7" fill="#ffa454" opacity="0.55"/><circle cx="8.68" cy="-4.9" r="8.6" fill="url(#gH)"/><circle cx="9.38" cy="-6.55" r="53.2" stroke="#7a5e00" stroke-width="6" fill="none"/><rect x="37.6" y="-40" width="30" height="80" fill="#6e6200" transform="rotate(135)"/><g transform="rotate(135)"><rect x="39.4" y="-40" width="30" height="80" fill="#640000"/><rect x="45.2" y="-40" width="30" height="80" fill="#140200"/></g></g><use href="#cs" fill="none" stroke="#1a0300" stroke-width="2.6"/></g>
<g transform="translate(1589.55,489.35)"><g clip-path="url(#cc)"><use href="#cs" fill="#c26600"/><circle cx="9.1" cy="-6.05" r="41" fill="#ff5c00"/><circle cx="7.5" cy="-2" r="31.2" fill="#ffa600"/><circle cx="8.9" cy="-4.9" r="12.7" fill="#ffa454" opacity="0.55"/><circle cx="8.9" cy="-4.9" r="8.6" fill="url(#gH)"/><circle cx="9.6" cy="-6.55" r="53.2" stroke="#7a5e00" stroke-width="6" fill="none"/><rect x="37.6" y="-40" width="30" height="80" fill="#6e6200" transform="rotate(135)"/><g transform="rotate(135)"><path d="M-0.68,-24.52L26.41,-20.25L26.41,10.75L-0.68,8.68Z" fill="#5f6200"/><path d="M26.41,-20.25L68.41,-28.75L68.41,19.25L26.41,10.75Z" fill="#640000"/></g><g transform="rotate(135)"><rect x="39.4" y="-40" width="30" height="80" fill="#640000"/><rect x="45.2" y="-40" width="30" height="80" fill="#140200"/></g></g><use href="#cs" fill="none" stroke="#1a0300" stroke-width="2.6"/></g>
<g transform="translate(1676.05,489.35)"><g clip-path="url(#cc)"><use href="#cs" fill="#c26600"/><circle cx="9.33" cy="-6.05" r="41" fill="#ff5c00"/><circle cx="7.73" cy="-2" r="31.2" fill="#ffa600"/><circle cx="9.13" cy="-4.9" r="12.7" fill="#ffa454" opacity="0.55"/><circle cx="9.13" cy="-4.9" r="8.6" fill="url(#gH)"/><circle cx="9.83" cy="-6.55" r="53.2" stroke="#7a5e00" stroke-width="6" fill="none"/><rect x="37.6" y="-40" width="30" height="80" fill="#6e6200" transform="rotate(135)"/><g transform="rotate(135)"><rect x="39.4" y="-40" width="30" height="80" fill="#640000"/><rect x="45.2" y="-40" width="30" height="80" fill="#140200"/></g></g><use href="#cs" fill="none" stroke="#1a0300" stroke-width="2.6"/></g>
<g transform="translate(205.55,576.05)"><g clip-path="url(#cc)"><use href="#cs" fill="#c26600"/><circle cx="5.5" cy="-5.53" r="41" fill="#ff5c00"/><circle cx="3.9" cy="-1.48" r="31.2" fill="#ffa600"/><circle cx="5.3" cy="-4.38" r="12.7" fill="#ffa454" opacity="0.55"/><circle cx="5.3" cy="-4.38" r="8.6" fill="url(#gH)"/><circle cx="6" cy="-6.03" r="53.2" stroke="#7a5e00" stroke-width="6" fill="none"/><rect x="37.6" y="-40" width="30" height="80" fill="#6e6200" transform="rotate(135)"/><g transform="rotate(135)"><rect x="39.4" y="-40" width="30" height="80" fill="#640000"/><rect x="45.2" y="-40" width="30" height="80" fill="#140200"/></g></g><use href="#cs" fill="none" stroke="#1a0300" stroke-width="2.6"/></g>
<g transform="translate(292.05,576.05)"><g clip-path="url(#cc)"><use href="#cs" fill="#c26600"/><circle cx="5.73" cy="-5.53" r="41" fill="#ff5c00"/><circle cx="4.13" cy="-1.48" r="31.2" fill="#ffa600"/><circle cx="5.53" cy="-4.38" r="12.7" fill="#ffa454" opacity="0.55"/><circle cx="5.53" cy="-4.38" r="8.6" fill="url(#gH)"/><circle cx="6.23" cy="-6.03" r="53.2" stroke="#7a5e00" stroke-width="6" fill="none"/><rect x="37.6" y="-40" width="30" height="80" fill="#6e6200" transform="rotate(135)"/><g transform="rotate(135)"><path d="M10.05,-15.22L34,-14.67L34,16.33L10.05,17.98Z" fill="#5f6200"/><path d="M34,-14.67L76,-23.17L76,24.83L34,16.33Z" fill="#640000"/></g><g transform="rotate(135)"><rect x="39.4" y="-40" width="30" height="80" fill="#640000"/><rect x="45.2" y="-40" width="30" height="80" fill="#140200"/></g></g><use href="#cs" fill="none" stroke="#1a0300" stroke-width="2.6"/></g>
<g transform="translate(378.55,576.05)"><g clip-path="url(#cc)"><use href="#cs" fill="#c26600"/><circle cx="5.95" cy="-5.53" r="41" fill="#ff5c00"/><circle cx="4.35" cy="-1.48" r="31.2" fill="#ffa600"/><circle cx="5.75" cy="-4.38" r="12.7" fill="#ffa454" opacity="0.55"/><circle cx="5.75" cy="-4.38" r="8.6" fill="url(#gH)"/><circle cx="6.45" cy="-6.03" r="53.2" stroke="#7a5e00" stroke-width="6" fill="none"/><rect x="37.6" y="-40" width="30" height="80" fill="#6e6200" transform="rotate(135)"/><g transform="rotate(135)"><rect x="39.4" y="-40" width="30" height="80" fill="#640000"/><rect x="45.2" y="-40" width="30" height="80" fill="#140200"/></g></g><use href="#cs" fill="none" stroke="#1a0300" stroke-width="2.6"/></g>
<g transform="translate(465.05,576.05)"><g clip-path="url(#cc)"><use href="#cs" fill="#c26600"/><circle cx="6.18" cy="-5.53" r="41" fill="#ff5c00"/><circle cx="4.58" cy="-1.48" r="31.2" fill="#ffa600"/><circle cx="5.98" cy="-4.38" r="12.7" fill="#ffa454" opacity="0.55"/><circle cx="5.98" cy="-4.38" r="8.6" fill="url(#gH)"/><circle cx="6.68" cy="-6.03" r="53.2" stroke="#7a5e00" stroke-width="6" fill="none"/><rect x="37.6" y="-40" width="30" height="80" fill="#6e6200" transform="rotate(135)"/><g transform="rotate(135)"><path d="M8.3,-16.97L34,-15.72L34,15.28L8.3,16.23Z" fill="#5f6200"/><path d="M34,-15.72L76,-24.22L76,23.78L34,15.28Z" fill="#640000"/></g><g transform="rotate(135)"><rect x="39.4" y="-40" width="30" height="80" fill="#640000"/><rect x="45.2" y="-40" width="30" height="80" fill="#140200"/></g></g><use href="#cs" fill="none" stroke="#1a0300" stroke-width="2.6"/></g>
<g transform="translate(551.55,576.05)"><g clip-path="url(#cc)"><use href="#cs" fill="#c26600"/><circle cx="6.4" cy="-5.53" r="41" fill="#ff5c00"/><circle cx="4.8" cy="-1.48" r="31.2" fill="#ffa600"/><circle cx="6.2" cy="-4.38" r="12.7" fill="#ffa454" opacity="0.55"/><circle cx="6.2" cy="-4.38" r="8.6" fill="url(#gH)"/><circle cx="6.9" cy="-6.03" r="53.2" stroke="#7a5e00" stroke-width="6" fill="none"/><rect x="37.6" y="-40" width="30" height="80" fill="#6e6200" transform="rotate(135)"/><g transform="rotate(135)"><rect x="39.4" y="-40" width="30" height="80" fill="#640000"/><rect x="45.2" y="-40" width="30" height="80" fill="#140200"/></g></g><use href="#cs" fill="none" stroke="#1a0300" stroke-width="2.6"/></g>
<g transform="translate(638.05,576.05)"><g clip-path="url(#cc)"><use href="#cs" fill="#c26600"/><circle cx="6.63" cy="-5.53" r="41" fill="#ff5c00"/><circle cx="5.03" cy="-1.48" r="31.2" fill="#ffa600"/><circle cx="6.43" cy="-4.38" r="12.7" fill="#ffa454" opacity="0.55"/><circle cx="6.43" cy="-4.38" r="8.6" fill="url(#gH)"/><circle cx="7.13" cy="-6.03" r="53.2" stroke="#7a5e00" stroke-width="6" fill="none"/><rect x="37.6" y="-40" width="30" height="80" fill="#6e6200" transform="rotate(135)"/><g transform="rotate(135)"><path d="M6.83,-18.45L34,-16.61L34,14.39L6.83,14.75Z" fill="#5f6200"/><path d="M34,-16.61L76,-25.11L76,22.89L34,14.39Z" fill="#640000"/></g><g transform="rotate(135)"><rect x="39.4" y="-40" width="30" height="80" fill="#640000"/><rect x="45.2" y="-40" width="30" height="80" fill="#140200"/></g></g><use href="#cs" fill="none" stroke="#1a0300" stroke-width="2.6"/></g>
<g transform="translate(724.55,576.05)"><g clip-path="url(#cc)"><use href="#cs" fill="#c26600"/><circle cx="6.85" cy="-5.53" r="41" fill="#ff5c00"/><circle cx="5.25" cy="-1.48" r="31.2" fill="#ffa600"/><circle cx="6.65" cy="-4.38" r="12.7" fill="#ffa454" opacity="0.55"/><circle cx="6.65" cy="-4.38" r="8.6" fill="url(#gH)"/><circle cx="7.35" cy="-6.03" r="53.2" stroke="#7a5e00" stroke-width="6" fill="none"/><rect x="37.6" y="-40" width="30" height="80" fill="#6e6200" transform="rotate(135)"/><g transform="rotate(135)"><rect x="39.4" y="-40" width="30" height="80" fill="#640000"/><rect x="45.2" y="-40" width="30" height="80" fill="#140200"/></g></g><use href="#cs" fill="none" stroke="#1a0300" stroke-width="2.6"/></g>
<g transform="translate(811.05,576.05)"><g clip-path="url(#cc)"><use href="#cs" fill="#c26600"/><circle cx="7.08" cy="-5.53" r="41" fill="#ff5c00"/><circle cx="5.48" cy="-1.48" r="31.2" fill="#ffa600"/><circle cx="6.88" cy="-4.38" r="12.7" fill="#ffa454" opacity="0.55"/><circle cx="6.88" cy="-4.38" r="8.6" fill="url(#gH)"/><circle cx="7.58" cy="-6.03" r="53.2" stroke="#7a5e00" stroke-width="6" fill="none"/><rect x="37.6" y="-40" width="30" height="80" fill="#6e6200" transform="rotate(135)"/><g transform="rotate(135)"><path d="M5.56,-19.71L34,-17.37L34,13.63L5.56,13.49Z" fill="#5f6200"/><path d="M34,-17.37L76,-25.87L76,22.13L34,13.63Z" fill="#640000"/></g><g transform="rotate(135)"><rect x="39.4" y="-40" width="30" height="80" fill="#640000"/><rect x="45.2" y="-40" width="30" height="80" fill="#140200"/></g></g><use href="#cs" fill="none" stroke="#1a0300" stroke-width="2.6"/></g>
<g transform="translate(897.55,576.05)"><g clip-path="url(#cc)"><use href="#cs" fill="#c26600"/><circle cx="7.3" cy="-5.53" r="41" fill="#ff5c00"/><circle cx="5.7" cy="-1.48" r="31.2" fill="#ffa600"/><circle cx="7.1" cy="-4.38" r="12.7" fill="#ffa454" opacity="0.55"/><circle cx="7.1" cy="-4.38" r="8.6" fill="url(#gH)"/><circle cx="7.8" cy="-6.03" r="53.2" stroke="#7a5e00" stroke-width="6" fill="none"/><rect x="37.6" y="-40" width="30" height="80" fill="#6e6200" transform="rotate(135)"/><g transform="rotate(135)"><rect x="39.4" y="-40" width="30" height="80" fill="#640000"/><rect x="45.2" y="-40" width="30" height="80" fill="#140200"/></g></g><use href="#cs" fill="none" stroke="#1a0300" stroke-width="2.6"/></g>
<g transform="translate(984.05,576.05)"><g clip-path="url(#cc)"><use href="#cs" fill="#c26600"/><circle cx="7.53" cy="-5.53" r="41" fill="#ff5c00"/><circle cx="5.93" cy="-1.48" r="31.2" fill="#ffa600"/><circle cx="7.33" cy="-4.38" r="12.7" fill="#ffa454" opacity="0.55"/><circle cx="7.33" cy="-4.38" r="8.6" fill="url(#gH)"/><circle cx="8.03" cy="-6.03" r="53.2" stroke="#7a5e00" stroke-width="6" fill="none"/><rect x="37.6" y="-40" width="30" height="80" fill="#6e6200" transform="rotate(135)"/><g transform="rotate(135)"><path d="M4.4,-20.87L33.02,-18.06L33.02,12.94L4.4,12.33Z" fill="#5f6200"/><path d="M33.02,-18.06L75.02,-26.56L75.02,21.44L33.02,12.94Z" fill="#640000"/></g><g transform="rotate(135)"><rect x="39.4" y="-40" width="30" height="80" fill="#640000"/><rect x="45.2" y="-40" width="30" height="80" fill="#140200"/></g></g><use href="#cs" fill="none" stroke="#1a0300" stroke-width="2.6"/></g>
<g transform="translate(1070.55,576.05)"><g clip-path="url(#cc)"><use href="#cs" fill="#c26600"/><circle cx="7.75" cy="-5.53" r="41" fill="#ff5c00"/><circle cx="6.15" cy="-1.48" r="31.2" fill="#ffa600"/><circle cx="7.55" cy="-4.38" r="12.7" fill="#ffa454" opacity="0.55"/><circle cx="7.55" cy="-4.38" r="8.6" fill="url(#gH)"/><circle cx="8.25" cy="-6.03" r="53.2" stroke="#7a5e00" stroke-width="6" fill="none"/><rect x="37.6" y="-40" width="30" height="80" fill="#6e6200" transform="rotate(135)"/><g transform="rotate(135)"><rect x="39.4" y="-40" width="30" height="80" fill="#640000"/><rect x="45.2" y="-40" width="30" height="80" fill="#140200"/></g></g><use href="#cs" fill="none" stroke="#1a0300" stroke-width="2.6"/></g>
<g transform="translate(1157.05,576.05)"><g clip-path="url(#cc)"><use href="#cs" fill="#c26600"/><circle cx="7.98" cy="-5.53" r="41" fill="#ff5c00"/><circle cx="6.38" cy="-1.48" r="31.2" fill="#ffa600"/><circle cx="7.78" cy="-4.38" r="12.7" fill="#ffa454" opacity="0.55"/><circle cx="7.78" cy="-4.38" r="8.6" fill="url(#gH)"/><circle cx="8.48" cy="-6.03" r="53.2" stroke="#7a5e00" stroke-width="6" fill="none"/><rect x="37.6" y="-40" width="30" height="80" fill="#6e6200" transform="rotate(135)"/><g transform="rotate(135)"><path d="M3.28,-21.99L31.56,-18.74L31.56,12.26L3.28,11.21Z" fill="#5f6200"/><path d="M31.56,-18.74L73.56,-27.24L73.56,20.76L31.56,12.26Z" fill="#640000"/></g><g transform="rotate(135)"><rect x="39.4" y="-40" width="30" height="80" fill="#640000"/><rect x="45.2" y="-40" width="30" height="80" fill="#140200"/></g></g><use href="#cs" fill="none" stroke="#1a0300" stroke-width="2.6"/></g>
<g transform="translate(1243.55,576.05)"><g clip-path="url(#cc)"><use href="#cs" fill="#c26600"/><circle cx="8.2" cy="-5.53" r="41" fill="#ff5c00"/><circle cx="6.6" cy="-1.48" r="31.2" fill="#ffa600"/><circle cx="8" cy="-4.38" r="12.7" fill="#ffa454" opacity="0.55"/><circle cx="8" cy="-4.38" r="8.6" fill="url(#gH)"/><circle cx="8.7" cy="-6.03" r="53.2" stroke="#7a5e00" stroke-width="6" fill="none"/><rect x="37.6" y="-40" width="30" height="80" fill="#6e6200" transform="rotate(135)"/><g transform="rotate(135)"><rect x="39.4" y="-40" width="30" height="80" fill="#640000"/><rect x="45.2" y="-40" width="30" height="80" fill="#140200"/></g></g><use href="#cs" fill="none" stroke="#1a0300" stroke-width="2.6"/></g>
<g transform="translate(1330.05,576.05)"><g clip-path="url(#cc)"><use href="#cs" fill="#c26600"/><circle cx="8.43" cy="-5.53" r="41" fill="#ff5c00"/><circle cx="6.83" cy="-1.48" r="31.2" fill="#ffa600"/><circle cx="8.23" cy="-4.38" r="12.7" fill="#ffa454" opacity="0.55"/><circle cx="8.23" cy="-4.38" r="8.6" fill="url(#gH)"/><circle cx="8.93" cy="-6.03" r="53.2" stroke="#7a5e00" stroke-width="6" fill="none"/><rect x="37.6" y="-40" width="30" height="80" fill="#6e6200" transform="rotate(135)"/><g transform="rotate(135)"><path d="M2.1,-23.17L30.03,-19.44L30.03,11.56L2.1,10.03Z" fill="#5f6200"/><path d="M30.03,-19.44L72.03,-27.94L72.03,20.06L30.03,11.56Z" fill="#640000"/></g><g transform="rotate(135)"><rect x="39.4" y="-40" width="30" height="80" fill="#640000"/><rect x="45.2" y="-40" width="30" height="80" fill="#140200"/></g></g><use href="#cs" fill="none" stroke="#1a0300" stroke-width="2.6"/></g>
<g transform="translate(1416.55,576.05)"><g clip-path="url(#cc)"><use href="#cs" fill="#c26600"/><circle cx="8.65" cy="-5.53" r="41" fill="#ff5c00"/><circle cx="7.05" cy="-1.48" r="31.2" fill="#ffa600"/><circle cx="8.45" cy="-4.38" r="12.7" fill="#ffa454" opacity="0.55"/><circle cx="8.45" cy="-4.38" r="8.6" fill="url(#gH)"/><circle cx="9.15" cy="-6.03" r="53.2" stroke="#7a5e00" stroke-width="6" fill="none"/><rect x="37.6" y="-40" width="30" height="80" fill="#6e6200" transform="rotate(135)"/><g transform="rotate(135)"><rect x="39.4" y="-40" width="30" height="80" fill="#640000"/><rect x="45.2" y="-40" width="30" height="80" fill="#140200"/></g></g><use href="#cs" fill="none" stroke="#1a0300" stroke-width="2.6"/></g>
<g transform="translate(1503.05,576.05)"><g clip-path="url(#cc)"><use href="#cs" fill="#c26600"/><circle cx="8.88" cy="-5.53" r="41" fill="#ff5c00"/><circle cx="7.28" cy="-1.48" r="31.2" fill="#ffa600"/><circle cx="8.68" cy="-4.38" r="12.7" fill="#ffa454" opacity="0.55"/><circle cx="8.68" cy="-4.38" r="8.6" fill="url(#gH)"/><circle cx="9.38" cy="-6.03" r="53.2" stroke="#7a5e00" stroke-width="6" fill="none"/><rect x="37.6" y="-40" width="30" height="80" fill="#6e6200" transform="rotate(135)"/><g transform="rotate(135)"><path d="M0.78,-24.5L28.31,-20.24L28.31,10.76L0.78,8.7Z" fill="#5f6200"/><path d="M28.31,-20.24L70.31,-28.74L70.31,19.26L28.31,10.76Z" fill="#640000"/></g><g transform="rotate(135)"><rect x="39.4" y="-40" width="30" height="80" fill="#640000"/><rect x="45.2" y="-40" width="30" height="80" fill="#140200"/></g></g><use href="#cs" fill="none" stroke="#1a0300" stroke-width="2.6"/></g>
<g transform="translate(1589.55,576.05)"><g clip-path="url(#cc)"><use href="#cs" fill="#c26600"/><circle cx="9.1" cy="-5.53" r="41" fill="#ff5c00"/><circle cx="7.5" cy="-1.48" r="31.2" fill="#ffa600"/><circle cx="8.9" cy="-4.38" r="12.7" fill="#ffa454" opacity="0.55"/><circle cx="8.9" cy="-4.38" r="8.6" fill="url(#gH)"/><circle cx="9.6" cy="-6.03" r="53.2" stroke="#7a5e00" stroke-width="6" fill="none"/><rect x="37.6" y="-40" width="30" height="80" fill="#6e6200" transform="rotate(135)"/><g transform="rotate(135)"><rect x="39.4" y="-40" width="30" height="80" fill="#640000"/><rect x="45.2" y="-40" width="30" height="80" fill="#140200"/></g></g><use href="#cs" fill="none" stroke="#1a0300" stroke-width="2.6"/></g>
<g transform="translate(1676.05,576.05)"><g clip-path="url(#cc)"><use href="#cs" fill="#c26600"/><circle cx="9.33" cy="-5.53" r="41" fill="#ff5c00"/><circle cx="7.73" cy="-1.48" r="31.2" fill="#ffa600"/><circle cx="9.13" cy="-4.38" r="12.7" fill="#ffa454" opacity="0.55"/><circle cx="9.13" cy="-4.38" r="8.6" fill="url(#gH)"/><circle cx="9.83" cy="-6.03" r="53.2" stroke="#7a5e00" stroke-width="6" fill="none"/><rect x="37.6" y="-40" width="30" height="80" fill="#6e6200" transform="rotate(135)"/><g transform="rotate(135)"><path d="M-0.77,-26.04L26.29,-21.17L26.29,9.83L-0.77,7.16Z" fill="#5f6200"/><path d="M26.29,-21.17L68.29,-29.67L68.29,18.33L26.29,9.83Z" fill="#640000"/></g><g transform="rotate(135)"><rect x="39.4" y="-40" width="30" height="80" fill="#640000"/><rect x="45.2" y="-40" width="30" height="80" fill="#140200"/></g></g><use href="#cs" fill="none" stroke="#1a0300" stroke-width="2.6"/></g>
<g transform="translate(205.55,662.75)"><g clip-path="url(#cc)"><use href="#cs" fill="#c26600"/><circle cx="5.5" cy="-5.01" r="41" fill="#ff5c00"/><circle cx="3.9" cy="-0.96" r="31.2" fill="#ffa600"/><circle cx="5.3" cy="-3.86" r="12.7" fill="#ffa454" opacity="0.55"/><circle cx="5.3" cy="-3.86" r="8.6" fill="url(#gH)"/><circle cx="6" cy="-5.51" r="53.2" stroke="#7a5e00" stroke-width="6" fill="none"/><rect x="37.6" y="-40" width="30" height="80" fill="#6e6200" transform="rotate(135)"/><g transform="rotate(135)"><path d="M11.78,-14.92L34,-14.49L34,16.51L11.78,18.28Z" fill="#5f6200"/><path d="M34,-14.49L76,-22.99L76,25.01L34,16.51Z" fill="#640000"/></g><g transform="rotate(135)"><rect x="39.4" y="-40" width="30" height="80" fill="#640000"/><rect x="45.2" y="-40" width="30" height="80" fill="#140200"/></g></g><use href="#cs" fill="none" stroke="#1a0300" stroke-width="2.6"/></g>
<g transform="translate(292.05,662.75)"><g clip-path="url(#cc)"><use href="#cs" fill="#c26600"/><circle cx="5.73" cy="-5.01" r="41" fill="#ff5c00"/><circle cx="4.13" cy="-0.96" r="31.2" fill="#ffa600"/><circle cx="5.53" cy="-3.86" r="12.7" fill="#ffa454" opacity="0.55"/><circle cx="5.53" cy="-3.86" r="8.6" fill="url(#gH)"/><circle cx="6.23" cy="-5.51" r="53.2" stroke="#7a5e00" stroke-width="6" fill="none"/><rect x="37.6" y="-40" width="30" height="80" fill="#6e6200" transform="rotate(135)"/><g transform="rotate(135)"><rect x="39.4" y="-40" width="30" height="80" fill="#640000"/><rect x="45.2" y="-40" width="30" height="80" fill="#140200"/></g></g><use href="#cs" fill="none" stroke="#1a0300" stroke-width="2.6"/></g>
<g transform="translate(378.55,662.75)"><g clip-path="url(#cc)"><use href="#cs" fill="#c26600"/><circle cx="5.95" cy="-5.01" r="41" fill="#ff5c00"/><circle cx="4.35" cy="-0.96" r="31.2" fill="#ffa600"/><circle cx="5.75" cy="-3.86" r="12.7" fill="#ffa454" opacity="0.55"/><circle cx="5.75" cy="-3.86" r="8.6" fill="url(#gH)"/><circle cx="6.45" cy="-5.51" r="53.2" stroke="#7a5e00" stroke-width="6" fill="none"/><rect x="37.6" y="-40" width="30" height="80" fill="#6e6200" transform="rotate(135)"/><g transform="rotate(135)"><path d="M9.85,-16.86L34,-15.65L34,15.35L9.85,16.34Z" fill="#5f6200"/><path d="M34,-15.65L76,-24.15L76,23.85L34,15.35Z" fill="#640000"/></g><g transform="rotate(135)"><rect x="39.4" y="-40" width="30" height="80" fill="#640000"/><rect x="45.2" y="-40" width="30" height="80" fill="#140200"/></g></g><use href="#cs" fill="none" stroke="#1a0300" stroke-width="2.6"/></g>
<g transform="translate(465.05,662.75)"><g clip-path="url(#cc)"><use href="#cs" fill="#c26600"/><circle cx="6.18" cy="-5.01" r="41" fill="#ff5c00"/><circle cx="4.58" cy="-0.96" r="31.2" fill="#ffa600"/><circle cx="5.98" cy="-3.86" r="12.7" fill="#ffa454" opacity="0.55"/><circle cx="5.98" cy="-3.86" r="8.6" fill="url(#gH)"/><circle cx="6.68" cy="-5.51" r="53.2" stroke="#7a5e00" stroke-width="6" fill="none"/><rect x="37.6" y="-40" width="30" height="80" fill="#6e6200" transform="rotate(135)"/><g transform="rotate(135)"><rect x="39.4" y="-40" width="30" height="80" fill="#640000"/><rect x="45.2" y="-40" width="30" height="80" fill="#140200"/></g></g><use href="#cs" fill="none" stroke="#1a0300" stroke-width="2.6"/></g>
<g transform="translate(551.55,662.75)"><g clip-path="url(#cc)"><use href="#cs" fill="#c26600"/><circle cx="6.4" cy="-5.01" r="41" fill="#ff5c00"/><circle cx="4.8" cy="-0.96" r="31.2" fill="#ffa600"/><circle cx="6.2" cy="-3.86" r="12.7" fill="#ffa454" opacity="0.55"/><circle cx="6.2" cy="-3.86" r="8.6" fill="url(#gH)"/><circle cx="6.9" cy="-5.51" r="53.2" stroke="#7a5e00" stroke-width="6" fill="none"/><rect x="37.6" y="-40" width="30" height="80" fill="#6e6200" transform="rotate(135)"/><g transform="rotate(135)"><path d="M8.25,-18.46L34,-16.61L34,14.39L8.25,14.74Z" fill="#5f6200"/><path d="M34,-16.61L76,-25.11L76,22.89L34,14.39Z" fill="#640000"/></g><g transform="rotate(135)"><rect x="39.4" y="-40" width="30" height="80" fill="#640000"/><rect x="45.2" y="-40" width="30" height="80" fill="#140200"/></g></g><use href="#cs" fill="none" stroke="#1a0300" stroke-width="2.6"/></g>
<g transform="translate(638.05,662.75)"><g clip-path="url(#cc)"><use href="#cs" fill="#c26600"/><circle cx="6.63" cy="-5.01" r="41" fill="#ff5c00"/><circle cx="5.03" cy="-0.96" r="31.2" fill="#ffa600"/><circle cx="6.43" cy="-3.86" r="12.7" fill="#ffa454" opacity="0.55"/><circle cx="6.43" cy="-3.86" r="8.6" fill="url(#gH)"/><circle cx="7.13" cy="-5.51" r="53.2" stroke="#7a5e00" stroke-width="6" fill="none"/><rect x="37.6" y="-40" width="30" height="80" fill="#6e6200" transform="rotate(135)"/><g transform="rotate(135)"><rect x="39.4" y="-40" width="30" height="80" fill="#640000"/><rect x="45.2" y="-40" width="30" height="80" fill="#140200"/></g></g><use href="#cs" fill="none" stroke="#1a0300" stroke-width="2.6"/></g>
<g transform="translate(724.55,662.75)"><g clip-path="url(#cc)"><use href="#cs" fill="#c26600"/><circle cx="6.85" cy="-5.01" r="41" fill="#ff5c00"/><circle cx="5.25" cy="-0.96" r="31.2" fill="#ffa600"/><circle cx="6.65" cy="-3.86" r="12.7" fill="#ffa454" opacity="0.55"/><circle cx="6.65" cy="-3.86" r="8.6" fill="url(#gH)"/><circle cx="7.35" cy="-5.51" r="53.2" stroke="#7a5e00" stroke-width="6" fill="none"/><rect x="37.6" y="-40" width="30" height="80" fill="#6e6200" transform="rotate(135)"/><g transform="rotate(135)"><path d="M6.89,-19.82L34,-17.43L34,13.57L6.89,13.38Z" fill="#5f6200"/><path d="M34,-17.43L76,-25.93L76,22.07L34,13.57Z" fill="#640000"/></g><g transform="rotate(135)"><rect x="39.4" y="-40" width="30" height="80" fill="#640000"/><rect x="45.2" y="-40" width="30" height="80" fill="#140200"/></g></g><use href="#cs" fill="none" stroke="#1a0300" stroke-width="2.6"/></g>
<g transform="translate(811.05,662.75)"><g clip-path="url(#cc)"><use href="#cs" fill="#c26600"/><circle cx="7.08" cy="-5.01" r="41" fill="#ff5c00"/><circle cx="5.48" cy="-0.96" r="31.2" fill="#ffa600"/><circle cx="6.88" cy="-3.86" r="12.7" fill="#ffa454" opacity="0.55"/><circle cx="6.88" cy="-3.86" r="8.6" fill="url(#gH)"/><circle cx="7.58" cy="-5.51" r="53.2" stroke="#7a5e00" stroke-width="6" fill="none"/><rect x="37.6" y="-40" width="30" height="80" fill="#6e6200" transform="rotate(135)"/><g transform="rotate(135)"><rect x="39.4" y="-40" width="30" height="80" fill="#640000"/><rect x="45.2" y="-40" width="30" height="80" fill="#140200"/></g></g><use href="#cs" fill="none" stroke="#1a0300" stroke-width="2.6"/></g>
<g transform="translate(897.55,662.75)"><g clip-path="url(#cc)"><use href="#cs" fill="#c26600"/><circle cx="7.3" cy="-5.01" r="41" fill="#ff5c00"/><circle cx="5.7" cy="-0.96" r="31.2" fill="#ffa600"/><circle cx="7.1" cy="-3.86" r="12.7" fill="#ffa454" opacity="0.55"/><circle cx="7.1" cy="-3.86" r="8.6" fill="url(#gH)"/><circle cx="7.8" cy="-5.51" r="53.2" stroke="#7a5e00" stroke-width="6" fill="none"/><rect x="37.6" y="-40" width="30" height="80" fill="#6e6200" transform="rotate(135)"/><g transform="rotate(135)"><path d="M5.69,-21.02L34,-18.15L34,12.85L5.69,12.18Z" fill="#5f6200"/><path d="M34,-18.15L76,-26.65L76,21.35L34,12.85Z" fill="#640000"/></g><g transform="rotate(135)"><rect x="39.4" y="-40" width="30" height="80" fill="#640000"/><rect x="45.2" y="-40" width="30" height="80" fill="#140200"/></g></g><use href="#cs" fill="none" stroke="#1a0300" stroke-width="2.6"/></g>
<g transform="translate(984.05,662.75)"><g clip-path="url(#cc)"><use href="#cs" fill="#c26600"/><circle cx="7.53" cy="-5.01" r="41" fill="#ff5c00"/><circle cx="5.93" cy="-0.96" r="31.2" fill="#ffa600"/><circle cx="7.33" cy="-3.86" r="12.7" fill="#ffa454" opacity="0.55"/><circle cx="7.33" cy="-3.86" r="8.6" fill="url(#gH)"/><circle cx="8.03" cy="-5.51" r="53.2" stroke="#7a5e00" stroke-width="6" fill="none"/><rect x="37.6" y="-40" width="30" height="80" fill="#6e6200" transform="rotate(135)"/><g transform="rotate(135)"><rect x="39.4" y="-40" width="30" height="80" fill="#640000"/><rect x="45.2" y="-40" width="30" height="80" fill="#140200"/></g></g><use href="#cs" fill="none" stroke="#1a0300" stroke-width="2.6"/></g>
<g transform="translate(1070.55,662.75)"><g clip-path="url(#cc)"><use href="#cs" fill="#c26600"/><circle cx="7.75" cy="-5.01" r="41" fill="#ff5c00"/><circle cx="6.15" cy="-0.96" r="31.2" fill="#ffa600"/><circle cx="7.55" cy="-3.86" r="12.7" fill="#ffa454" opacity="0.55"/><circle cx="7.55" cy="-3.86" r="8.6" fill="url(#gH)"/><circle cx="8.25" cy="-5.51" r="53.2" stroke="#7a5e00" stroke-width="6" fill="none"/><rect x="37.6" y="-40" width="30" height="80" fill="#6e6200" transform="rotate(135)"/><g transform="rotate(135)"><path d="M4.56,-22.15L33.23,-18.83L33.23,12.17L4.56,11.05Z" fill="#5f6200"/><path d="M33.23,-18.83L75.23,-27.33L75.23,20.67L33.23,12.17Z" fill="#640000"/></g><g transform="rotate(135)"><rect x="39.4" y="-40" width="30" height="80" fill="#640000"/><rect x="45.2" y="-40" width="30" height="80" fill="#140200"/></g></g><use href="#cs" fill="none" stroke="#1a0300" stroke-width="2.6"/></g>
<g transform="translate(1157.05,662.75)"><g clip-path="url(#cc)"><use href="#cs" fill="#c26600"/><circle cx="7.98" cy="-5.01" r="41" fill="#ff5c00"/><circle cx="6.38" cy="-0.96" r="31.2" fill="#ffa600"/><circle cx="7.78" cy="-3.86" r="12.7" fill="#ffa454" opacity="0.55"/><circle cx="7.78" cy="-3.86" r="8.6" fill="url(#gH)"/><circle cx="8.48" cy="-5.51" r="53.2" stroke="#7a5e00" stroke-width="6" fill="none"/><rect x="37.6" y="-40" width="30" height="80" fill="#6e6200" transform="rotate(135)"/><g transform="rotate(135)"><rect x="39.4" y="-40" width="30" height="80" fill="#640000"/><rect x="45.2" y="-40" width="30" height="80" fill="#140200"/></g></g><use href="#cs" fill="none" stroke="#1a0300" stroke-width="2.6"/></g>
<g transform="translate(1243.55,662.75)"><g clip-path="url(#cc)"><use href="#cs" fill="#c26600"/><circle cx="8.2" cy="-5.01" r="41" fill="#ff5c00"/><circle cx="6.6" cy="-0.96" r="31.2" fill="#ffa600"/><circle cx="8" cy="-3.86" r="12.7" fill="#ffa454" opacity="0.55"/><circle cx="8" cy="-3.86" r="8.6" fill="url(#gH)"/><circle cx="8.7" cy="-5.51" r="53.2" stroke="#7a5e00" stroke-width="6" fill="none"/><rect x="37.6" y="-40" width="30" height="80" fill="#6e6200" transform="rotate(135)"/><g transform="rotate(135)"><path d="M3.42,-23.29L31.74,-19.51L31.74,11.49L3.42,9.91Z" fill="#5f6200"/><path d="M31.74,-19.51L73.74,-28.01L73.74,19.99L31.74,11.49Z" fill="#640000"/></g><g transform="rotate(135)"><rect x="39.4" y="-40" width="30" height="80" fill="#640000"/><rect x="45.2" y="-40" width="30" height="80" fill="#140200"/></g></g><use href="#cs" fill="none" stroke="#1a0300" stroke-width="2.6"/></g>
<g transform="translate(1330.05,662.75)"><g clip-path="url(#cc)"><use href="#cs" fill="#c26600"/><circle cx="8.43" cy="-5.01" r="41" fill="#ff5c00"/><circle cx="6.83" cy="-0.96" r="31.2" fill="#ffa600"/><circle cx="8.23" cy="-3.86" r="12.7" fill="#ffa454" opacity="0.55"/><circle cx="8.23" cy="-3.86" r="8.6" fill="url(#gH)"/><circle cx="8.93" cy="-5.51" r="53.2" stroke="#7a5e00" stroke-width="6" fill="none"/><rect x="37.6" y="-40" width="30" height="80" fill="#6e6200" transform="rotate(135)"/><g transform="rotate(135)"><rect x="39.4" y="-40" width="30" height="80" fill="#640000"/><rect x="45.2" y="-40" width="30" height="80" fill="#140200"/></g></g><use href="#cs" fill="none" stroke="#1a0300" stroke-width="2.6"/></g>
<g transform="translate(1416.55,662.75)"><g clip-path="url(#cc)"><use href="#cs" fill="#c26600"/><circle cx="8.65" cy="-5.01" r="41" fill="#ff5c00"/><circle cx="7.05" cy="-0.96" r="31.2" fill="#ffa600"/><circle cx="8.45" cy="-3.86" r="12.7" fill="#ffa454" opacity="0.55"/><circle cx="8.45" cy="-3.86" r="8.6" fill="url(#gH)"/><circle cx="9.15" cy="-5.51" r="53.2" stroke="#7a5e00" stroke-width="6" fill="none"/><rect x="37.6" y="-40" width="30" height="80" fill="#6e6200" transform="rotate(135)"/><g transform="rotate(135)"><path d="M2.18,-24.53L30.13,-20.26L30.13,10.74L2.18,8.67Z" fill="#5f6200"/><path d="M30.13,-20.26L72.13,-28.76L72.13,19.24L30.13,10.74Z" fill="#640000"/></g><g transform="rotate(135)"><rect x="39.4" y="-40" width="30" height="80" fill="#640000"/><rect x="45.2" y="-40" width="30" height="80" fill="#140200"/></g></g><use href="#cs" fill="none" stroke="#1a0300" stroke-width="2.6"/></g>
<g transform="translate(1503.05,662.75)"><g clip-path="url(#cc)"><use href="#cs" fill="#c26600"/><circle cx="8.88" cy="-5.01" r="41" fill="#ff5c00"/><circle cx="7.28" cy="-0.96" r="31.2" fill="#ffa600"/><circle cx="8.68" cy="-3.86" r="12.7" fill="#ffa454" opacity="0.55"/><circle cx="8.68" cy="-3.86" r="8.6" fill="url(#gH)"/><circle cx="9.38" cy="-5.51" r="53.2" stroke="#7a5e00" stroke-width="6" fill="none"/><rect x="37.6" y="-40" width="30" height="80" fill="#6e6200" transform="rotate(135)"/><g transform="rotate(135)"><rect x="39.4" y="-40" width="30" height="80" fill="#640000"/><rect x="45.2" y="-40" width="30" height="80" fill="#140200"/></g></g><use href="#cs" fill="none" stroke="#1a0300" stroke-width="2.6"/></g>
<g transform="translate(1589.55,662.75)"><g clip-path="url(#cc)"><use href="#cs" fill="#c26600"/><circle cx="9.1" cy="-5.01" r="41" fill="#ff5c00"/><circle cx="7.5" cy="-0.96" r="31.2" fill="#ffa600"/><circle cx="8.9" cy="-3.86" r="12.7" fill="#ffa454" opacity="0.55"/><circle cx="8.9" cy="-3.86" r="8.6" fill="url(#gH)"/><circle cx="9.6" cy="-5.51" r="53.2" stroke="#7a5e00" stroke-width="6" fill="none"/><rect x="37.6" y="-40" width="30" height="80" fill="#6e6200" transform="rotate(135)"/><g transform="rotate(135)"><path d="M0.75,-25.95L28.28,-21.11L28.28,9.89L0.75,7.25Z" fill="#5f6200"/><path d="M28.28,-21.11L70.28,-29.61L70.28,18.39L28.28,9.89Z" fill="#640000"/></g><g transform="rotate(135)"><rect x="39.4" y="-40" width="30" height="80" fill="#640000"/><rect x="45.2" y="-40" width="30" height="80" fill="#140200"/></g></g><use href="#cs" fill="none" stroke="#1a0300" stroke-width="2.6"/></g>
<g transform="translate(1676.05,662.75)"><g clip-path="url(#cc)"><use href="#cs" fill="#c26600"/><circle cx="9.33" cy="-5.01" r="41" fill="#ff5c00"/><circle cx="7.73" cy="-0.96" r="31.2" fill="#ffa600"/><circle cx="9.13" cy="-3.86" r="12.7" fill="#ffa454" opacity="0.55"/><circle cx="9.13" cy="-3.86" r="8.6" fill="url(#gH)"/><circle cx="9.83" cy="-5.51" r="53.2" stroke="#7a5e00" stroke-width="6" fill="none"/><rect x="37.6" y="-40" width="30" height="80" fill="#6e6200" transform="rotate(135)"/><g transform="rotate(135)"><rect x="39.4" y="-40" width="30" height="80" fill="#640000"/><rect x="45.2" y="-40" width="30" height="80" fill="#140200"/></g></g><use href="#cs" fill="none" stroke="#1a0300" stroke-width="2.6"/></g>
<g transform="translate(205.55,749.45)"><g clip-path="url(#cc)"><use href="#cs" fill="#c26600"/><circle cx="5.5" cy="-4.49" r="41" fill="#ff5c00"/><circle cx="3.9" cy="-0.44" r="31.2" fill="#ffa600"/><circle cx="5.3" cy="-3.34" r="12.7" fill="#ffa454" opacity="0.55"/><circle cx="5.3" cy="-3.34" r="8.6" fill="url(#gH)"/><circle cx="6" cy="-4.99" r="53.2" stroke="#7a5e00" stroke-width="6" fill="none"/><rect x="37.6" y="-40" width="30" height="80" fill="#6e6200" transform="rotate(135)"/><g transform="rotate(135)"><rect x="39.4" y="-40" width="30" height="80" fill="#640000"/><rect x="45.2" y="-40" width="30" height="80" fill="#140200"/></g></g><use href="#cs" fill="none" stroke="#1a0300" stroke-width="2.6"/></g>
<g transform="translate(292.05,749.45)"><g clip-path="url(#cc)"><use href="#cs" fill="#c26600"/><circle cx="5.73" cy="-4.49" r="41" fill="#ff5c00"/><circle cx="4.13" cy="-0.44" r="31.2" fill="#ffa600"/><circle cx="5.53" cy="-3.34" r="12.7" fill="#ffa454" opacity="0.55"/><circle cx="5.53" cy="-3.34" r="8.6" fill="url(#gH)"/><circle cx="6.23" cy="-4.99" r="53.2" stroke="#7a5e00" stroke-width="6" fill="none"/><rect x="37.6" y="-40" width="30" height="80" fill="#6e6200" transform="rotate(135)"/><g transform="rotate(135)"><path d="M11.49,-16.65L34,-15.53L34,15.47L11.49,16.55Z" fill="#5f6200"/><path d="M34,-15.53L76,-24.03L76,23.97L34,15.47Z" fill="#640000"/></g><g transform="rotate(135)"><rect x="39.4" y="-40" width="30" height="80" fill="#640000"/><rect x="45.2" y="-40" width="30" height="80" fill="#140200"/></g></g><use href="#cs" fill="none" stroke="#1a0300" stroke-width="2.6"/></g>
<g transform="translate(378.55,749.45)"><g clip-path="url(#cc)"><use href="#cs" fill="#c26600"/><circle cx="5.95" cy="-4.49" r="41" fill="#ff5c00"/><circle cx="4.35" cy="-0.44" r="31.2" fill="#ffa600"/><circle cx="5.75" cy="-3.34" r="12.7" fill="#ffa454" opacity="0.55"/><circle cx="5.75" cy="-3.34" r="8.6" fill="url(#gH)"/><circle cx="6.45" cy="-4.99" r="53.2" stroke="#7a5e00" stroke-width="6" fill="none"/><rect x="37.6" y="-40" width="30" height="80" fill="#6e6200" transform="rotate(135)"/><g transform="rotate(135)"><rect x="39.4" y="-40" width="30" height="80" fill="#640000"/><rect x="45.2" y="-40" width="30" height="80" fill="#140200"/></g></g><use href="#cs" fill="none" stroke="#1a0300" stroke-width="2.6"/></g>
<g transform="translate(465.05,749.45)"><g clip-path="url(#cc)"><use href="#cs" fill="#c26600"/><circle cx="6.18" cy="-4.49" r="41" fill="#ff5c00"/><circle cx="4.58" cy="-0.44" r="31.2" fill="#ffa600"/><circle cx="5.98" cy="-3.34" r="12.7" fill="#ffa454" opacity="0.55"/><circle cx="5.98" cy="-3.34" r="8.6" fill="url(#gH)"/><circle cx="6.68" cy="-4.99" r="53.2" stroke="#7a5e00" stroke-width="6" fill="none"/><rect x="37.6" y="-40" width="30" height="80" fill="#6e6200" transform="rotate(135)"/><g transform="rotate(135)"><path d="M9.73,-18.41L34,-16.59L34,14.41L9.73,14.79Z" fill="#5f6200"/><path d="M34,-16.59L76,-25.09L76,22.91L34,14.41Z" fill="#640000"/></g><g transform="rotate(135)"><rect x="39.4" y="-40" width="30" height="80" fill="#640000"/><rect x="45.2" y="-40" width="30" height="80" fill="#140200"/></g></g><use href="#cs" fill="none" stroke="#1a0300" stroke-width="2.6"/></g>
<g transform="translate(551.55,749.45)"><g clip-path="url(#cc)"><use href="#cs" fill="#c26600"/><circle cx="6.4" cy="-4.49" r="41" fill="#ff5c00"/><circle cx="4.8" cy="-0.44" r="31.2" fill="#ffa600"/><circle cx="6.2" cy="-3.34" r="12.7" fill="#ffa454" opacity="0.55"/><circle cx="6.2" cy="-3.34" r="8.6" fill="url(#gH)"/><circle cx="6.9" cy="-4.99" r="53.2" stroke="#7a5e00" stroke-width="6" fill="none"/><rect x="37.6" y="-40" width="30" height="80" fill="#6e6200" transform="rotate(135)"/><g transform="rotate(135)"><rect x="39.4" y="-40" width="30" height="80" fill="#640000"/><rect x="45.2" y="-40" width="30" height="80" fill="#140200"/></g></g><use href="#cs" fill="none" stroke="#1a0300" stroke-width="2.6"/></g>
<g transform="translate(638.05,749.45)"><g clip-path="url(#cc)"><use href="#cs" fill="#c26600"/><circle cx="6.63" cy="-4.49" r="41" fill="#ff5c00"/><circle cx="5.03" cy="-0.44" r="31.2" fill="#ffa600"/><circle cx="6.43" cy="-3.34" r="12.7" fill="#ffa454" opacity="0.55"/><circle cx="6.43" cy="-3.34" r="8.6" fill="url(#gH)"/><circle cx="7.13" cy="-4.99" r="53.2" stroke="#7a5e00" stroke-width="6" fill="none"/><rect x="37.6" y="-40" width="30" height="80" fill="#6e6200" transform="rotate(135)"/><g transform="rotate(135)"><path d="M8.26,-19.88L34,-17.47L34,13.53L8.26,13.32Z" fill="#5f6200"/><path d="M34,-17.47L76,-25.97L76,22.03L34,13.53Z" fill="#640000"/></g><g transform="rotate(135)"><rect x="39.4" y="-40" width="30" height="80" fill="#640000"/><rect x="45.2" y="-40" width="30" height="80" fill="#140200"/></g></g><use href="#cs" fill="none" stroke="#1a0300" stroke-width="2.6"/></g>
<g transform="translate(724.55,749.45)"><g clip-path="url(#cc)"><use href="#cs" fill="#c26600"/><circle cx="6.85" cy="-4.49" r="41" fill="#ff5c00"/><circle cx="5.25" cy="-0.44" r="31.2" fill="#ffa600"/><circle cx="6.65" cy="-3.34" r="12.7" fill="#ffa454" opacity="0.55"/><circle cx="6.65" cy="-3.34" r="8.6" fill="url(#gH)"/><circle cx="7.35" cy="-4.99" r="53.2" stroke="#7a5e00" stroke-width="6" fill="none"/><rect x="37.6" y="-40" width="30" height="80" fill="#6e6200" transform="rotate(135)"/><g transform="rotate(135)"><rect x="39.4" y="-40" width="30" height="80" fill="#640000"/><rect x="45.2" y="-40" width="30" height="80" fill="#140200"/></g></g><use href="#cs" fill="none" stroke="#1a0300" stroke-width="2.6"/></g>
<g transform="translate(811.05,749.45)"><g clip-path="url(#cc)"><use href="#cs" fill="#c26600"/><circle cx="7.08" cy="-4.49" r="41" fill="#ff5c00"/><circle cx="5.48" cy="-0.44" r="31.2" fill="#ffa600"/><circle cx="6.88" cy="-3.34" r="12.7" fill="#ffa454" opacity="0.55"/><circle cx="6.88" cy="-3.34" r="8.6" fill="url(#gH)"/><circle cx="7.58" cy="-4.99" r="53.2" stroke="#7a5e00" stroke-width="6" fill="none"/><rect x="37.6" y="-40" width="30" height="80" fill="#6e6200" transform="rotate(135)"/><g transform="rotate(135)"><path d="M6.99,-21.15L34,-18.23L34,12.77L6.99,12.05Z" fill="#5f6200"/><path d="M34,-18.23L76,-26.73L76,21.27L34,12.77Z" fill="#640000"/></g><g transform="rotate(135)"><rect x="39.4" y="-40" width="30" height="80" fill="#640000"/><rect x="45.2" y="-40" width="30" height="80" fill="#140200"/></g></g><use href="#cs" fill="none" stroke="#1a0300" stroke-width="2.6"/></g>
<g transform="translate(897.55,749.45)"><g clip-path="url(#cc)"><use href="#cs" fill="#c26600"/><circle cx="7.3" cy="-4.49" r="41" fill="#ff5c00"/><circle cx="5.7" cy="-0.44" r="31.2" fill="#ffa600"/><circle cx="7.1" cy="-3.34" r="12.7" fill="#ffa454" opacity="0.55"/><circle cx="7.1" cy="-3.34" r="8.6" fill="url(#gH)"/><circle cx="7.8" cy="-4.99" r="53.2" stroke="#7a5e00" stroke-width="6" fill="none"/><rect x="37.6" y="-40" width="30" height="80" fill="#6e6200" transform="rotate(135)"/><g transform="rotate(135)"><rect x="39.4" y="-40" width="30" height="80" fill="#640000"/><rect x="45.2" y="-40" width="30" height="80" fill="#140200"/></g></g><use href="#cs" fill="none" stroke="#1a0300" stroke-width="2.6"/></g>
<g transform="translate(984.05,749.45)"><g clip-path="url(#cc)"><use href="#cs" fill="#c26600"/><circle cx="7.53" cy="-4.49" r="41" fill="#ff5c00"/><circle cx="5.93" cy="-0.44" r="31.2" fill="#ffa600"/><circle cx="7.33" cy="-3.34" r="12.7" fill="#ffa454" opacity="0.55"/><circle cx="7.33" cy="-3.34" r="8.6" fill="url(#gH)"/><circle cx="8.03" cy="-4.99" r="53.2" stroke="#7a5e00" stroke-width="6" fill="none"/><rect x="37.6" y="-40" width="30" height="80" fill="#6e6200" transform="rotate(135)"/><g transform="rotate(135)"><path d="M5.84,-22.3L34,-18.92L34,12.08L5.84,10.9Z" fill="#5f6200"/><path d="M34,-18.92L76,-27.42L76,20.58L34,12.08Z" fill="#640000"/></g><g transform="rotate(135)"><rect x="39.4" y="-40" width="30" height="80" fill="#640000"/><rect x="45.2" y="-40" width="30" height="80" fill="#140200"/></g></g><use href="#cs" fill="none" stroke="#1a0300" stroke-width="2.6"/></g>
<g transform="translate(1070.55,749.45)"><g clip-path="url(#cc)"><use href="#cs" fill="#c26600"/><circle cx="7.75" cy="-4.49" r="41" fill="#ff5c00"/><circle cx="6.15" cy="-0.44" r="31.2" fill="#ffa600"/><circle cx="7.55" cy="-3.34" r="12.7" fill="#ffa454" opacity="0.55"/><circle cx="7.55" cy="-3.34" r="8.6" fill="url(#gH)"/><circle cx="8.25" cy="-4.99" r="53.2" stroke="#7a5e00" stroke-width="6" fill="none"/><rect x="37.6" y="-40" width="30" height="80" fill="#6e6200" transform="rotate(135)"/><g transform="rotate(135)"><rect x="39.4" y="-40" width="30" height="80" fill="#640000"/><rect x="45.2" y="-40" width="30" height="80" fill="#140200"/></g></g><use href="#cs" fill="none" stroke="#1a0300" stroke-width="2.6"/></g>
<g transform="translate(1157.05,749.45)"><g clip-path="url(#cc)"><use href="#cs" fill="#c26600"/><circle cx="7.98" cy="-4.49" r="41" fill="#ff5c00"/><circle cx="6.38" cy="-0.44" r="31.2" fill="#ffa600"/><circle cx="7.78" cy="-3.34" r="12.7" fill="#ffa454" opacity="0.55"/><circle cx="7.78" cy="-3.34" r="8.6" fill="url(#gH)"/><circle cx="8.48" cy="-4.99" r="53.2" stroke="#7a5e00" stroke-width="6" fill="none"/><rect x="37.6" y="-40" width="30" height="80" fill="#6e6200" transform="rotate(135)"/><g transform="rotate(135)"><path d="M4.71,-23.43L33.43,-19.6L33.43,11.4L4.71,9.77Z" fill="#5f6200"/><path d="M33.43,-19.6L75.43,-28.1L75.43,19.9L33.43,11.4Z" fill="#640000"/></g><g transform="rotate(135)"><rect x="39.4" y="-40" width="30" height="80" fill="#640000"/><rect x="45.2" y="-40" width="30" height="80" fill="#140200"/></g></g><use href="#cs" fill="none" stroke="#1a0300" stroke-width="2.6"/></g>
<g transform="translate(1243.55,749.45)"><g clip-path="url(#cc)"><use href="#cs" fill="#c26600"/><circle cx="8.2" cy="-4.49" r="41" fill="#ff5c00"/><circle cx="6.6" cy="-0.44" r="31.2" fill="#ffa600"/><circle cx="8" cy="-3.34" r="12.7" fill="#ffa454" opacity="0.55"/><circle cx="8" cy="-3.34" r="8.6" fill="url(#gH)"/><circle cx="8.7" cy="-4.99" r="53.2" stroke="#7a5e00" stroke-width="6" fill="none"/><rect x="37.6" y="-40" width="30" height="80" fill="#6e6200" transform="rotate(135)"/><g transform="rotate(135)"><rect x="39.4" y="-40" width="30" height="80" fill="#640000"/><rect x="45.2" y="-40" width="30" height="80" fill="#140200"/></g></g><use href="#cs" fill="none" stroke="#1a0300" stroke-width="2.6"/></g>
<g transform="translate(1330.05,749.45)"><g clip-path="url(#cc)"><use href="#cs" fill="#c26600"/><circle cx="8.43" cy="-4.49" r="41" fill="#ff5c00"/><circle cx="6.83" cy="-0.44" r="31.2" fill="#ffa600"/><circle cx="8.23" cy="-3.34" r="12.7" fill="#ffa454" opacity="0.55"/><circle cx="8.23" cy="-3.34" r="8.6" fill="url(#gH)"/><circle cx="8.93" cy="-4.99" r="53.2" stroke="#7a5e00" stroke-width="6" fill="none"/><rect x="37.6" y="-40" width="30" height="80" fill="#6e6200" transform="rotate(135)"/><g transform="rotate(135)"><path d="M3.53,-24.61L31.89,-20.3L31.89,10.7L3.53,8.59Z" fill="#5f6200"/><path d="M31.89,-20.3L73.89,-28.8L73.89,19.2L31.89,10.7Z" fill="#640000"/></g><g transform="rotate(135)"><rect x="39.4" y="-40" width="30" height="80" fill="#640000"/><rect x="45.2" y="-40" width="30" height="80" fill="#140200"/></g></g><use href="#cs" fill="none" stroke="#1a0300" stroke-width="2.6"/></g>
<g transform="translate(1416.55,749.45)"><g clip-path="url(#cc)"><use href="#cs" fill="#c26600"/><circle cx="8.65" cy="-4.49" r="41" fill="#ff5c00"/><circle cx="7.05" cy="-0.44" r="31.2" fill="#ffa600"/><circle cx="8.45" cy="-3.34" r="12.7" fill="#ffa454" opacity="0.55"/><circle cx="8.45" cy="-3.34" r="8.6" fill="url(#gH)"/><circle cx="9.15" cy="-4.99" r="53.2" stroke="#7a5e00" stroke-width="6" fill="none"/><rect x="37.6" y="-40" width="30" height="80" fill="#6e6200" transform="rotate(135)"/><g transform="rotate(135)"><rect x="39.4" y="-40" width="30" height="80" fill="#640000"/><rect x="45.2" y="-40" width="30" height="80" fill="#140200"/></g></g><use href="#cs" fill="none" stroke="#1a0300" stroke-width="2.6"/></g>
<g transform="translate(1503.05,749.45)"><g clip-path="url(#cc)"><use href="#cs" fill="#c26600"/><circle cx="8.88" cy="-4.49" r="41" fill="#ff5c00"/><circle cx="7.28" cy="-0.44" r="31.2" fill="#ffa600"/><circle cx="8.68" cy="-3.34" r="12.7" fill="#ffa454" opacity="0.55"/><circle cx="8.68" cy="-3.34" r="8.6" fill="url(#gH)"/><circle cx="9.38" cy="-4.99" r="53.2" stroke="#7a5e00" stroke-width="6" fill="none"/><rect x="37.6" y="-40" width="30" height="80" fill="#6e6200" transform="rotate(135)"/><g transform="rotate(135)"><path d="M2.21,-25.93L30.17,-21.1L30.17,9.9L2.21,7.27Z" fill="#5f6200"/><path d="M30.17,-21.1L72.17,-29.6L72.17,18.4L30.17,9.9Z" fill="#640000"/></g><g transform="rotate(135)"><rect x="39.4" y="-40" width="30" height="80" fill="#640000"/><rect x="45.2" y="-40" width="30" height="80" fill="#140200"/></g></g><use href="#cs" fill="none" stroke="#1a0300" stroke-width="2.6"/></g>
<g transform="translate(1589.55,749.45)"><g clip-path="url(#cc)"><use href="#cs" fill="#c26600"/><circle cx="9.1" cy="-4.49" r="41" fill="#ff5c00"/><circle cx="7.5" cy="-0.44" r="31.2" fill="#ffa600"/><circle cx="8.9" cy="-3.34" r="12.7" fill="#ffa454" opacity="0.55"/><circle cx="8.9" cy="-3.34" r="8.6" fill="url(#gH)"/><circle cx="9.6" cy="-4.99" r="53.2" stroke="#7a5e00" stroke-width="6" fill="none"/><rect x="37.6" y="-40" width="30" height="80" fill="#6e6200" transform="rotate(135)"/><g transform="rotate(135)"><rect x="39.4" y="-40" width="30" height="80" fill="#640000"/><rect x="45.2" y="-40" width="30" height="80" fill="#140200"/></g></g><use href="#cs" fill="none" stroke="#1a0300" stroke-width="2.6"/></g>
<g transform="translate(1676.05,749.45)"><g clip-path="url(#cc)"><use href="#cs" fill="#c26600"/><circle cx="9.33" cy="-4.49" r="41" fill="#ff5c00"/><circle cx="7.73" cy="-0.44" r="31.2" fill="#ffa600"/><circle cx="9.13" cy="-3.34" r="12.7" fill="#ffa454" opacity="0.55"/><circle cx="9.13" cy="-3.34" r="8.6" fill="url(#gH)"/><circle cx="9.83" cy="-4.99" r="53.2" stroke="#7a5e00" stroke-width="6" fill="none"/><rect x="37.6" y="-40" width="30" height="80" fill="#6e6200" transform="rotate(135)"/><g transform="rotate(135)"><path d="M0.66,-27.48L28.16,-22.03L28.16,8.97L0.66,5.72Z" fill="#5f6200"/><path d="M28.16,-22.03L70.16,-30.53L70.16,17.47L28.16,8.97Z" fill="#640000"/></g><g transform="rotate(135)"><rect x="39.4" y="-40" width="30" height="80" fill="#640000"/><rect x="45.2" y="-40" width="30" height="80" fill="#140200"/></g></g><use href="#cs" fill="none" stroke="#1a0300" stroke-width="2.6"/></g>
<g transform="translate(205.55,836.15)"><g clip-path="url(#cc)"><use href="#cs" fill="#c26600"/><circle cx="5.5" cy="-3.97" r="41" fill="#ff5c00"/><circle cx="3.9" cy="0.08" r="31.2" fill="#ffa600"/><circle cx="5.3" cy="-2.82" r="12.7" fill="#ffa454" opacity="0.55"/><circle cx="5.3" cy="-2.82" r="8.6" fill="url(#gH)"/><circle cx="6" cy="-4.47" r="53.2" stroke="#7a5e00" stroke-width="6" fill="none"/><rect x="37.6" y="-40" width="30" height="80" fill="#6e6200" transform="rotate(135)"/><g transform="rotate(135)"><path d="M13.22,-16.36L34,-15.35L34,15.65L13.22,16.84Z" fill="#5f6200"/><path d="M34,-15.35L76,-23.85L76,24.15L34,15.65Z" fill="#640000"/></g><g transform="rotate(135)"><rect x="39.4" y="-40" width="30" height="80" fill="#640000"/><rect x="45.2" y="-40" width="30" height="80" fill="#140200"/></g></g><use href="#cs" fill="none" stroke="#1a0300" stroke-width="2.6"/></g>
<g transform="translate(292.05,836.15)"><g clip-path="url(#cc)"><use href="#cs" fill="#c26600"/><circle cx="5.73" cy="-3.97" r="41" fill="#ff5c00"/><circle cx="4.13" cy="0.08" r="31.2" fill="#ffa600"/><circle cx="5.53" cy="-2.82" r="12.7" fill="#ffa454" opacity="0.55"/><circle cx="5.53" cy="-2.82" r="8.6" fill="url(#gH)"/><circle cx="6.23" cy="-4.47" r="53.2" stroke="#7a5e00" stroke-width="6" fill="none"/><rect x="37.6" y="-40" width="30" height="80" fill="#6e6200" transform="rotate(135)"/><g transform="rotate(135)"><rect x="39.4" y="-40" width="30" height="80" fill="#640000"/><rect x="45.2" y="-40" width="30" height="80" fill="#140200"/></g></g><use href="#cs" fill="none" stroke="#1a0300" stroke-width="2.6"/></g>
<g transform="translate(378.55,836.15)"><g clip-path="url(#cc)"><use href="#cs" fill="#c26600"/><circle cx="5.95" cy="-3.97" r="41" fill="#ff5c00"/><circle cx="4.35" cy="0.08" r="31.2" fill="#ffa600"/><circle cx="5.75" cy="-2.82" r="12.7" fill="#ffa454" opacity="0.55"/><circle cx="5.75" cy="-2.82" r="8.6" fill="url(#gH)"/><circle cx="6.45" cy="-4.47" r="53.2" stroke="#7a5e00" stroke-width="6" fill="none"/><rect x="37.6" y="-40" width="30" height="80" fill="#6e6200" transform="rotate(135)"/><g transform="rotate(135)"><path d="M11.29,-18.29L34,-16.51L34,14.49L11.29,14.91Z" fill="#5f6200"/><path d="M34,-16.51L76,-25.01L76,22.99L34,14.49Z" fill="#640000"/></g><g transform="rotate(135)"><rect x="39.4" y="-40" width="30" height="80" fill="#640000"/><rect x="45.2" y="-40" width="30" height="80" fill="#140200"/></g></g><use href="#cs" fill="none" stroke="#1a0300" stroke-width="2.6"/></g>
<g transform="translate(465.05,836.15)"><g clip-path="url(#cc)"><use href="#cs" fill="#c26600"/><circle cx="6.18" cy="-3.97" r="41" fill="#ff5c00"/><circle cx="4.58" cy="0.08" r="31.2" fill="#ffa600"/><circle cx="5.98" cy="-2.82" r="12.7" fill="#ffa454" opacity="0.55"/><circle cx="5.98" cy="-2.82" r="8.6" fill="url(#gH)"/><circle cx="6.68" cy="-4.47" r="53.2" stroke="#7a5e00" stroke-width="6" fill="none"/><rect x="37.6" y="-40" width="30" height="80" fill="#6e6200" transform="rotate(135)"/><g transform="rotate(135)"><rect x="39.4" y="-40" width="30" height="80" fill="#640000"/><rect x="45.2" y="-40" width="30" height="80" fill="#140200"/></g></g><use href="#cs" fill="none" stroke="#1a0300" stroke-width="2.6"/></g>
<g transform="translate(551.55,836.15)"><g clip-path="url(#cc)"><use href="#cs" fill="#c26600"/><circle cx="6.4" cy="-3.97" r="41" fill="#ff5c00"/><circle cx="4.8" cy="0.08" r="31.2" fill="#ffa600"/><circle cx="6.2" cy="-2.82" r="12.7" fill="#ffa454" opacity="0.55"/><circle cx="6.2" cy="-2.82" r="8.6" fill="url(#gH)"/><circle cx="6.9" cy="-4.47" r="53.2" stroke="#7a5e00" stroke-width="6" fill="none"/><rect x="37.6" y="-40" width="30" height="80" fill="#6e6200" transform="rotate(135)"/><g transform="rotate(135)"><path d="M9.68,-19.89L34,-17.48L34,13.52L9.68,13.31Z" fill="#5f6200"/><path d="M34,-17.48L76,-25.98L76,22.02L34,13.52Z" fill="#640000"/></g><g transform="rotate(135)"><rect x="39.4" y="-40" width="30" height="80" fill="#640000"/><rect x="45.2" y="-40" width="30" height="80" fill="#140200"/></g></g><use href="#cs" fill="none" stroke="#1a0300" stroke-width="2.6"/></g>
<g transform="translate(638.05,836.15)"><g clip-path="url(#cc)"><use href="#cs" fill="#c26600"/><circle cx="6.63" cy="-3.97" r="41" fill="#ff5c00"/><circle cx="5.03" cy="0.08" r="31.2" fill="#ffa600"/><circle cx="6.43" cy="-2.82" r="12.7" fill="#ffa454" opacity="0.55"/><circle cx="6.43" cy="-2.82" r="8.6" fill="url(#gH)"/><circle cx="7.13" cy="-4.47" r="53.2" stroke="#7a5e00" stroke-width="6" fill="none"/><rect x="37.6" y="-40" width="30" height="80" fill="#6e6200" transform="rotate(135)"/><g transform="rotate(135)"><rect x="39.4" y="-40" width="30" height="80" fill="#640000"/><rect x="45.2" y="-40" width="30" height="80" fill="#140200"/></g></g><use href="#cs" fill="none" stroke="#1a0300" stroke-width="2.6"/></g>
<g transform="translate(724.55,836.15)"><g clip-path="url(#cc)"><use href="#cs" fill="#c26600"/><circle cx="6.85" cy="-3.97" r="41" fill="#ff5c00"/><circle cx="5.25" cy="0.08" r="31.2" fill="#ffa600"/><circle cx="6.65" cy="-2.82" r="12.7" fill="#ffa454" opacity="0.55"/><circle cx="6.65" cy="-2.82" r="8.6" fill="url(#gH)"/><circle cx="7.35" cy="-4.47" r="53.2" stroke="#7a5e00" stroke-width="6" fill="none"/><rect x="37.6" y="-40" width="30" height="80" fill="#6e6200" transform="rotate(135)"/><g transform="rotate(135)"><path d="M8.32,-21.25L34,-18.29L34,12.71L8.32,11.95Z" fill="#5f6200"/><path d="M34,-18.29L76,-26.79L76,21.21L34,12.71Z" fill="#640000"/></g><g transform="rotate(135)"><rect x="39.4" y="-40" width="30" height="80" fill="#640000"/><rect x="45.2" y="-40" width="30" height="80" fill="#140200"/></g></g><use href="#cs" fill="none" stroke="#1a0300" stroke-width="2.6"/></g>
<g transform="translate(811.05,836.15)"><g clip-path="url(#cc)"><use href="#cs" fill="#c26600"/><circle cx="7.08" cy="-3.97" r="41" fill="#ff5c00"/><circle cx="5.48" cy="0.08" r="31.2" fill="#ffa600"/><circle cx="6.88" cy="-2.82" r="12.7" fill="#ffa454" opacity="0.55"/><circle cx="6.88" cy="-2.82" r="8.6" fill="url(#gH)"/><circle cx="7.58" cy="-4.47" r="53.2" stroke="#7a5e00" stroke-width="6" fill="none"/><rect x="37.6" y="-40" width="30" height="80" fill="#6e6200" transform="rotate(135)"/><g transform="rotate(135)"><rect x="39.4" y="-40" width="30" height="80" fill="#640000"/><rect x="45.2" y="-40" width="30" height="80" fill="#140200"/></g></g><use href="#cs" fill="none" stroke="#1a0300" stroke-width="2.6"/></g>
<g transform="translate(897.55,836.15)"><g clip-path="url(#cc)"><use href="#cs" fill="#c26600"/><circle cx="7.3" cy="-3.97" r="41" fill="#ff5c00"/><circle cx="5.7" cy="0.08" r="31.2" fill="#ffa600"/><circle cx="7.1" cy="-2.82" r="12.7" fill="#ffa454" opacity="0.55"/><circle cx="7.1" cy="-2.82" r="8.6" fill="url(#gH)"/><circle cx="7.8" cy="-4.47" r="53.2" stroke="#7a5e00" stroke-width="6" fill="none"/><rect x="37.6" y="-40" width="30" height="80" fill="#6e6200" transform="rotate(135)"/><g transform="rotate(135)"><path d="M7.12,-22.45L34,-19.01L34,11.99L7.12,10.75Z" fill="#5f6200"/><path d="M34,-19.01L76,-27.51L76,20.49L34,11.99Z" fill="#640000"/></g><g transform="rotate(135)"><rect x="39.4" y="-40" width="30" height="80" fill="#640000"/><rect x="45.2" y="-40" width="30" height="80" fill="#140200"/></g></g><use href="#cs" fill="none" stroke="#1a0300" stroke-width="2.6"/></g>
<g transform="translate(984.05,836.15)"><g clip-path="url(#cc)"><use href="#cs" fill="#c26600"/><circle cx="7.53" cy="-3.97" r="41" fill="#ff5c00"/><circle cx="5.93" cy="0.08" r="31.2" fill="#ffa600"/><circle cx="7.33" cy="-2.82" r="12.7" fill="#ffa454" opacity="0.55"/><circle cx="7.33" cy="-2.82" r="8.6" fill="url(#gH)"/><circle cx="8.03" cy="-4.47" r="53.2" stroke="#7a5e00" stroke-width="6" fill="none"/><rect x="37.6" y="-40" width="30" height="80" fill="#6e6200" transform="rotate(135)"/><g transform="rotate(135)"><rect x="39.4" y="-40" width="30" height="80" fill="#640000"/><rect x="45.2" y="-40" width="30" height="80" fill="#140200"/></g></g><use href="#cs" fill="none" stroke="#1a0300" stroke-width="2.6"/></g>
<g transform="translate(1070.55,836.15)"><g clip-path="url(#cc)"><use href="#cs" fill="#c26600"/><circle cx="7.75" cy="-3.97" r="41" fill="#ff5c00"/><circle cx="6.15" cy="0.08" r="31.2" fill="#ffa600"/><circle cx="7.55" cy="-2.82" r="12.7" fill="#ffa454" opacity="0.55"/><circle cx="7.55" cy="-2.82" r="8.6" fill="url(#gH)"/><circle cx="8.25" cy="-4.47" r="53.2" stroke="#7a5e00" stroke-width="6" fill="none"/><rect x="37.6" y="-40" width="30" height="80" fill="#6e6200" transform="rotate(135)"/><g transform="rotate(135)"><path d="M5.99,-23.58L34,-19.69L34,11.31L5.99,9.62Z" fill="#5f6200"/><path d="M34,-19.69L76,-28.19L76,19.81L34,11.31Z" fill="#640000"/></g><g transform="rotate(135)"><rect x="39.4" y="-40" width="30" height="80" fill="#640000"/><rect x="45.2" y="-40" width="30" height="80" fill="#140200"/></g></g><use href="#cs" fill="none" stroke="#1a0300" stroke-width="2.6"/></g>
<g transform="translate(1157.05,836.15)"><g clip-path="url(#cc)"><use href="#cs" fill="#c26600"/><circle cx="7.98" cy="-3.97" r="41" fill="#ff5c00"/><circle cx="6.38" cy="0.08" r="31.2" fill="#ffa600"/><circle cx="7.78" cy="-2.82" r="12.7" fill="#ffa454" opacity="0.55"/><circle cx="7.78" cy="-2.82" r="8.6" fill="url(#gH)"/><circle cx="8.48" cy="-4.47" r="53.2" stroke="#7a5e00" stroke-width="6" fill="none"/><rect x="37.6" y="-40" width="30" height="80" fill="#6e6200" transform="rotate(135)"/><g transform="rotate(135)"><rect x="39.4" y="-40" width="30" height="80" fill="#640000"/><rect x="45.2" y="-40" width="30" height="80" fill="#140200"/></g></g><use href="#cs" fill="none" stroke="#1a0300" stroke-width="2.6"/></g>
<g transform="translate(1243.55,836.15)"><g clip-path="url(#cc)"><use href="#cs" fill="#c26600"/><circle cx="8.2" cy="-3.97" r="41" fill="#ff5c00"/><circle cx="6.6" cy="0.08" r="31.2" fill="#ffa600"/><circle cx="8" cy="-2.82" r="12.7" fill="#ffa454" opacity="0.55"/><circle cx="8" cy="-2.82" r="8.6" fill="url(#gH)"/><circle cx="8.7" cy="-4.47" r="53.2" stroke="#7a5e00" stroke-width="6" fill="none"/><rect x="37.6" y="-40" width="30" height="80" fill="#6e6200" transform="rotate(135)"/><g transform="rotate(135)"><path d="M4.85,-24.72L33.61,-20.37L33.61,10.63L4.85,8.48Z" fill="#5f6200"/><path d="M33.61,-20.37L75.61,-28.87L75.61,19.13L33.61,10.63Z" fill="#640000"/></g><g transform="rotate(135)"><rect x="39.4" y="-40" width="30" height="80" fill="#640000"/><rect x="45.2" y="-40" width="30" height="80" fill="#140200"/></g></g><use href="#cs" fill="none" stroke="#1a0300" stroke-width="2.6"/></g>
<g transform="translate(1330.05,836.15)"><g clip-path="url(#cc)"><use href="#cs" fill="#c26600"/><circle cx="8.43" cy="-3.97" r="41" fill="#ff5c00"/><circle cx="6.83" cy="0.08" r="31.2" fill="#ffa600"/><circle cx="8.23" cy="-2.82" r="12.7" fill="#ffa454" opacity="0.55"/><circle cx="8.23" cy="-2.82" r="8.6" fill="url(#gH)"/><circle cx="8.93" cy="-4.47" r="53.2" stroke="#7a5e00" stroke-width="6" fill="none"/><rect x="37.6" y="-40" width="30" height="80" fill="#6e6200" transform="rotate(135)"/><g transform="rotate(135)"><rect x="39.4" y="-40" width="30" height="80" fill="#640000"/><rect x="45.2" y="-40" width="30" height="80" fill="#140200"/></g></g><use href="#cs" fill="none" stroke="#1a0300" stroke-width="2.6"/></g>
<g transform="translate(1416.55,836.15)"><g clip-path="url(#cc)"><use href="#cs" fill="#c26600"/><circle cx="8.65" cy="-3.97" r="41" fill="#ff5c00"/><circle cx="7.05" cy="0.08" r="31.2" fill="#ffa600"/><circle cx="8.45" cy="-2.82" r="12.7" fill="#ffa454" opacity="0.55"/><circle cx="8.45" cy="-2.82" r="8.6" fill="url(#gH)"/><circle cx="9.15" cy="-4.47" r="53.2" stroke="#7a5e00" stroke-width="6" fill="none"/><rect x="37.6" y="-40" width="30" height="80" fill="#6e6200" transform="rotate(135)"/><g transform="rotate(135)"><path d="M3.61,-25.96L31.99,-21.12L31.99,9.88L3.61,7.24Z" fill="#5f6200"/><path d="M31.99,-21.12L73.99,-29.62L73.99,18.38L31.99,9.88Z" fill="#640000"/></g><g transform="rotate(135)"><rect x="39.4" y="-40" width="30" height="80" fill="#640000"/><rect x="45.2" y="-40" width="30" height="80" fill="#140200"/></g></g><use href="#cs" fill="none" stroke="#1a0300" stroke-width="2.6"/></g>
<g transform="translate(1503.05,836.15)"><g clip-path="url(#cc)"><use href="#cs" fill="#c26600"/><circle cx="8.88" cy="-3.97" r="41" fill="#ff5c00"/><circle cx="7.28" cy="0.08" r="31.2" fill="#ffa600"/><circle cx="8.68" cy="-2.82" r="12.7" fill="#ffa454" opacity="0.55"/><circle cx="8.68" cy="-2.82" r="8.6" fill="url(#gH)"/><circle cx="9.38" cy="-4.47" r="53.2" stroke="#7a5e00" stroke-width="6" fill="none"/><rect x="37.6" y="-40" width="30" height="80" fill="#6e6200" transform="rotate(135)"/><g transform="rotate(135)"><rect x="39.4" y="-40" width="30" height="80" fill="#640000"/><rect x="45.2" y="-40" width="30" height="80" fill="#140200"/></g></g><use href="#cs" fill="none" stroke="#1a0300" stroke-width="2.6"/></g>
<g transform="translate(1589.55,836.15)"><g clip-path="url(#cc)"><use href="#cs" fill="#c26600"/><circle cx="9.1" cy="-3.97" r="41" fill="#ff5c00"/><circle cx="7.5" cy="0.08" r="31.2" fill="#ffa600"/><circle cx="8.9" cy="-2.82" r="12.7" fill="#ffa454" opacity="0.55"/><circle cx="8.9" cy="-2.82" r="8.6" fill="url(#gH)"/><circle cx="9.6" cy="-4.47" r="53.2" stroke="#7a5e00" stroke-width="6" fill="none"/><rect x="37.6" y="-40" width="30" height="80" fill="#6e6200" transform="rotate(135)"/><g transform="rotate(135)"><path d="M2.19,-27.39L30.14,-21.97L30.14,9.03L2.19,5.81Z" fill="#5f6200"/><path d="M30.14,-21.97L72.14,-30.47L72.14,17.53L30.14,9.03Z" fill="#640000"/></g><g transform="rotate(135)"><rect x="39.4" y="-40" width="30" height="80" fill="#640000"/><rect x="45.2" y="-40" width="30" height="80" fill="#140200"/></g></g><use href="#cs" fill="none" stroke="#1a0300" stroke-width="2.6"/></g>
<g transform="translate(1676.05,836.15)"><g clip-path="url(#cc)"><use href="#cs" fill="#c26600"/><circle cx="9.33" cy="-3.97" r="41" fill="#ff5c00"/><circle cx="7.73" cy="0.08" r="31.2" fill="#ffa600"/><circle cx="9.13" cy="-2.82" r="12.7" fill="#ffa454" opacity="0.55"/><circle cx="9.13" cy="-2.82" r="8.6" fill="url(#gH)"/><circle cx="9.83" cy="-4.47" r="53.2" stroke="#7a5e00" stroke-width="6" fill="none"/><rect x="37.6" y="-40" width="30" height="80" fill="#6e6200" transform="rotate(135)"/><g transform="rotate(135)"><rect x="39.4" y="-40" width="30" height="80" fill="#640000"/><rect x="45.2" y="-40" width="30" height="80" fill="#140200"/></g></g><use href="#cs" fill="none" stroke="#1a0300" stroke-width="2.6"/></g>
<path d="M166,-89.7L185,-74.2L166,-58.7Z" fill="#fff"/><path d="M166,-89.7L185,-74.2L166,-58.7" fill="none" stroke="#1c0400" stroke-width="2"/>
<path d="M166,-3L185,12.5L166,28Z" fill="#fff"/><path d="M166,-3L185,12.5L166,28" fill="none" stroke="#1c0400" stroke-width="2"/>
<path d="M166,83.7L185,99.2L166,114.7Z" fill="#fff"/><path d="M166,83.7L185,99.2L166,114.7" fill="none" stroke="#1c0400" stroke-width="2"/>
<path d="M166,170.4L185,185.9L166,201.4Z" fill="#fff"/><path d="M166,170.4L185,185.9L166,201.4" fill="none" stroke="#1c0400" stroke-width="2"/>
<path d="M166,257.1L185,272.6L166,288.1Z" fill="#fff"/><path d="M166,257.1L185,272.6L166,288.1" fill="none" stroke="#1c0400" stroke-width="2"/>
<path d="M166,343.8L185,359.3L166,374.8Z" fill="#fff"/><path d="M166,343.8L185,359.3L166,374.8" fill="none" stroke="#1c0400" stroke-width="2"/>
<path d="M166,430.5L185,446L166,461.5Z" fill="#fff"/><path d="M166,430.5L185,446L166,461.5" fill="none" stroke="#1c0400" stroke-width="2"/>
<path d="M166,517.2L185,532.7L166,548.2Z" fill="#fff"/><path d="M166,517.2L185,532.7L166,548.2" fill="none" stroke="#1c0400" stroke-width="2"/>
<path d="M166,603.9L185,619.4L166,634.9Z" fill="#fff"/><path d="M166,603.9L185,619.4L166,634.9" fill="none" stroke="#1c0400" stroke-width="2"/>
<path d="M166,690.6L185,706.1L166,721.6Z" fill="#fff"/><path d="M166,690.6L185,706.1L166,721.6" fill="none" stroke="#1c0400" stroke-width="2"/>
<path d="M166,777.3L185,792.8L166,808.3Z" fill="#fff"/><path d="M166,777.3L185,792.8L166,808.3" fill="none" stroke="#1c0400" stroke-width="2"/>
<path d="M166,864L185,879.5L166,895Z" fill="#fff"/><path d="M166,864L185,879.5L166,895" fill="none" stroke="#1c0400" stroke-width="2"/>
<circle cx="196.03" cy="-31.82" r="15.3" fill="url(#gC)" stroke="#000" stroke-width="2.4"/><circle cx="187.25" cy="-32.71" r="13.1" fill="url(#gO)" stroke="#0a0004" stroke-width="1.9"/>
<circle cx="371.76" cy="-31.82" r="15.3" fill="url(#gC)" stroke="#000" stroke-width="2.4"/><circle cx="365.5" cy="-32.71" r="13.1" fill="url(#gO)" stroke="#0a0004" stroke-width="1.9"/>
<circle cx="547.03" cy="-31.82" r="15.3" fill="url(#gC)" stroke="#000" stroke-width="2.4"/><circle cx="542.86" cy="-32.71" r="13.1" fill="url(#gO)" stroke="#0a0004" stroke-width="1.9"/>
<circle cx="721.95" cy="-31.82" r="15.3" fill="url(#gC)" stroke="#000" stroke-width="2.4"/><circle cx="719.56" cy="-32.71" r="13.1" fill="url(#gO)" stroke="#0a0004" stroke-width="1.9"/>
<circle cx="896.65" cy="-31.82" r="15.3" fill="url(#gC)" stroke="#000" stroke-width="2.4"/><circle cx="895.82" cy="-32.71" r="13.1" fill="url(#gO)" stroke="#0a0004" stroke-width="1.9"/>
<circle cx="1071.25" cy="-31.82" r="15.3" fill="url(#gC)" stroke="#000" stroke-width="2.4"/><circle cx="1071.89" cy="-32.71" r="13.1" fill="url(#gO)" stroke="#0a0004" stroke-width="1.9"/>
<circle cx="1245.86" cy="-31.82" r="15.3" fill="url(#gC)" stroke="#000" stroke-width="2.4"/><circle cx="1248" cy="-32.71" r="13.1" fill="url(#gO)" stroke="#0a0004" stroke-width="1.9"/>
<circle cx="1420.62" cy="-31.82" r="15.3" fill="url(#gC)" stroke="#000" stroke-width="2.4"/><circle cx="1424.37" cy="-32.71" r="13.1" fill="url(#gO)" stroke="#0a0004" stroke-width="1.9"/>
<circle cx="1595.63" cy="-31.82" r="15.3" fill="url(#gC)" stroke="#000" stroke-width="2.4"/><circle cx="1601.25" cy="-32.71" r="13.1" fill="url(#gO)" stroke="#0a0004" stroke-width="1.9"/>
<circle cx="283.96" cy="55.9" r="15.3" fill="url(#gC)" stroke="#000" stroke-width="2.4"/><circle cx="276.5" cy="55.94" r="13.1" fill="url(#gO)" stroke="#0a0004" stroke-width="1.9"/>
<circle cx="459.45" cy="55.9" r="15.3" fill="url(#gC)" stroke="#000" stroke-width="2.4"/><circle cx="454.28" cy="55.94" r="13.1" fill="url(#gO)" stroke="#0a0004" stroke-width="1.9"/>
<circle cx="634.53" cy="55.9" r="15.3" fill="url(#gC)" stroke="#000" stroke-width="2.4"/><circle cx="631.28" cy="55.94" r="13.1" fill="url(#gO)" stroke="#0a0004" stroke-width="1.9"/>
<circle cx="809.32" cy="55.9" r="15.3" fill="url(#gC)" stroke="#000" stroke-width="2.4"/><circle cx="807.73" cy="55.94" r="13.1" fill="url(#gO)" stroke="#0a0004" stroke-width="1.9"/>
<circle cx="983.96" cy="55.9" r="15.3" fill="url(#gC)" stroke="#000" stroke-width="2.4"/><circle cx="983.87" cy="55.94" r="13.1" fill="url(#gO)" stroke="#0a0004" stroke-width="1.9"/>
<circle cx="1158.55" cy="55.9" r="15.3" fill="url(#gC)" stroke="#000" stroke-width="2.4"/><circle cx="1159.93" cy="55.94" r="13.1" fill="url(#gO)" stroke="#0a0004" stroke-width="1.9"/>
<circle cx="1333.22" cy="55.9" r="15.3" fill="url(#gC)" stroke="#000" stroke-width="2.4"/><circle cx="1336.14" cy="55.94" r="13.1" fill="url(#gO)" stroke="#0a0004" stroke-width="1.9"/>
<circle cx="1508.08" cy="55.9" r="15.3" fill="url(#gC)" stroke="#000" stroke-width="2.4"/><circle cx="1512.73" cy="55.94" r="13.1" fill="url(#gO)" stroke="#0a0004" stroke-width="1.9"/>
<circle cx="1683.28" cy="55.9" r="15.3" fill="url(#gC)" stroke="#000" stroke-width="2.4"/><circle cx="1689.94" cy="55.94" r="13.1" fill="url(#gO)" stroke="#0a0004" stroke-width="1.9"/>
<circle cx="196.03" cy="143.61" r="15.3" fill="url(#gC)" stroke="#000" stroke-width="2.4"/><circle cx="187.25" cy="144.59" r="13.1" fill="url(#gO)" stroke="#0a0004" stroke-width="1.9"/>
<circle cx="371.76" cy="143.61" r="15.3" fill="url(#gC)" stroke="#000" stroke-width="2.4"/><circle cx="365.5" cy="144.59" r="13.1" fill="url(#gO)" stroke="#0a0004" stroke-width="1.9"/>
<circle cx="547.03" cy="143.61" r="15.3" fill="url(#gC)" stroke="#000" stroke-width="2.4"/><circle cx="542.86" cy="144.59" r="13.1" fill="url(#gO)" stroke="#0a0004" stroke-width="1.9"/>
<circle cx="721.95" cy="143.61" r="15.3" fill="url(#gC)" stroke="#000" stroke-width="2.4"/><circle cx="719.56" cy="144.59" r="13.1" fill="url(#gO)" stroke="#0a0004" stroke-width="1.9"/>
<circle cx="896.65" cy="143.61" r="15.3" fill="url(#gC)" stroke="#000" stroke-width="2.4"/><circle cx="895.82" cy="144.59" r="13.1" fill="url(#gO)" stroke="#0a0004" stroke-width="1.9"/>
<circle cx="1071.25" cy="143.61" r="15.3" fill="url(#gC)" stroke="#000" stroke-width="2.4"/><circle cx="1071.89" cy="144.59" r="13.1" fill="url(#gO)" stroke="#0a0004" stroke-width="1.9"/>
<circle cx="1245.86" cy="143.61" r="15.3" fill="url(#gC)" stroke="#000" stroke-width="2.4"/><circle cx="1248" cy="144.59" r="13.1" fill="url(#gO)" stroke="#0a0004" stroke-width="1.9"/>
<circle cx="1420.62" cy="143.61" r="15.3" fill="url(#gC)" stroke="#000" stroke-width="2.4"/><circle cx="1424.37" cy="144.59" r="13.1" fill="url(#gO)" stroke="#0a0004" stroke-width="1.9"/>
<circle cx="1595.63" cy="143.61" r="15.3" fill="url(#gC)" stroke="#000" stroke-width="2.4"/><circle cx="1601.25" cy="144.59" r="13.1" fill="url(#gO)" stroke="#0a0004" stroke-width="1.9"/>
<circle cx="283.96" cy="231.32" r="15.3" fill="url(#gC)" stroke="#000" stroke-width="2.4"/><circle cx="276.5" cy="233.24" r="13.1" fill="url(#gO)" stroke="#0a0004" stroke-width="1.9"/>
<circle cx="459.45" cy="231.32" r="15.3" fill="url(#gC)" stroke="#000" stroke-width="2.4"/><circle cx="454.28" cy="233.24" r="13.1" fill="url(#gO)" stroke="#0a0004" stroke-width="1.9"/>
<circle cx="634.53" cy="231.32" r="15.3" fill="url(#gC)" stroke="#000" stroke-width="2.4"/><circle cx="631.28" cy="233.24" r="13.1" fill="url(#gO)" stroke="#0a0004" stroke-width="1.9"/>
<circle cx="809.32" cy="231.32" r="15.3" fill="url(#gC)" stroke="#000" stroke-width="2.4"/><circle cx="807.73" cy="233.24" r="13.1" fill="url(#gO)" stroke="#0a0004" stroke-width="1.9"/>
<circle cx="983.96" cy="231.32" r="15.3" fill="url(#gC)" stroke="#000" stroke-width="2.4"/><circle cx="983.87" cy="233.24" r="13.1" fill="url(#gO)" stroke="#0a0004" stroke-width="1.9"/>
<circle cx="1158.55" cy="231.32" r="15.3" fill="url(#gC)" stroke="#000" stroke-width="2.4"/><circle cx="1159.93" cy="233.24" r="13.1" fill="url(#gO)" stroke="#0a0004" stroke-width="1.9"/>
<circle cx="1333.22" cy="231.32" r="15.3" fill="url(#gC)" stroke="#000" stroke-width="2.4"/><circle cx="1336.14" cy="233.24" r="13.1" fill="url(#gO)" stroke="#0a0004" stroke-width="1.9"/>
<circle cx="1508.08" cy="231.32" r="15.3" fill="url(#gC)" stroke="#000" stroke-width="2.4"/><circle cx="1512.73" cy="233.24" r="13.1" fill="url(#gO)" stroke="#0a0004" stroke-width="1.9"/>
<circle cx="1683.28" cy="231.32" r="15.3" fill="url(#gC)" stroke="#000" stroke-width="2.4"/><circle cx="1689.94" cy="233.24" r="13.1" fill="url(#gO)" stroke="#0a0004" stroke-width="1.9"/>
<circle cx="196.03" cy="319.04" r="15.3" fill="url(#gC)" stroke="#000" stroke-width="2.4"/><circle cx="187.25" cy="321.89" r="13.1" fill="url(#gO)" stroke="#0a0004" stroke-width="1.9"/>
<circle cx="371.76" cy="319.04" r="15.3" fill="url(#gC)" stroke="#000" stroke-width="2.4"/><circle cx="365.5" cy="321.89" r="13.1" fill="url(#gO)" stroke="#0a0004" stroke-width="1.9"/>
<circle cx="547.03" cy="319.04" r="15.3" fill="url(#gC)" stroke="#000" stroke-width="2.4"/><circle cx="542.86" cy="321.89" r="13.1" fill="url(#gO)" stroke="#0a0004" stroke-width="1.9"/>
<circle cx="721.95" cy="319.04" r="15.3" fill="url(#gC)" stroke="#000" stroke-width="2.4"/><circle cx="719.56" cy="321.89" r="13.1" fill="url(#gO)" stroke="#0a0004" stroke-width="1.9"/>
<circle cx="896.65" cy="319.04" r="15.3" fill="url(#gC)" stroke="#000" stroke-width="2.4"/><circle cx="895.82" cy="321.89" r="13.1" fill="url(#gO)" stroke="#0a0004" stroke-width="1.9"/>
<circle cx="1071.25" cy="319.04" r="15.3" fill="url(#gC)" stroke="#000" stroke-width="2.4"/><circle cx="1071.89" cy="321.89" r="13.1" fill="url(#gO)" stroke="#0a0004" stroke-width="1.9"/>
<circle cx="1245.86" cy="319.04" r="15.3" fill="url(#gC)" stroke="#000" stroke-width="2.4"/><circle cx="1248" cy="321.89" r="13.1" fill="url(#gO)" stroke="#0a0004" stroke-width="1.9"/>
<circle cx="1420.62" cy="319.04" r="15.3" fill="url(#gC)" stroke="#000" stroke-width="2.4"/><circle cx="1424.37" cy="321.89" r="13.1" fill="url(#gO)" stroke="#0a0004" stroke-width="1.9"/>
<circle cx="1595.63" cy="319.04" r="15.3" fill="url(#gC)" stroke="#000" stroke-width="2.4"/><circle cx="1601.25" cy="321.89" r="13.1" fill="url(#gO)" stroke="#0a0004" stroke-width="1.9"/>
<circle cx="283.96" cy="406.75" r="15.3" fill="url(#gC)" stroke="#000" stroke-width="2.4"/><circle cx="276.5" cy="410.54" r="13.1" fill="url(#gO)" stroke="#0a0004" stroke-width="1.9"/>
<circle cx="459.45" cy="406.75" r="15.3" fill="url(#gC)" stroke="#000" stroke-width="2.4"/><circle cx="454.28" cy="410.54" r="13.1" fill="url(#gO)" stroke="#0a0004" stroke-width="1.9"/>
<circle cx="634.53" cy="406.75" r="15.3" fill="url(#gC)" stroke="#000" stroke-width="2.4"/><circle cx="631.28" cy="410.54" r="13.1" fill="url(#gO)" stroke="#0a0004" stroke-width="1.9"/>
<circle cx="809.32" cy="406.75" r="15.3" fill="url(#gC)" stroke="#000" stroke-width="2.4"/><circle cx="807.73" cy="410.54" r="13.1" fill="url(#gO)" stroke="#0a0004" stroke-width="1.9"/>
<circle cx="983.96" cy="406.75" r="15.3" fill="url(#gC)" stroke="#000" stroke-width="2.4"/><circle cx="983.87" cy="410.54" r="13.1" fill="url(#gO)" stroke="#0a0004" stroke-width="1.9"/>
<circle cx="1158.55" cy="406.75" r="15.3" fill="url(#gC)" stroke="#000" stroke-width="2.4"/><circle cx="1159.93" cy="410.54" r="13.1" fill="url(#gO)" stroke="#0a0004" stroke-width="1.9"/>
<circle cx="1333.22" cy="406.75" r="15.3" fill="url(#gC)" stroke="#000" stroke-width="2.4"/><circle cx="1336.14" cy="410.54" r="13.1" fill="url(#gO)" stroke="#0a0004" stroke-width="1.9"/>
<circle cx="1508.08" cy="406.75" r="15.3" fill="url(#gC)" stroke="#000" stroke-width="2.4"/><circle cx="1512.73" cy="410.54" r="13.1" fill="url(#gO)" stroke="#0a0004" stroke-width="1.9"/>
<circle cx="1683.28" cy="406.75" r="15.3" fill="url(#gC)" stroke="#000" stroke-width="2.4"/><circle cx="1689.94" cy="410.54" r="13.1" fill="url(#gO)" stroke="#0a0004" stroke-width="1.9"/>
<circle cx="196.03" cy="494.47" r="15.3" fill="url(#gC)" stroke="#000" stroke-width="2.4"/><circle cx="187.25" cy="499.19" r="13.1" fill="url(#gO)" stroke="#0a0004" stroke-width="1.9"/>
<circle cx="371.76" cy="494.47" r="15.3" fill="url(#gC)" stroke="#000" stroke-width="2.4"/><circle cx="365.5" cy="499.19" r="13.1" fill="url(#gO)" stroke="#0a0004" stroke-width="1.9"/>
<circle cx="547.03" cy="494.47" r="15.3" fill="url(#gC)" stroke="#000" stroke-width="2.4"/><circle cx="542.86" cy="499.19" r="13.1" fill="url(#gO)" stroke="#0a0004" stroke-width="1.9"/>
<circle cx="721.95" cy="494.47" r="15.3" fill="url(#gC)" stroke="#000" stroke-width="2.4"/><circle cx="719.56" cy="499.19" r="13.1" fill="url(#gO)" stroke="#0a0004" stroke-width="1.9"/>
<circle cx="896.65" cy="494.47" r="15.3" fill="url(#gC)" stroke="#000" stroke-width="2.4"/><circle cx="895.82" cy="499.19" r="13.1" fill="url(#gO)" stroke="#0a0004" stroke-width="1.9"/>
<circle cx="1071.25" cy="494.47" r="15.3" fill="url(#gC)" stroke="#000" stroke-width="2.4"/><circle cx="1071.89" cy="499.19" r="13.1" fill="url(#gO)" stroke="#0a0004" stroke-width="1.9"/>
<circle cx="1245.86" cy="494.47" r="15.3" fill="url(#gC)" stroke="#000" stroke-width="2.4"/><circle cx="1248" cy="499.19" r="13.1" fill="url(#gO)" stroke="#0a0004" stroke-width="1.9"/>
<circle cx="1420.62" cy="494.47" r="15.3" fill="url(#gC)" stroke="#000" stroke-width="2.4"/><circle cx="1424.37" cy="499.19" r="13.1" fill="url(#gO)" stroke="#0a0004" stroke-width="1.9"/>
<circle cx="1595.63" cy="494.47" r="15.3" fill="url(#gC)" stroke="#000" stroke-width="2.4"/><circle cx="1601.25" cy="499.19" r="13.1" fill="url(#gO)" stroke="#0a0004" stroke-width="1.9"/>
<circle cx="283.96" cy="582.18" r="15.3" fill="url(#gC)" stroke="#000" stroke-width="2.4"/><circle cx="276.5" cy="587.84" r="13.1" fill="url(#gO)" stroke="#0a0004" stroke-width="1.9"/>
<circle cx="459.45" cy="582.18" r="15.3" fill="url(#gC)" stroke="#000" stroke-width="2.4"/><circle cx="454.28" cy="587.84" r="13.1" fill="url(#gO)" stroke="#0a0004" stroke-width="1.9"/>
<circle cx="634.53" cy="582.18" r="15.3" fill="url(#gC)" stroke="#000" stroke-width="2.4"/><circle cx="631.28" cy="587.84" r="13.1" fill="url(#gO)" stroke="#0a0004" stroke-width="1.9"/>
<circle cx="809.32" cy="582.18" r="15.3" fill="url(#gC)" stroke="#000" stroke-width="2.4"/><circle cx="807.73" cy="587.84" r="13.1" fill="url(#gO)" stroke="#0a0004" stroke-width="1.9"/>
<circle cx="983.96" cy="582.18" r="15.3" fill="url(#gC)" stroke="#000" stroke-width="2.4"/><circle cx="983.87" cy="587.84" r="13.1" fill="url(#gO)" stroke="#0a0004" stroke-width="1.9"/>
<circle cx="1158.55" cy="582.18" r="15.3" fill="url(#gC)" stroke="#000" stroke-width="2.4"/><circle cx="1159.93" cy="587.84" r="13.1" fill="url(#gO)" stroke="#0a0004" stroke-width="1.9"/>
<circle cx="1333.22" cy="582.18" r="15.3" fill="url(#gC)" stroke="#000" stroke-width="2.4"/><circle cx="1336.14" cy="587.84" r="13.1" fill="url(#gO)" stroke="#0a0004" stroke-width="1.9"/>
<circle cx="1508.08" cy="582.18" r="15.3" fill="url(#gC)" stroke="#000" stroke-width="2.4"/><circle cx="1512.73" cy="587.84" r="13.1" fill="url(#gO)" stroke="#0a0004" stroke-width="1.9"/>
<circle cx="1683.28" cy="582.18" r="15.3" fill="url(#gC)" stroke="#000" stroke-width="2.4"/><circle cx="1689.94" cy="587.84" r="13.1" fill="url(#gO)" stroke="#0a0004" stroke-width="1.9"/>
<circle cx="196.03" cy="669.9" r="15.3" fill="url(#gC)" stroke="#000" stroke-width="2.4"/><circle cx="187.25" cy="676.49" r="13.1" fill="url(#gO)" stroke="#0a0004" stroke-width="1.9"/>
<circle cx="371.76" cy="669.9" r="15.3" fill="url(#gC)" stroke="#000" stroke-width="2.4"/><circle cx="365.5" cy="676.49" r="13.1" fill="url(#gO)" stroke="#0a0004" stroke-width="1.9"/>
<circle cx="547.03" cy="669.9" r="15.3" fill="url(#gC)" stroke="#000" stroke-width="2.4"/><circle cx="542.86" cy="676.49" r="13.1" fill="url(#gO)" stroke="#0a0004" stroke-width="1.9"/>
<circle cx="721.95" cy="669.9" r="15.3" fill="url(#gC)" stroke="#000" stroke-width="2.4"/><circle cx="719.56" cy="676.49" r="13.1" fill="url(#gO)" stroke="#0a0004" stroke-width="1.9"/>
<circle cx="896.65" cy="669.9" r="15.3" fill="url(#gC)" stroke="#000" stroke-width="2.4"/><circle cx="895.82" cy="676.49" r="13.1" fill="url(#gO)" stroke="#0a0004" stroke-width="1.9"/>
<circle cx="1071.25" cy="669.9" r="15.3" fill="url(#gC)" stroke="#000" stroke-width="2.4"/><circle cx="1071.89" cy="676.49" r="13.1" fill="url(#gO)" stroke="#0a0004" stroke-width="1.9"/>
<circle cx="1245.86" cy="669.9" r="15.3" fill="url(#gC)" stroke="#000" stroke-width="2.4"/><circle cx="1248" cy="676.49" r="13.1" fill="url(#gO)" stroke="#0a0004" stroke-width="1.9"/>
<circle cx="1420.62" cy="669.9" r="15.3" fill="url(#gC)" stroke="#000" stroke-width="2.4"/><circle cx="1424.37" cy="676.49" r="13.1" fill="url(#gO)" stroke="#0a0004" stroke-width="1.9"/>
<circle cx="1595.63" cy="669.9" r="15.3" fill="url(#gC)" stroke="#000" stroke-width="2.4"/><circle cx="1601.25" cy="676.49" r="13.1" fill="url(#gO)" stroke="#0a0004" stroke-width="1.9"/>
<circle cx="283.96" cy="757.61" r="15.3" fill="url(#gC)" stroke="#000" stroke-width="2.4"/><circle cx="276.5" cy="765.14" r="13.1" fill="url(#gO)" stroke="#0a0004" stroke-width="1.9"/>
<circle cx="459.45" cy="757.61" r="15.3" fill="url(#gC)" stroke="#000" stroke-width="2.4"/><circle cx="454.28" cy="765.14" r="13.1" fill="url(#gO)" stroke="#0a0004" stroke-width="1.9"/>
<circle cx="634.53" cy="757.61" r="15.3" fill="url(#gC)" stroke="#000" stroke-width="2.4"/><circle cx="631.28" cy="765.14" r="13.1" fill="url(#gO)" stroke="#0a0004" stroke-width="1.9"/>
<circle cx="809.32" cy="757.61" r="15.3" fill="url(#gC)" stroke="#000" stroke-width="2.4"/><circle cx="807.73" cy="765.14" r="13.1" fill="url(#gO)" stroke="#0a0004" stroke-width="1.9"/>
<circle cx="983.96" cy="757.61" r="15.3" fill="url(#gC)" stroke="#000" stroke-width="2.4"/><circle cx="983.87" cy="765.14" r="13.1" fill="url(#gO)" stroke="#0a0004" stroke-width="1.9"/>
<circle cx="1158.55" cy="757.61" r="15.3" fill="url(#gC)" stroke="#000" stroke-width="2.4"/><circle cx="1159.93" cy="765.14" r="13.1" fill="url(#gO)" stroke="#0a0004" stroke-width="1.9"/>
<circle cx="1333.22" cy="757.61" r="15.3" fill="url(#gC)" stroke="#000" stroke-width="2.4"/><circle cx="1336.14" cy="765.14" r="13.1" fill="url(#gO)" stroke="#0a0004" stroke-width="1.9"/>
<circle cx="1508.08" cy="757.61" r="15.3" fill="url(#gC)" stroke="#000" stroke-width="2.4"/><circle cx="1512.73" cy="765.14" r="13.1" fill="url(#gO)" stroke="#0a0004" stroke-width="1.9"/>
<circle cx="1683.28" cy="757.61" r="15.3" fill="url(#gC)" stroke="#000" stroke-width="2.4"/><circle cx="1689.94" cy="765.14" r="13.1" fill="url(#gO)" stroke="#0a0004" stroke-width="1.9"/>
<circle cx="196.03" cy="845.32" r="15.3" fill="url(#gC)" stroke="#000" stroke-width="2.4"/><circle cx="187.25" cy="853.79" r="13.1" fill="url(#gO)" stroke="#0a0004" stroke-width="1.9"/>
<circle cx="371.76" cy="845.32" r="15.3" fill="url(#gC)" stroke="#000" stroke-width="2.4"/><circle cx="365.5" cy="853.79" r="13.1" fill="url(#gO)" stroke="#0a0004" stroke-width="1.9"/>
<circle cx="547.03" cy="845.32" r="15.3" fill="url(#gC)" stroke="#000" stroke-width="2.4"/><circle cx="542.86" cy="853.79" r="13.1" fill="url(#gO)" stroke="#0a0004" stroke-width="1.9"/>
<circle cx="721.95" cy="845.32" r="15.3" fill="url(#gC)" stroke="#000" stroke-width="2.4"/><circle cx="719.56" cy="853.79" r="13.1" fill="url(#gO)" stroke="#0a0004" stroke-width="1.9"/>
<circle cx="896.65" cy="845.32" r="15.3" fill="url(#gC)" stroke="#000" stroke-width="2.4"/><circle cx="895.82" cy="853.79" r="13.1" fill="url(#gO)" stroke="#0a0004" stroke-width="1.9"/>
<circle cx="1071.25" cy="845.32" r="15.3" fill="url(#gC)" stroke="#000" stroke-width="2.4"/><circle cx="1071.89" cy="853.79" r="13.1" fill="url(#gO)" stroke="#0a0004" stroke-width="1.9"/>
<circle cx="1245.86" cy="845.32" r="15.3" fill="url(#gC)" stroke="#000" stroke-width="2.4"/><circle cx="1248" cy="853.79" r="13.1" fill="url(#gO)" stroke="#0a0004" stroke-width="1.9"/>
<circle cx="1420.62" cy="845.32" r="15.3" fill="url(#gC)" stroke="#000" stroke-width="2.4"/><circle cx="1424.37" cy="853.79" r="13.1" fill="url(#gO)" stroke="#0a0004" stroke-width="1.9"/>
<circle cx="1595.63" cy="845.32" r="15.3" fill="url(#gC)" stroke="#000" stroke-width="2.4"/><circle cx="1601.25" cy="853.79" r="13.1" fill="url(#gO)" stroke="#0a0004" stroke-width="1.9"/>
</g>
<rect x="258" y="278.5" width="506" height="504" fill="rgb(162,162,162)" fill-opacity="0.34" stroke="#0c0c0c" stroke-width="4.8"/>
<rect x="258" y="449.3" width="340.7" height="333.2" fill="rgb(162,162,162)" fill-opacity="0.34" stroke="#0c0c0c" stroke-width="4.8"/>
<rect x="258" y="617.5" width="169.7" height="165" fill="rgb(162,162,162)" fill-opacity="0.34" stroke="#0c0c0c" stroke-width="4.8"/>
<path d="M1335.6,766.4L979.5,410.3L1335.6,54.2L1691.7,410.3Z" fill="rgb(162,162,162)" fill-opacity="0.34" stroke="#0c0c0c" stroke-width="4.9" stroke-linejoin="miter"/>
<path d="M1335.6,766.4L1067.85,498.65L1335.6,230.9L1603.35,498.65Z" fill="rgb(162,162,162)" fill-opacity="0.34" stroke="#0c0c0c" stroke-width="4.9" stroke-linejoin="miter"/>
<path d="M1335.6,766.4L1152.05,582.85L1335.6,399.3L1519.15,582.85Z" fill="rgb(162,162,162)" fill-opacity="0.34" stroke="#0c0c0c" stroke-width="4.9" stroke-linejoin="miter"/>
<path d="M1335.6,766.4L1238.85,669.65L1335.6,572.9L1432.35,669.65Z" fill="rgb(162,162,162)" fill-opacity="0.34" stroke="#0c0c0c" stroke-width="4.9" stroke-linejoin="miter"/>
<text class="sa" x="716" y="332.4" font-size="56.3" text-anchor="middle" fill="#fff">18</text>
<text class="sa" x="557.2" y="501.6" font-size="56.3" text-anchor="middle" fill="#fff">8</text>
<text class="sa" x="384.3" y="676" font-size="56.3" text-anchor="middle" fill="#fff">2</text>
<text class="sa" x="1333" y="150.4" font-size="56.3" text-anchor="middle" fill="#fff">16</text>
<text class="sa" x="1331.2" y="318.5" font-size="56.3" text-anchor="middle" fill="#fff">9</text>
<text class="sa" x="1327.2" y="491.4" font-size="56.3" text-anchor="middle" fill="#fff">4</text>
<text class="sa" x="1331" y="668.5" font-size="56.3" text-anchor="middle" fill="#fff">1</text>
</g>
<rect x="192.5" y="38.7" width="89.6" height="89.6" fill="#fff" stroke="#000" stroke-width="4.4"/>
<text class="se" fill="#000"><tspan x="195.8" y="101.2" font-size="78">(</tspan><tspan x="222.27" y="100.9" font-size="70">a</tspan><tspan x="252.12" y="101.2" font-size="78">)</tspan></text>
<rect x="164.75" y="2.2" width="1557.65" height="833.8" fill="none" stroke="#000" stroke-width="4.5"/>
<g clip-path="url(#pb)">
<polyline points="257.35,1391.05 352.8,1370.85 448.25,1349.45 543.7,1330.55 639.15,1314.85 734.6,1300.85 830.05,1287.85 925.5,1275.85" fill="none" stroke="#ff4500" stroke-width="5.3" stroke-linecap="square"/>
<path d="M257.35,1379.55L245.85,1402.55L268.85,1402.55Z" fill="#ff4500" stroke="#000" stroke-width="4.6" stroke-linejoin="bevel"/>
<path d="M352.8,1359.35L341.3,1382.35L364.3,1382.35Z" fill="#ff4500" stroke="#000" stroke-width="4.6" stroke-linejoin="bevel"/>
<path d="M448.25,1337.95L436.75,1360.95L459.75,1360.95Z" fill="#ff4500" stroke="#000" stroke-width="4.6" stroke-linejoin="bevel"/>
<path d="M543.7,1319.05L532.2,1342.05L555.2,1342.05Z" fill="#ff4500" stroke="#000" stroke-width="4.6" stroke-linejoin="bevel"/>
<path d="M639.15,1303.35L627.65,1326.35L650.65,1326.35Z" fill="#ff4500" stroke="#000" stroke-width="4.6" stroke-linejoin="bevel"/>
<path d="M734.6,1289.35L723.1,1312.35L746.1,1312.35Z" fill="#ff4500" stroke="#000" stroke-width="4.6" stroke-linejoin="bevel"/>
<path d="M830.05,1276.35L818.55,1299.35L841.55,1299.35Z" fill="#ff4500" stroke="#000" stroke-width="4.6" stroke-linejoin="bevel"/>
<path d="M925.5,1264.35L914,1287.35L937,1287.35Z" fill="#ff4500" stroke="#000" stroke-width="4.6" stroke-linejoin="bevel"/>
<polyline points="257.35,1238 352.8,1221 448.25,1203.6 543.7,1192.4 639.15,1185.6 734.6,1180.8 830.05,1177.6 925.5,1174.8" fill="none" stroke="#1e90ff" stroke-width="5.3" stroke-dasharray="20.6 8.6"/>
<rect x="245.85" y="1226.5" width="23" height="23" fill="#1e90ff" stroke="#000" stroke-width="4.6"/>
<rect x="341.3" y="1209.5" width="23" height="23" fill="#1e90ff" stroke="#000" stroke-width="4.6"/>
<rect x="436.75" y="1192.1" width="23" height="23" fill="#1e90ff" stroke="#000" stroke-width="4.6"/>
<rect x="532.2" y="1180.9" width="23" height="23" fill="#1e90ff" stroke="#000" stroke-width="4.6"/>
<rect x="627.65" y="1174.1" width="23" height="23" fill="#1e90ff" stroke="#000" stroke-width="4.6"/>
<rect x="723.1" y="1169.3" width="23" height="23" fill="#1e90ff" stroke="#000" stroke-width="4.6"/>
<rect x="818.55" y="1166.1" width="23" height="23" fill="#1e90ff" stroke="#000" stroke-width="4.6"/>
<rect x="914" y="1163.3" width="23" height="23" fill="#1e90ff" stroke="#000" stroke-width="4.6"/>
<polyline points="257.35,1212.6 352.8,1188.4 448.25,1180 543.7,1175.6 639.15,1172.4 734.6,1168.6 830.05,1165.4 925.5,1162.6" fill="none" stroke="#90ee90" stroke-width="5.3" stroke-dasharray="35.6 8.6 5.6 8.6"/>
<circle cx="257.35" cy="1212.6" r="11.5" fill="#90ee90" stroke="#000" stroke-width="4.6"/>
<circle cx="352.8" cy="1188.4" r="11.5" fill="#90ee90" stroke="#000" stroke-width="4.6"/>
<circle cx="448.25" cy="1180" r="11.5" fill="#90ee90" stroke="#000" stroke-width="4.6"/>
<circle cx="543.7" cy="1175.6" r="11.5" fill="#90ee90" stroke="#000" stroke-width="4.6"/>
<circle cx="639.15" cy="1172.4" r="11.5" fill="#90ee90" stroke="#000" stroke-width="4.6"/>
<circle cx="734.6" cy="1168.6" r="11.5" fill="#90ee90" stroke="#000" stroke-width="4.6"/>
<circle cx="830.05" cy="1165.4" r="11.5" fill="#90ee90" stroke="#000" stroke-width="4.6"/>
<circle cx="925.5" cy="1162.6" r="11.5" fill="#90ee90" stroke="#000" stroke-width="4.6"/>
</g>
<path d="M509.6,934.4H619.3" stroke="#ff4500" stroke-width="5.3" stroke-linecap="square"/><path d="M564.4,922.9L552.9,945.9L575.9,945.9Z" fill="#ff4500" stroke="#000" stroke-width="4.6" stroke-linejoin="bevel"/>
<path d="M509.6,1010.6H619.3" stroke="#1e90ff" stroke-width="5.3" stroke-dasharray="20.6 8.6"/><rect x="552.9" y="999.1" width="23" height="23" fill="#1e90ff" stroke="#000" stroke-width="4.6"/>
<path d="M509.6,1086.6H619.3" stroke="#90ee90" stroke-width="5.3" stroke-dasharray="35.6 8.6 5.6 8.6"/><circle cx="564.4" cy="1086.6" r="11.5" fill="#90ee90" stroke="#000" stroke-width="4.6"/>
<text class="se" fill="#000"><tspan x="662.2" y="954" font-size="56">2</tspan><tspan> </tspan><tspan x="704.39" y="958.6" font-size="66">×</tspan><tspan> </tspan><tspan x="755.8" y="954" font-size="56">2</tspan><tspan> </tspan><tspan x="797.69" y="958.6" font-size="66">×</tspan><tspan> </tspan><tspan x="849.3" y="954" font-size="56">1</tspan></text>
<text class="se" fill="#000"><tspan x="662.2" y="1030" font-size="56">6</tspan><tspan> </tspan><tspan x="704.39" y="1034.6" font-size="66">×</tspan><tspan> </tspan><tspan x="755.8" y="1030" font-size="56">6</tspan><tspan> </tspan><tspan x="797.69" y="1034.6" font-size="66">×</tspan><tspan> </tspan><tspan x="849.3" y="1030" font-size="56">1</tspan></text>
<text class="se" fill="#000"><tspan x="662.2" y="1106" font-size="56">8</tspan><tspan> </tspan><tspan x="704.39" y="1110.6" font-size="66">×</tspan><tspan> </tspan><tspan x="755.8" y="1106" font-size="56">8</tspan><tspan> </tspan><tspan x="797.69" y="1110.6" font-size="66">×</tspan><tspan> </tspan><tspan x="849.3" y="1106" font-size="56">1</tspan></text>
<path d="M352.8,1421.3v-18M352.8,866.4v18M543.7,1421.3v-18M543.7,866.4v18M734.6,1421.3v-18M734.6,866.4v18" stroke="#000" stroke-width="5" fill="none"/>
<path d="M209.62,1421.3v-9.2M209.62,866.4v9.2M257.35,1421.3v-9.2M257.35,866.4v9.2M305.08,1421.3v-9.2M305.08,866.4v9.2M400.52,1421.3v-9.2M400.52,866.4v9.2M448.25,1421.3v-9.2M448.25,866.4v9.2M495.98,1421.3v-9.2M495.98,866.4v9.2M591.43,1421.3v-9.2M591.43,866.4v9.2M639.15,1421.3v-9.2M639.15,866.4v9.2M686.88,1421.3v-9.2M686.88,866.4v9.2M782.33,1421.3v-9.2M782.33,866.4v9.2M830.05,1421.3v-9.2M830.05,866.4v9.2M877.77,1421.3v-9.2M877.77,866.4v9.2" stroke="#000" stroke-width="4.5" fill="none"/>
<path d="M161.9,1282.58h18M925.5,1282.58h-18M161.9,1143.85h18M925.5,1143.85h-18M161.9,1005.12h18M925.5,1005.12h-18" stroke="#000" stroke-width="5" fill="none"/>
<path d="M161.9,1393.56h9.2M925.5,1393.56h-9.2M161.9,1365.81h9.2M925.5,1365.81h-9.2M161.9,1338.07h9.2M925.5,1338.07h-9.2M161.9,1310.32h9.2M925.5,1310.32h-9.2M161.9,1254.83h9.2M925.5,1254.83h-9.2M161.9,1227.09h9.2M925.5,1227.09h-9.2M161.9,1199.34h9.2M925.5,1199.34h-9.2M161.9,1171.6h9.2M925.5,1171.6h-9.2M161.9,1116.11h9.2M925.5,1116.11h-9.2M161.9,1088.36h9.2M925.5,1088.36h-9.2M161.9,1060.62h9.2M925.5,1060.62h-9.2M161.9,1032.87h9.2M925.5,1032.87h-9.2M161.9,977.38h9.2M925.5,977.38h-9.2M161.9,949.63h9.2M925.5,949.63h-9.2M161.9,921.89h9.2M925.5,921.89h-9.2M161.9,894.14h9.2M925.5,894.14h-9.2" stroke="#000" stroke-width="4.5" fill="none"/>
<rect x="161.9" y="866.4" width="763.6" height="554.9" fill="none" stroke="#000" stroke-width="5"/>
<rect x="954.6" y="1002" width="765.4" height="282.3" fill="#bbddff"/>
<path d="M997.12,986.85L985.22,1010.65L1009.02,1010.65Z" fill="#ffa500" stroke="#ff8c00" stroke-width="4.6" stroke-linejoin="bevel"/>
<path d="M1082.17,1042.35L1070.27,1066.15L1094.07,1066.15Z" fill="#ffa500" stroke="#ff8c00" stroke-width="4.6" stroke-linejoin="bevel"/>
<path d="M1252.26,1096.9L1240.36,1120.7L1264.16,1120.7Z" fill="#ffa500" stroke="#ff8c00" stroke-width="4.6" stroke-linejoin="bevel"/>
<path d="M1294.78,1159.65L1282.88,1183.45L1306.68,1183.45Z" fill="#ffa500" stroke="#ff8c00" stroke-width="4.6" stroke-linejoin="bevel"/>
<path d="M1592.43,1151.45L1580.53,1175.25L1604.33,1175.25Z" fill="#ffa500" stroke="#ff8c00" stroke-width="4.6" stroke-linejoin="bevel"/>
<path d="M1677.48,1095.45L1665.58,1119.25L1689.38,1119.25Z" fill="#ffa500" stroke="#ff8c00" stroke-width="4.6" stroke-linejoin="bevel"/>
<text class="se" x="1331" y="1129.6" font-size="56" fill="#1e90ff" textLength="260" lengthAdjust="spacing">Morin et al</text>
<path d="M997.12,1421.3v-18M997.12,865.6v18M1082.17,1421.3v-18M1082.17,865.6v18M1252.26,1421.3v-18M1252.26,865.6v18M1294.78,1421.3v-18M1294.78,865.6v18M1592.43,1421.3v-18M1592.43,865.6v18M1677.48,1421.3v-18M1677.48,865.6v18" stroke="#000" stroke-width="5" fill="none"/>
<path d="M1039.64,1421.3v-9.2M1039.64,865.6v9.2M1124.69,1421.3v-9.2M1124.69,865.6v9.2M1167.21,1421.3v-9.2M1167.21,865.6v9.2M1209.73,1421.3v-9.2M1209.73,865.6v9.2M1337.3,1421.3v-9.2M1337.3,865.6v9.2M1379.82,1421.3v-9.2M1379.82,865.6v9.2M1422.34,1421.3v-9.2M1422.34,865.6v9.2M1464.87,1421.3v-9.2M1464.87,865.6v9.2M1507.39,1421.3v-9.2M1507.39,865.6v9.2M1549.91,1421.3v-9.2M1549.91,865.6v9.2M1634.96,1421.3v-9.2M1634.96,865.6v9.2" stroke="#000" stroke-width="4.5" fill="none"/>
<path d="M954.6,1282.38h18M1720,1282.38h-18M954.6,1143.45h18M1720,1143.45h-18M954.6,1004.52h18M1720,1004.52h-18" stroke="#000" stroke-width="5" fill="none"/>
<path d="M954.6,1393.51h9.2M1720,1393.51h-9.2M954.6,1365.73h9.2M1720,1365.73h-9.2M954.6,1337.94h9.2M1720,1337.94h-9.2M954.6,1310.16h9.2M1720,1310.16h-9.2M954.6,1254.59h9.2M1720,1254.59h-9.2M954.6,1226.8h9.2M1720,1226.8h-9.2M954.6,1199.02h9.2M1720,1199.02h-9.2M954.6,1171.23h9.2M1720,1171.23h-9.2M954.6,1115.66h9.2M1720,1115.66h-9.2M954.6,1087.88h9.2M1720,1087.88h-9.2M954.6,1060.1h9.2M1720,1060.1h-9.2M954.6,1032.31h9.2M1720,1032.31h-9.2M954.6,976.74h9.2M1720,976.74h-9.2M954.6,948.95h9.2M1720,948.95h-9.2M954.6,921.17h9.2M1720,921.17h-9.2M954.6,893.38h9.2M1720,893.38h-9.2" stroke="#000" stroke-width="4.5" fill="none"/>
<path d="M954.6,1143.3H1720.0" stroke="#1e90ff" stroke-width="5.6"/>
<rect x="954.6" y="865.6" width="765.4" height="555.7" fill="none" stroke="#000" stroke-width="5"/>
<text class="se" x="132" y="1440.1" font-size="56" fill="#000" text-anchor="middle">0</text>
<text class="se" x="132" y="1301.38" font-size="56" fill="#000" text-anchor="middle">1</text>
<text class="se" x="132" y="1162.65" font-size="56" fill="#000" text-anchor="middle">2</text>
<text class="se" x="132" y="1023.92" font-size="56" fill="#000" text-anchor="middle">3</text>
<text class="se" x="132" y="885.2" font-size="56" fill="#000" text-anchor="middle">4</text>
<text class="se" transform="translate(161.9,1477) scale(0.985,1)" font-size="56" fill="#000" text-anchor="middle">0.00</text>
<text class="se" transform="translate(352.8,1477) scale(0.985,1)" font-size="56" fill="#000" text-anchor="middle">0.02</text>
<text class="se" transform="translate(543.7,1477) scale(0.985,1)" font-size="56" fill="#000" text-anchor="middle">0.04</text>
<text class="se" transform="translate(734.6,1477) scale(0.985,1)" font-size="56" fill="#000" text-anchor="middle">0.06</text>
<text class="se" transform="translate(925.5,1477) scale(0.985,1)" font-size="56" fill="#000" text-anchor="middle">0.08</text>
<text class="se" x="997.12" y="1477" font-size="56" fill="#000" text-anchor="middle">2</text>
<text class="se" x="1082.17" y="1477" font-size="56" fill="#000" text-anchor="middle">4</text>
<text class="se" x="1252.26" y="1477" font-size="56" fill="#000" text-anchor="middle">8</text>
<text class="se" x="1294.78" y="1477" font-size="56" fill="#000" text-anchor="middle">9</text>
<text class="se" transform="translate(1593.03,1477) scale(0.985,1)" font-size="56" fill="#000" text-anchor="middle">16</text>
<text class="se" transform="translate(1678.08,1477) scale(0.985,1)" font-size="56" fill="#000" text-anchor="middle">18</text>
<text class="se" fill="#000"><tspan x="464.5" y="1573" font-size="52" font-style="italic" textLength="28.72" lengthAdjust="spacingAndGlyphs">σ</tspan><tspan> </tspan><tspan x="516.5" y="1586.5" font-size="79" textLength="21.51" lengthAdjust="spacingAndGlyphs">/</tspan><tspan> </tspan><tspan x="559" y="1573" font-size="56">eV</tspan></text>
<text class="se" fill="#000"><tspan x="1290.3" y="1561.4" font-size="56" font-style="italic" textLength="39.59" lengthAdjust="spacingAndGlyphs">N</tspan><tspan x="1330.1" y="1570.5" font-size="40.4" textLength="57.81" lengthAdjust="spacingAndGlyphs">CO</tspan></text>
<g transform="translate(47.5,1229) rotate(-90)">
<text class="se" fill="#000"><tspan x="0" y="0" font-size="52" font-style="italic" textLength="20.47" lengthAdjust="spacingAndGlyphs">τ</tspan><tspan x="23.5" y="16.5" font-size="40.4">IS</tspan><tspan x="29.5" y="-24.5" font-size="40.4" font-weight="bold">q</tspan><tspan> </tspan><tspan x="79" y="13.5" font-size="79" textLength="21.51" lengthAdjust="spacingAndGlyphs">/</tspan><tspan> </tspan><tspan x="121.5" y="0" font-size="56">ps</tspan></text>
<path d="M31,-46.5h17.5" stroke="#000" stroke-width="2.3" fill="none"/>
</g>
<text class="se" fill="#000"><tspan x="193.8" y="941.6" font-size="56" font-style="italic" textLength="39.59" lengthAdjust="spacingAndGlyphs">N</tspan><tspan x="233.6" y="950.7" font-size="40.4" textLength="57.81" lengthAdjust="spacingAndGlyphs">CO</tspan><tspan> </tspan><tspan x="307.5" y="945" font-size="55" textLength="44.05" lengthAdjust="spacingAndGlyphs">=</tspan><tspan> </tspan><tspan x="365.5" y="941.8" font-size="56">9</tspan></text>
<text class="se" fill="#000"><tspan x="177.2" y="1360.3" font-size="78">(</tspan><tspan x="203.5" y="1360" font-size="70">b</tspan><tspan x="237.82" y="1360.3" font-size="78">)</tspan></text>
<text class="se" fill="#000"><tspan x="967.2" y="1360.3" font-size="78">(</tspan><tspan x="990.97" y="1360" font-size="70">c</tspan><tspan x="1018.82" y="1360.3" font-size="78">)</tspan></text>
<text class="se" fill="#000"><tspan x="1423" y="1394.6" font-size="52" font-style="italic" textLength="28.72" lengthAdjust="spacingAndGlyphs">σ</tspan><tspan> </tspan><tspan x="1468" y="1398" font-size="55" textLength="44.05" lengthAdjust="spacingAndGlyphs">=</tspan><tspan> </tspan><tspan x="1525.5" y="1394.8" font-size="56" textLength="96.53" lengthAdjust="spacingAndGlyphs">0.05</tspan><tspan> </tspan><tspan x="1639" y="1394.6" font-size="56">eV</tspan></text>
</svg></body></html>
